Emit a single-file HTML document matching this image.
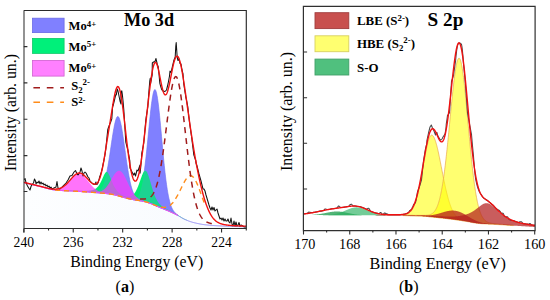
<!DOCTYPE html>
<html><head><meta charset="utf-8"><style>
html,body{margin:0;padding:0;background:#fff;}
body{width:550px;height:300px;overflow:hidden;font-family:"Liberation Serif",serif;}
svg{display:block;}
</style></head><body>
<svg width="550" height="300" viewBox="0 0 550 300">
<clipPath id="cl"><rect x="23.8" y="10.1" width="222.5" height="218.4"/></clipPath>
<g clip-path="url(#cl)">
<linearGradient id="pg" x1="0" x2="1" y1="0" y2="0"><stop offset="0" stop-color="#fdfeff"/><stop offset="1" stop-color="#f7fafe"/></linearGradient>
<path d="M23.8,182.5 L24.05,182.56 L24.3,182.63 L24.55,182.69 L24.8,182.75 L25.05,182.82 L25.3,182.88 L25.55,182.94 L25.8,183.01 L26.05,183.07 L26.3,183.13 L26.55,183.2 L26.8,183.26 L27.05,183.32 L27.3,183.38 L27.55,183.45 L27.8,183.51 L28.05,183.57 L28.3,183.63 L28.55,183.7 L28.8,183.76 L29.05,183.82 L29.3,183.88 L29.55,183.95 L29.8,184.01 L30.05,184.07 L30.3,184.13 L30.55,184.19 L30.8,184.26 L31.05,184.32 L31.3,184.38 L31.55,184.44 L31.8,184.5 L32.05,184.57 L32.3,184.63 L32.55,184.69 L32.8,184.75 L33.05,184.81 L33.3,184.87 L33.55,184.93 L33.8,185 L34.05,185.06 L34.3,185.12 L34.55,185.18 L34.8,185.24 L35.05,185.3 L35.3,185.36 L35.55,185.42 L35.8,185.48 L36.05,185.55 L36.3,185.61 L36.55,185.67 L36.8,185.73 L37.05,185.79 L37.3,185.85 L37.55,185.91 L37.8,185.97 L38.05,186.03 L38.3,186.09 L38.55,186.15 L38.8,186.21 L39.05,186.27 L39.3,186.33 L39.55,186.39 L39.8,186.45 L40.05,186.51 L40.3,186.57 L40.55,186.63 L40.8,186.7 L41.05,186.76 L41.3,186.82 L41.55,186.89 L41.8,186.95 L42.05,187.02 L42.3,187.09 L42.55,187.15 L42.8,187.22 L43.05,187.29 L43.3,187.36 L43.55,187.43 L43.8,187.5 L44.05,187.57 L44.3,187.63 L44.55,187.7 L44.8,187.77 L45.05,187.84 L45.3,187.91 L45.55,187.98 L45.8,188.05 L46.05,188.12 L46.3,188.19 L46.55,188.26 L46.8,188.32 L47.05,188.39 L47.3,188.46 L47.55,188.52 L47.8,188.59 L48.05,188.66 L48.3,188.72 L48.55,188.78 L48.8,188.85 L49.05,188.91 L49.3,188.97 L49.55,189.03 L49.8,189.09 L50.05,189.15 L50.3,189.2 L50.55,189.26 L50.8,189.31 L51.05,189.37 L51.3,189.42 L51.55,189.47 L51.8,189.52 L52.05,189.57 L52.3,189.61 L52.55,189.66 L52.8,189.7 L53.05,189.74 L53.3,189.78 L53.55,189.82 L53.8,189.86 L54.05,189.89 L54.3,189.92 L54.55,189.95 L54.8,189.98 L55.05,190.01 L55.3,190.03 L55.55,190.05 L55.8,190.08 L56.05,190.1 L56.3,190.12 L56.55,190.15 L56.8,190.17 L57.05,190.19 L57.3,190.21 L57.55,190.23 L57.8,190.25 L58.05,190.27 L58.3,190.29 L58.55,190.31 L58.8,190.33 L59.05,190.35 L59.3,190.37 L59.55,190.39 L59.8,190.41 L60.05,190.43 L60.3,190.44 L60.55,190.46 L60.8,190.48 L61.05,190.49 L61.3,190.51 L61.55,190.53 L61.8,190.54 L62.05,190.56 L62.3,190.57 L62.55,190.59 L62.8,190.6 L63.05,190.62 L63.3,190.63 L63.55,190.64 L63.8,190.66 L64.05,190.67 L64.3,190.69 L64.55,190.7 L64.8,190.71 L65.05,190.73 L65.3,190.74 L65.55,190.75 L65.8,190.76 L66.05,190.78 L66.3,190.79 L66.55,190.8 L66.8,190.81 L67.05,190.83 L67.3,190.84 L67.55,190.85 L67.8,190.86 L68.05,190.87 L68.3,190.88 L68.55,190.9 L68.8,190.91 L69.05,190.92 L69.3,190.93 L69.55,190.94 L69.8,190.95 L70.05,190.97 L70.3,190.98 L70.55,190.99 L70.8,191 L71.05,191.01 L71.3,191.02 L71.55,191.03 L71.8,191.05 L72.05,191.06 L72.3,191.07 L72.55,191.08 L72.8,191.09 L73.05,191.11 L73.3,191.12 L73.55,191.13 L73.8,191.14 L74.05,191.15 L74.3,191.17 L74.55,191.18 L74.8,191.19 L75.05,191.2 L75.3,191.22 L75.55,191.23 L75.8,191.24 L76.05,191.26 L76.3,191.27 L76.55,191.29 L76.8,191.3 L77.05,191.31 L77.3,191.33 L77.55,191.34 L77.8,191.36 L78.05,191.37 L78.3,191.39 L78.55,191.4 L78.8,191.42 L79.05,191.44 L79.3,191.45 L79.55,191.47 L79.8,191.49 L80.05,191.5 L80.3,191.52 L80.55,191.54 L80.8,191.56 L81.05,191.57 L81.3,191.59 L81.55,191.61 L81.8,191.62 L82.05,191.64 L82.3,191.66 L82.55,191.67 L82.8,191.69 L83.05,191.71 L83.3,191.72 L83.55,191.74 L83.8,191.76 L84.05,191.77 L84.3,191.79 L84.55,191.81 L84.8,191.82 L85.05,191.84 L85.3,191.86 L85.55,191.87 L85.8,191.89 L86.05,191.91 L86.3,191.92 L86.55,191.94 L86.8,191.96 L87.05,191.97 L87.3,191.99 L87.55,192 L87.8,192.02 L88.05,192.04 L88.3,192.05 L88.55,192.07 L88.8,192.09 L89.05,192.11 L89.3,192.12 L89.55,192.14 L89.8,192.16 L90.05,192.17 L90.3,192.19 L90.55,192.21 L90.8,192.22 L91.05,192.24 L91.3,192.26 L91.55,192.28 L91.8,192.29 L92.05,192.31 L92.3,192.33 L92.55,192.35 L92.8,192.36 L93.05,192.38 L93.3,192.4 L93.55,192.42 L93.8,192.44 L94.05,192.45 L94.3,192.47 L94.55,192.49 L94.8,192.51 L95.05,192.53 L95.3,192.55 L95.55,192.57 L95.8,192.59 L96.05,192.61 L96.3,192.63 L96.55,192.64 L96.8,192.66 L97.05,192.68 L97.3,192.7 L97.55,192.72 L97.8,192.74 L98.05,192.77 L98.3,192.79 L98.55,192.81 L98.8,192.83 L99.05,192.85 L99.3,192.87 L99.55,192.89 L99.8,192.91 L100.05,192.94 L100.3,192.96 L100.55,192.98 L100.8,193 L101.05,193.03 L101.3,193.05 L101.55,193.07 L101.8,193.09 L102.05,193.12 L102.3,193.14 L102.55,193.17 L102.8,193.19 L103.05,193.21 L103.3,193.24 L103.55,193.26 L103.8,193.29 L104.05,193.32 L104.3,193.34 L104.55,193.37 L104.8,193.39 L105.05,193.42 L105.3,193.45 L105.55,193.47 L105.8,193.5 L106.05,193.53 L106.3,193.56 L106.55,193.58 L106.8,193.61 L107.05,193.64 L107.3,193.67 L107.55,193.7 L107.8,193.73 L108.05,193.76 L108.3,193.79 L108.55,193.82 L108.8,193.85 L109.05,193.88 L109.3,193.91 L109.55,193.94 L109.8,193.97 L110.05,194.01 L110.3,194.04 L110.55,194.08 L110.8,194.11 L111.05,194.15 L111.3,194.19 L111.55,194.23 L111.8,194.28 L112.05,194.32 L112.3,194.37 L112.55,194.42 L112.8,194.46 L113.05,194.51 L113.3,194.57 L113.55,194.62 L113.8,194.67 L114.05,194.73 L114.3,194.79 L114.55,194.84 L114.8,194.9 L115.05,194.96 L115.3,195.02 L115.55,195.08 L115.8,195.15 L116.05,195.21 L116.3,195.28 L116.55,195.34 L116.8,195.41 L117.05,195.47 L117.3,195.54 L117.55,195.61 L117.8,195.68 L118.05,195.75 L118.3,195.82 L118.55,195.89 L118.8,195.96 L119.05,196.03 L119.3,196.1 L119.55,196.17 L119.8,196.25 L120.05,196.32 L120.3,196.39 L120.55,196.46 L120.8,196.54 L121.05,196.61 L121.3,196.68 L121.55,196.76 L121.8,196.83 L122.05,196.9 L122.3,196.98 L122.55,197.05 L122.8,197.12 L123.05,197.2 L123.3,197.27 L123.55,197.34 L123.8,197.41 L124.05,197.49 L124.3,197.56 L124.55,197.63 L124.8,197.7 L125.05,197.77 L125.3,197.84 L125.55,197.91 L125.8,197.98 L126.05,198.04 L126.3,198.11 L126.55,198.18 L126.8,198.24 L127.05,198.31 L127.3,198.37 L127.55,198.44 L127.8,198.5 L128.05,198.56 L128.3,198.62 L128.55,198.68 L128.8,198.74 L129.05,198.79 L129.3,198.85 L129.55,198.9 L129.8,198.96 L130.05,199.01 L130.3,199.06 L130.55,199.11 L130.8,199.16 L131.05,199.21 L131.3,199.26 L131.55,199.3 L131.8,199.35 L132.05,199.4 L132.3,199.44 L132.55,199.48 L132.8,199.53 L133.05,199.57 L133.3,199.61 L133.55,199.65 L133.8,199.7 L134.05,199.74 L134.3,199.78 L134.55,199.82 L134.8,199.86 L135.05,199.9 L135.3,199.94 L135.55,199.98 L135.8,200.01 L136.05,200.05 L136.3,200.09 L136.55,200.13 L136.8,200.17 L137.05,200.21 L137.3,200.25 L137.55,200.29 L137.8,200.33 L138.05,200.37 L138.3,200.41 L138.55,200.45 L138.8,200.49 L139.05,200.53 L139.3,200.57 L139.55,200.61 L139.8,200.65 L140.05,200.69 L140.3,200.74 L140.55,200.78 L140.8,200.82 L141.05,200.87 L141.3,200.92 L141.55,200.96 L141.8,201.01 L142.05,201.06 L142.3,201.11 L142.55,201.16 L142.8,201.21 L143.05,201.26 L143.3,201.31 L143.55,201.36 L143.8,201.42 L144.05,201.48 L144.3,201.53 L144.55,201.59 L144.8,201.65 L145.05,201.71 L145.3,201.78 L145.55,201.84 L145.8,201.91 L146.05,201.98 L146.3,202.05 L146.55,202.12 L146.8,202.2 L147.05,202.27 L147.3,202.35 L147.55,202.43 L147.8,202.51 L148.05,202.6 L148.3,202.68 L148.55,202.77 L148.8,202.86 L149.05,202.95 L149.3,203.04 L149.55,203.13 L149.8,203.22 L150.05,203.32 L150.3,203.41 L150.55,203.51 L150.8,203.61 L151.05,203.71 L151.3,203.81 L151.55,203.91 L151.8,204.01 L152.05,204.11 L152.3,204.22 L152.55,204.32 L152.8,204.43 L153.05,204.53 L153.3,204.64 L153.55,204.74 L153.8,204.85 L154.05,204.96 L154.3,205.06 L154.55,205.17 L154.8,205.28 L155.05,205.39 L155.3,205.5 L155.55,205.61 L155.8,205.72 L156.05,205.82 L156.3,205.93 L156.55,206.04 L156.8,206.15 L157.05,206.26 L157.3,206.37 L157.55,206.47 L157.8,206.58 L158.05,206.69 L158.3,206.79 L158.55,206.9 L158.8,207 L159.05,207.11 L159.3,207.21 L159.55,207.32 L159.8,207.42 L160.05,207.52 L160.3,207.62 L160.55,207.72 L160.8,207.82 L161.05,207.92 L161.3,208.03 L161.55,208.13 L161.8,208.23 L162.05,208.33 L162.3,208.43 L162.55,208.53 L162.8,208.63 L163.05,208.73 L163.3,208.83 L163.55,208.93 L163.8,209.03 L164.05,209.13 L164.3,209.23 L164.55,209.34 L164.8,209.44 L165.05,209.54 L165.3,209.64 L165.55,209.74 L165.8,209.84 L166.05,209.95 L166.3,210.05 L166.55,210.15 L166.8,210.25 L167.05,210.36 L167.3,210.46 L167.55,210.57 L167.8,210.67 L168.05,210.77 L168.3,210.88 L168.55,210.98 L168.8,211.09 L169.05,211.2 L169.3,211.3 L169.55,211.41 L169.8,211.52 L170.05,211.63 L170.3,211.74 L170.55,211.85 L170.8,211.96 L171.05,212.07 L171.3,212.18 L171.55,212.29 L171.8,212.4 L172.05,212.51 L172.3,212.63 L172.55,212.74 L172.8,212.86 L173.05,212.97 L173.3,213.09 L173.55,213.21 L173.8,213.32 L174.05,213.44 L174.3,213.56 L174.55,213.68 L174.8,213.8 L175.05,213.92 L175.3,214.05 L175.55,214.18 L175.8,214.31 L176.05,214.44 L176.3,214.58 L176.55,214.71 L176.8,214.85 L177.05,215 L177.3,215.14 L177.55,215.29 L177.8,215.43 L178.05,215.58 L178.3,215.73 L178.55,215.88 L178.8,216.03 L179.05,216.19 L179.3,216.34 L179.55,216.49 L179.8,216.64 L180.05,216.8 L180.3,216.95 L180.55,217.1 L180.8,217.25 L181.05,217.4 L181.3,217.55 L181.55,217.69 L181.8,217.84 L182.05,217.98 L182.3,218.13 L182.55,218.27 L182.8,218.41 L183.05,218.54 L183.3,218.68 L183.55,218.81 L183.8,218.93 L184.05,219.06 L184.3,219.18 L184.55,219.3 L184.8,219.41 L185.05,219.52 L185.3,219.63 L185.55,219.74 L185.8,219.85 L186.05,219.95 L186.3,220.06 L186.55,220.16 L186.8,220.27 L187.05,220.37 L187.3,220.47 L187.55,220.57 L187.8,220.67 L188.05,220.77 L188.3,220.86 L188.55,220.96 L188.8,221.05 L189.05,221.14 L189.3,221.23 L189.55,221.32 L189.8,221.41 L190.05,221.5 L190.3,221.58 L190.55,221.66 L190.8,221.75 L191.05,221.83 L191.3,221.9 L191.55,221.98 L191.8,222.05 L192.05,222.12 L192.3,222.19 L192.55,222.26 L192.8,222.33 L193.05,222.39 L193.3,222.45 L193.55,222.52 L193.8,222.58 L194.05,222.64 L194.3,222.71 L194.55,222.77 L194.8,222.83 L195.05,222.89 L195.3,222.95 L195.55,223.01 L195.8,223.07 L196.05,223.13 L196.3,223.18 L196.55,223.24 L196.8,223.3 L197.05,223.35 L197.3,223.41 L197.55,223.46 L197.8,223.52 L198.05,223.57 L198.3,223.62 L198.55,223.67 L198.8,223.73 L199.05,223.78 L199.3,223.83 L199.55,223.87 L199.8,223.92 L200.05,223.97 L200.3,224.02 L200.55,224.06 L200.8,224.11 L201.05,224.15 L201.3,224.2 L201.55,224.24 L201.8,224.28 L202.05,224.32 L202.3,224.36 L202.55,224.4 L202.8,224.44 L203.05,224.48 L203.3,224.51 L203.55,224.55 L203.8,224.59 L204.05,224.62 L204.3,224.65 L204.55,224.69 L204.8,224.72 L205.05,224.75 L205.3,224.78 L205.55,224.81 L205.8,224.83 L206.05,224.86 L206.3,224.89 L206.55,224.92 L206.8,224.94 L207.05,224.97 L207.3,225 L207.55,225.02 L207.8,225.05 L208.05,225.07 L208.3,225.1 L208.55,225.12 L208.8,225.14 L209.05,225.17 L209.3,225.19 L209.55,225.21 L209.8,225.24 L210.05,225.26 L210.3,225.28 L210.55,225.3 L210.8,225.32 L211.05,225.34 L211.3,225.37 L211.55,225.39 L211.8,225.41 L212.05,225.43 L212.3,225.44 L212.55,225.46 L212.8,225.48 L213.05,225.5 L213.3,225.52 L213.55,225.54 L213.8,225.55 L214.05,225.57 L214.3,225.59 L214.55,225.6 L214.8,225.62 L215.05,225.64 L215.3,225.65 L215.55,225.67 L215.8,225.68 L216.05,225.7 L216.3,225.71 L216.55,225.72 L216.8,225.74 L217.05,225.75 L217.3,225.77 L217.55,225.78 L217.8,225.79 L218.05,225.8 L218.3,225.81 L218.55,225.83 L218.8,225.84 L219.05,225.85 L219.3,225.86 L219.55,225.87 L219.8,225.89 L220.05,225.9 L220.3,225.91 L220.55,225.92 L220.8,225.93 L221.05,225.95 L221.3,225.96 L221.55,225.97 L221.8,225.98 L222.05,225.99 L222.3,226.01 L222.55,226.02 L222.8,226.03 L223.05,226.04 L223.3,226.05 L223.55,226.06 L223.8,226.07 L224.05,226.09 L224.3,226.1 L224.55,226.11 L224.8,226.12 L225.05,226.13 L225.3,226.14 L225.55,226.15 L225.8,226.16 L226.05,226.18 L226.3,226.19 L226.55,226.2 L226.8,226.21 L227.05,226.22 L227.3,226.23 L227.55,226.24 L227.8,226.25 L228.05,226.26 L228.3,226.27 L228.55,226.28 L228.8,226.29 L229.05,226.3 L229.3,226.31 L229.55,226.32 L229.8,226.33 L230.05,226.34 L230.3,226.35 L230.55,226.36 L230.8,226.37 L231.05,226.38 L231.3,226.39 L231.55,226.4 L231.8,226.41 L232.05,226.42 L232.3,226.43 L232.55,226.43 L232.8,226.44 L233.05,226.45 L233.3,226.46 L233.55,226.47 L233.8,226.48 L234.05,226.49 L234.3,226.49 L234.55,226.5 L234.8,226.51 L235.05,226.52 L235.3,226.52 L235.55,226.53 L235.8,226.54 L236.05,226.55 L236.3,226.55 L236.55,226.56 L236.8,226.57 L237.05,226.57 L237.3,226.58 L237.55,226.59 L237.8,226.59 L238.05,226.6 L238.3,226.6 L238.55,226.61 L238.8,226.61 L239.05,226.62 L239.3,226.62 L239.55,226.63 L239.8,226.63 L240.05,226.64 L240.3,226.64 L240.55,226.65 L240.8,226.65 L241.05,226.66 L241.3,226.66 L241.55,226.66 L241.8,226.67 L242.05,226.67 L242.3,226.67 L242.55,226.68 L242.8,226.68 L243.05,226.68 L243.3,226.69 L243.55,226.69 L243.8,226.69 L244.05,226.69 L244.3,226.69 L244.55,226.69 L244.8,226.7 L245.05,226.7 L245.3,226.7 L245.55,226.7 L245.8,226.7 L246.05,226.7 L246.3,226.7 L246.3,228.5 L246.05,228.5 L245.8,228.5 L245.55,228.5 L245.3,228.5 L245.05,228.5 L244.8,228.5 L244.55,228.5 L244.3,228.5 L244.05,228.5 L243.8,228.5 L243.55,228.5 L243.3,228.5 L243.05,228.5 L242.8,228.5 L242.55,228.5 L242.3,228.5 L242.05,228.5 L241.8,228.5 L241.55,228.5 L241.3,228.5 L241.05,228.5 L240.8,228.5 L240.55,228.5 L240.3,228.5 L240.05,228.5 L239.8,228.5 L239.55,228.5 L239.3,228.5 L239.05,228.5 L238.8,228.5 L238.55,228.5 L238.3,228.5 L238.05,228.5 L237.8,228.5 L237.55,228.5 L237.3,228.5 L237.05,228.5 L236.8,228.5 L236.55,228.5 L236.3,228.5 L236.05,228.5 L235.8,228.5 L235.55,228.5 L235.3,228.5 L235.05,228.5 L234.8,228.5 L234.55,228.5 L234.3,228.5 L234.05,228.5 L233.8,228.5 L233.55,228.5 L233.3,228.5 L233.05,228.5 L232.8,228.5 L232.55,228.5 L232.3,228.5 L232.05,228.5 L231.8,228.5 L231.55,228.5 L231.3,228.5 L231.05,228.5 L230.8,228.5 L230.55,228.5 L230.3,228.5 L230.05,228.5 L229.8,228.5 L229.55,228.5 L229.3,228.5 L229.05,228.5 L228.8,228.5 L228.55,228.5 L228.3,228.5 L228.05,228.5 L227.8,228.5 L227.55,228.5 L227.3,228.5 L227.05,228.5 L226.8,228.5 L226.55,228.5 L226.3,228.5 L226.05,228.5 L225.8,228.5 L225.55,228.5 L225.3,228.5 L225.05,228.5 L224.8,228.5 L224.55,228.5 L224.3,228.5 L224.05,228.5 L223.8,228.5 L223.55,228.5 L223.3,228.5 L223.05,228.5 L222.8,228.5 L222.55,228.5 L222.3,228.5 L222.05,228.5 L221.8,228.5 L221.55,228.5 L221.3,228.5 L221.05,228.5 L220.8,228.5 L220.55,228.5 L220.3,228.5 L220.05,228.5 L219.8,228.5 L219.55,228.5 L219.3,228.5 L219.05,228.5 L218.8,228.5 L218.55,228.5 L218.3,228.5 L218.05,228.5 L217.8,228.5 L217.55,228.5 L217.3,228.5 L217.05,228.5 L216.8,228.5 L216.55,228.5 L216.3,228.5 L216.05,228.5 L215.8,228.5 L215.55,228.5 L215.3,228.5 L215.05,228.5 L214.8,228.5 L214.55,228.5 L214.3,228.5 L214.05,228.5 L213.8,228.5 L213.55,228.5 L213.3,228.5 L213.05,228.5 L212.8,228.5 L212.55,228.5 L212.3,228.5 L212.05,228.5 L211.8,228.5 L211.55,228.5 L211.3,228.5 L211.05,228.5 L210.8,228.5 L210.55,228.5 L210.3,228.5 L210.05,228.5 L209.8,228.5 L209.55,228.5 L209.3,228.5 L209.05,228.5 L208.8,228.5 L208.55,228.5 L208.3,228.5 L208.05,228.5 L207.8,228.5 L207.55,228.5 L207.3,228.5 L207.05,228.5 L206.8,228.5 L206.55,228.5 L206.3,228.5 L206.05,228.5 L205.8,228.5 L205.55,228.5 L205.3,228.5 L205.05,228.5 L204.8,228.5 L204.55,228.5 L204.3,228.5 L204.05,228.5 L203.8,228.5 L203.55,228.5 L203.3,228.5 L203.05,228.5 L202.8,228.5 L202.55,228.5 L202.3,228.5 L202.05,228.5 L201.8,228.5 L201.55,228.5 L201.3,228.5 L201.05,228.5 L200.8,228.5 L200.55,228.5 L200.3,228.5 L200.05,228.5 L199.8,228.5 L199.55,228.5 L199.3,228.5 L199.05,228.5 L198.8,228.5 L198.55,228.5 L198.3,228.5 L198.05,228.5 L197.8,228.5 L197.55,228.5 L197.3,228.5 L197.05,228.5 L196.8,228.5 L196.55,228.5 L196.3,228.5 L196.05,228.5 L195.8,228.5 L195.55,228.5 L195.3,228.5 L195.05,228.5 L194.8,228.5 L194.55,228.5 L194.3,228.5 L194.05,228.5 L193.8,228.5 L193.55,228.5 L193.3,228.5 L193.05,228.5 L192.8,228.5 L192.55,228.5 L192.3,228.5 L192.05,228.5 L191.8,228.5 L191.55,228.5 L191.3,228.5 L191.05,228.5 L190.8,228.5 L190.55,228.5 L190.3,228.5 L190.05,228.5 L189.8,228.5 L189.55,228.5 L189.3,228.5 L189.05,228.5 L188.8,228.5 L188.55,228.5 L188.3,228.5 L188.05,228.5 L187.8,228.5 L187.55,228.5 L187.3,228.5 L187.05,228.5 L186.8,228.5 L186.55,228.5 L186.3,228.5 L186.05,228.5 L185.8,228.5 L185.55,228.5 L185.3,228.5 L185.05,228.5 L184.8,228.5 L184.55,228.5 L184.3,228.5 L184.05,228.5 L183.8,228.5 L183.55,228.5 L183.3,228.5 L183.05,228.5 L182.8,228.5 L182.55,228.5 L182.3,228.5 L182.05,228.5 L181.8,228.5 L181.55,228.5 L181.3,228.5 L181.05,228.5 L180.8,228.5 L180.55,228.5 L180.3,228.5 L180.05,228.5 L179.8,228.5 L179.55,228.5 L179.3,228.5 L179.05,228.5 L178.8,228.5 L178.55,228.5 L178.3,228.5 L178.05,228.5 L177.8,228.5 L177.55,228.5 L177.3,228.5 L177.05,228.5 L176.8,228.5 L176.55,228.5 L176.3,228.5 L176.05,228.5 L175.8,228.5 L175.55,228.5 L175.3,228.5 L175.05,228.5 L174.8,228.5 L174.55,228.5 L174.3,228.5 L174.05,228.5 L173.8,228.5 L173.55,228.5 L173.3,228.5 L173.05,228.5 L172.8,228.5 L172.55,228.5 L172.3,228.5 L172.05,228.5 L171.8,228.5 L171.55,228.5 L171.3,228.5 L171.05,228.5 L170.8,228.5 L170.55,228.5 L170.3,228.5 L170.05,228.5 L169.8,228.5 L169.55,228.5 L169.3,228.5 L169.05,228.5 L168.8,228.5 L168.55,228.5 L168.3,228.5 L168.05,228.5 L167.8,228.5 L167.55,228.5 L167.3,228.5 L167.05,228.5 L166.8,228.5 L166.55,228.5 L166.3,228.5 L166.05,228.5 L165.8,228.5 L165.55,228.5 L165.3,228.5 L165.05,228.5 L164.8,228.5 L164.55,228.5 L164.3,228.5 L164.05,228.5 L163.8,228.5 L163.55,228.5 L163.3,228.5 L163.05,228.5 L162.8,228.5 L162.55,228.5 L162.3,228.5 L162.05,228.5 L161.8,228.5 L161.55,228.5 L161.3,228.5 L161.05,228.5 L160.8,228.5 L160.55,228.5 L160.3,228.5 L160.05,228.5 L159.8,228.5 L159.55,228.5 L159.3,228.5 L159.05,228.5 L158.8,228.5 L158.55,228.5 L158.3,228.5 L158.05,228.5 L157.8,228.5 L157.55,228.5 L157.3,228.5 L157.05,228.5 L156.8,228.5 L156.55,228.5 L156.3,228.5 L156.05,228.5 L155.8,228.5 L155.55,228.5 L155.3,228.5 L155.05,228.5 L154.8,228.5 L154.55,228.5 L154.3,228.5 L154.05,228.5 L153.8,228.5 L153.55,228.5 L153.3,228.5 L153.05,228.5 L152.8,228.5 L152.55,228.5 L152.3,228.5 L152.05,228.5 L151.8,228.5 L151.55,228.5 L151.3,228.5 L151.05,228.5 L150.8,228.5 L150.55,228.5 L150.3,228.5 L150.05,228.5 L149.8,228.5 L149.55,228.5 L149.3,228.5 L149.05,228.5 L148.8,228.5 L148.55,228.5 L148.3,228.5 L148.05,228.5 L147.8,228.5 L147.55,228.5 L147.3,228.5 L147.05,228.5 L146.8,228.5 L146.55,228.5 L146.3,228.5 L146.05,228.5 L145.8,228.5 L145.55,228.5 L145.3,228.5 L145.05,228.5 L144.8,228.5 L144.55,228.5 L144.3,228.5 L144.05,228.5 L143.8,228.5 L143.55,228.5 L143.3,228.5 L143.05,228.5 L142.8,228.5 L142.55,228.5 L142.3,228.5 L142.05,228.5 L141.8,228.5 L141.55,228.5 L141.3,228.5 L141.05,228.5 L140.8,228.5 L140.55,228.5 L140.3,228.5 L140.05,228.5 L139.8,228.5 L139.55,228.5 L139.3,228.5 L139.05,228.5 L138.8,228.5 L138.55,228.5 L138.3,228.5 L138.05,228.5 L137.8,228.5 L137.55,228.5 L137.3,228.5 L137.05,228.5 L136.8,228.5 L136.55,228.5 L136.3,228.5 L136.05,228.5 L135.8,228.5 L135.55,228.5 L135.3,228.5 L135.05,228.5 L134.8,228.5 L134.55,228.5 L134.3,228.5 L134.05,228.5 L133.8,228.5 L133.55,228.5 L133.3,228.5 L133.05,228.5 L132.8,228.5 L132.55,228.5 L132.3,228.5 L132.05,228.5 L131.8,228.5 L131.55,228.5 L131.3,228.5 L131.05,228.5 L130.8,228.5 L130.55,228.5 L130.3,228.5 L130.05,228.5 L129.8,228.5 L129.55,228.5 L129.3,228.5 L129.05,228.5 L128.8,228.5 L128.55,228.5 L128.3,228.5 L128.05,228.5 L127.8,228.5 L127.55,228.5 L127.3,228.5 L127.05,228.5 L126.8,228.5 L126.55,228.5 L126.3,228.5 L126.05,228.5 L125.8,228.5 L125.55,228.5 L125.3,228.5 L125.05,228.5 L124.8,228.5 L124.55,228.5 L124.3,228.5 L124.05,228.5 L123.8,228.5 L123.55,228.5 L123.3,228.5 L123.05,228.5 L122.8,228.5 L122.55,228.5 L122.3,228.5 L122.05,228.5 L121.8,228.5 L121.55,228.5 L121.3,228.5 L121.05,228.5 L120.8,228.5 L120.55,228.5 L120.3,228.5 L120.05,228.5 L119.8,228.5 L119.55,228.5 L119.3,228.5 L119.05,228.5 L118.8,228.5 L118.55,228.5 L118.3,228.5 L118.05,228.5 L117.8,228.5 L117.55,228.5 L117.3,228.5 L117.05,228.5 L116.8,228.5 L116.55,228.5 L116.3,228.5 L116.05,228.5 L115.8,228.5 L115.55,228.5 L115.3,228.5 L115.05,228.5 L114.8,228.5 L114.55,228.5 L114.3,228.5 L114.05,228.5 L113.8,228.5 L113.55,228.5 L113.3,228.5 L113.05,228.5 L112.8,228.5 L112.55,228.5 L112.3,228.5 L112.05,228.5 L111.8,228.5 L111.55,228.5 L111.3,228.5 L111.05,228.5 L110.8,228.5 L110.55,228.5 L110.3,228.5 L110.05,228.5 L109.8,228.5 L109.55,228.5 L109.3,228.5 L109.05,228.5 L108.8,228.5 L108.55,228.5 L108.3,228.5 L108.05,228.5 L107.8,228.5 L107.55,228.5 L107.3,228.5 L107.05,228.5 L106.8,228.5 L106.55,228.5 L106.3,228.5 L106.05,228.5 L105.8,228.5 L105.55,228.5 L105.3,228.5 L105.05,228.5 L104.8,228.5 L104.55,228.5 L104.3,228.5 L104.05,228.5 L103.8,228.5 L103.55,228.5 L103.3,228.5 L103.05,228.5 L102.8,228.5 L102.55,228.5 L102.3,228.5 L102.05,228.5 L101.8,228.5 L101.55,228.5 L101.3,228.5 L101.05,228.5 L100.8,228.5 L100.55,228.5 L100.3,228.5 L100.05,228.5 L99.8,228.5 L99.55,228.5 L99.3,228.5 L99.05,228.5 L98.8,228.5 L98.55,228.5 L98.3,228.5 L98.05,228.5 L97.8,228.5 L97.55,228.5 L97.3,228.5 L97.05,228.5 L96.8,228.5 L96.55,228.5 L96.3,228.5 L96.05,228.5 L95.8,228.5 L95.55,228.5 L95.3,228.5 L95.05,228.5 L94.8,228.5 L94.55,228.5 L94.3,228.5 L94.05,228.5 L93.8,228.5 L93.55,228.5 L93.3,228.5 L93.05,228.5 L92.8,228.5 L92.55,228.5 L92.3,228.5 L92.05,228.5 L91.8,228.5 L91.55,228.5 L91.3,228.5 L91.05,228.5 L90.8,228.5 L90.55,228.5 L90.3,228.5 L90.05,228.5 L89.8,228.5 L89.55,228.5 L89.3,228.5 L89.05,228.5 L88.8,228.5 L88.55,228.5 L88.3,228.5 L88.05,228.5 L87.8,228.5 L87.55,228.5 L87.3,228.5 L87.05,228.5 L86.8,228.5 L86.55,228.5 L86.3,228.5 L86.05,228.5 L85.8,228.5 L85.55,228.5 L85.3,228.5 L85.05,228.5 L84.8,228.5 L84.55,228.5 L84.3,228.5 L84.05,228.5 L83.8,228.5 L83.55,228.5 L83.3,228.5 L83.05,228.5 L82.8,228.5 L82.55,228.5 L82.3,228.5 L82.05,228.5 L81.8,228.5 L81.55,228.5 L81.3,228.5 L81.05,228.5 L80.8,228.5 L80.55,228.5 L80.3,228.5 L80.05,228.5 L79.8,228.5 L79.55,228.5 L79.3,228.5 L79.05,228.5 L78.8,228.5 L78.55,228.5 L78.3,228.5 L78.05,228.5 L77.8,228.5 L77.55,228.5 L77.3,228.5 L77.05,228.5 L76.8,228.5 L76.55,228.5 L76.3,228.5 L76.05,228.5 L75.8,228.5 L75.55,228.5 L75.3,228.5 L75.05,228.5 L74.8,228.5 L74.55,228.5 L74.3,228.5 L74.05,228.5 L73.8,228.5 L73.55,228.5 L73.3,228.5 L73.05,228.5 L72.8,228.5 L72.55,228.5 L72.3,228.5 L72.05,228.5 L71.8,228.5 L71.55,228.5 L71.3,228.5 L71.05,228.5 L70.8,228.5 L70.55,228.5 L70.3,228.5 L70.05,228.5 L69.8,228.5 L69.55,228.5 L69.3,228.5 L69.05,228.5 L68.8,228.5 L68.55,228.5 L68.3,228.5 L68.05,228.5 L67.8,228.5 L67.55,228.5 L67.3,228.5 L67.05,228.5 L66.8,228.5 L66.55,228.5 L66.3,228.5 L66.05,228.5 L65.8,228.5 L65.55,228.5 L65.3,228.5 L65.05,228.5 L64.8,228.5 L64.55,228.5 L64.3,228.5 L64.05,228.5 L63.8,228.5 L63.55,228.5 L63.3,228.5 L63.05,228.5 L62.8,228.5 L62.55,228.5 L62.3,228.5 L62.05,228.5 L61.8,228.5 L61.55,228.5 L61.3,228.5 L61.05,228.5 L60.8,228.5 L60.55,228.5 L60.3,228.5 L60.05,228.5 L59.8,228.5 L59.55,228.5 L59.3,228.5 L59.05,228.5 L58.8,228.5 L58.55,228.5 L58.3,228.5 L58.05,228.5 L57.8,228.5 L57.55,228.5 L57.3,228.5 L57.05,228.5 L56.8,228.5 L56.55,228.5 L56.3,228.5 L56.05,228.5 L55.8,228.5 L55.55,228.5 L55.3,228.5 L55.05,228.5 L54.8,228.5 L54.55,228.5 L54.3,228.5 L54.05,228.5 L53.8,228.5 L53.55,228.5 L53.3,228.5 L53.05,228.5 L52.8,228.5 L52.55,228.5 L52.3,228.5 L52.05,228.5 L51.8,228.5 L51.55,228.5 L51.3,228.5 L51.05,228.5 L50.8,228.5 L50.55,228.5 L50.3,228.5 L50.05,228.5 L49.8,228.5 L49.55,228.5 L49.3,228.5 L49.05,228.5 L48.8,228.5 L48.55,228.5 L48.3,228.5 L48.05,228.5 L47.8,228.5 L47.55,228.5 L47.3,228.5 L47.05,228.5 L46.8,228.5 L46.55,228.5 L46.3,228.5 L46.05,228.5 L45.8,228.5 L45.55,228.5 L45.3,228.5 L45.05,228.5 L44.8,228.5 L44.55,228.5 L44.3,228.5 L44.05,228.5 L43.8,228.5 L43.55,228.5 L43.3,228.5 L43.05,228.5 L42.8,228.5 L42.55,228.5 L42.3,228.5 L42.05,228.5 L41.8,228.5 L41.55,228.5 L41.3,228.5 L41.05,228.5 L40.8,228.5 L40.55,228.5 L40.3,228.5 L40.05,228.5 L39.8,228.5 L39.55,228.5 L39.3,228.5 L39.05,228.5 L38.8,228.5 L38.55,228.5 L38.3,228.5 L38.05,228.5 L37.8,228.5 L37.55,228.5 L37.3,228.5 L37.05,228.5 L36.8,228.5 L36.55,228.5 L36.3,228.5 L36.05,228.5 L35.8,228.5 L35.55,228.5 L35.3,228.5 L35.05,228.5 L34.8,228.5 L34.55,228.5 L34.3,228.5 L34.05,228.5 L33.8,228.5 L33.55,228.5 L33.3,228.5 L33.05,228.5 L32.8,228.5 L32.55,228.5 L32.3,228.5 L32.05,228.5 L31.8,228.5 L31.55,228.5 L31.3,228.5 L31.05,228.5 L30.8,228.5 L30.55,228.5 L30.3,228.5 L30.05,228.5 L29.8,228.5 L29.55,228.5 L29.3,228.5 L29.05,228.5 L28.8,228.5 L28.55,228.5 L28.3,228.5 L28.05,228.5 L27.8,228.5 L27.55,228.5 L27.3,228.5 L27.05,228.5 L26.8,228.5 L26.55,228.5 L26.3,228.5 L26.05,228.5 L25.8,228.5 L25.55,228.5 L25.3,228.5 L25.05,228.5 L24.8,228.5 L24.55,228.5 L24.3,228.5 L24.05,228.5 L23.8,228.5Z" fill="url(#pg)"/>
<path d="M94.8,192.21 L95.05,192.19 L95.3,192.17 L95.55,192.14 L95.8,192.1 L96.05,192.06 L96.3,192.02 L96.55,191.97 L96.8,191.91 L97.05,191.84 L97.3,191.76 L97.55,191.68 L97.8,191.58 L98.05,191.48 L98.3,191.36 L98.55,191.23 L98.8,191.08 L99.05,190.92 L99.3,190.74 L99.55,190.55 L99.8,190.34 L100.05,190.11 L100.3,189.86 L100.55,189.59 L100.8,189.29 L101.05,188.97 L101.3,188.62 L101.55,188.25 L101.8,187.85 L102.05,187.42 L102.3,186.95 L102.55,186.46 L102.8,185.93 L103.05,185.37 L103.3,184.76 L103.55,184.12 L103.8,183.45 L104.05,182.73 L104.3,181.97 L104.55,181.17 L104.8,180.32 L105.05,179.43 L105.3,178.5 L105.55,177.52 L105.8,176.5 L106.05,175.43 L106.3,174.32 L106.55,173.16 L106.8,171.95 L107.05,170.71 L107.3,169.41 L107.55,168.08 L107.8,166.7 L108.05,165.29 L108.3,163.83 L108.55,162.34 L108.8,160.82 L109.05,159.26 L109.3,157.67 L109.55,156.06 L109.8,154.43 L110.05,152.77 L110.3,151.1 L110.55,149.42 L110.8,147.74 L111.05,146.05 L111.3,144.36 L111.55,142.68 L111.8,141.01 L112.05,139.36 L112.3,137.72 L112.55,136.11 L112.8,134.54 L113.05,132.99 L113.3,131.49 L113.55,130.04 L113.8,128.63 L114.05,127.28 L114.3,125.99 L114.55,124.77 L114.8,123.62 L115.05,122.54 L115.3,121.53 L115.55,120.61 L115.8,119.78 L116.05,119.03 L116.3,118.38 L116.55,117.82 L116.8,117.36 L117.05,116.99 L117.3,116.73 L117.55,116.57 L117.8,116.51 L118.05,116.55 L118.3,116.7 L118.55,116.94 L118.8,117.3 L119.05,117.75 L119.3,118.3 L119.55,118.95 L119.8,119.69 L120.05,120.53 L120.3,121.45 L120.55,122.47 L120.8,123.56 L121.05,124.74 L121.3,125.99 L121.55,127.31 L121.8,128.7 L122.05,130.14 L122.3,131.65 L122.55,133.21 L122.8,134.81 L123.05,136.46 L123.3,138.14 L123.55,139.85 L123.8,141.59 L124.05,143.36 L124.3,145.13 L124.55,146.92 L124.8,148.72 L125.05,150.52 L125.3,152.32 L125.55,154.1 L125.8,155.88 L126.05,157.65 L126.3,159.39 L126.55,161.11 L126.8,162.81 L127.05,164.48 L127.3,166.11 L127.55,167.71 L127.8,169.28 L128.05,170.81 L128.3,172.29 L128.55,173.74 L128.8,175.14 L129.05,176.49 L129.3,177.81 L129.55,179.07 L129.8,180.29 L130.05,181.46 L130.3,182.59 L130.55,183.66 L130.8,184.7 L131.05,185.68 L131.3,186.62 L131.55,187.52 L131.8,188.37 L132.05,189.18 L132.3,189.95 L132.55,190.68 L132.8,191.36 L133.05,192.02 L133.3,192.63 L133.55,193.21 L133.8,193.75 L134.05,194.26 L134.3,194.74 L134.55,195.19 L134.8,195.62 L135.05,196.01 L135.3,196.38 L135.55,196.73 L135.8,197.05 L136.05,197.35 L136.3,197.64 L136.55,197.9 L136.8,198.14 L137.05,198.37 L137.3,198.58 L137.55,198.78 L137.8,198.97 L138.05,199.14 L138.3,199.3 L138.55,199.45 L138.8,199.59 L139.05,199.73 L139.3,199.85 L139.55,199.97 L139.8,200.08 L140.05,200.18 L140.3,200.28 L140.55,200.37 L140.8,200.46 L141.05,200.55 L141.05,200.87 L140.8,200.82 L140.55,200.78 L140.3,200.74 L140.05,200.69 L139.8,200.65 L139.55,200.61 L139.3,200.57 L139.05,200.53 L138.8,200.49 L138.55,200.45 L138.3,200.41 L138.05,200.37 L137.8,200.33 L137.55,200.29 L137.3,200.25 L137.05,200.21 L136.8,200.17 L136.55,200.13 L136.3,200.09 L136.05,200.05 L135.8,200.01 L135.55,199.98 L135.3,199.94 L135.05,199.9 L134.8,199.86 L134.55,199.82 L134.3,199.78 L134.05,199.74 L133.8,199.7 L133.55,199.65 L133.3,199.61 L133.05,199.57 L132.8,199.53 L132.55,199.48 L132.3,199.44 L132.05,199.4 L131.8,199.35 L131.55,199.3 L131.3,199.26 L131.05,199.21 L130.8,199.16 L130.55,199.11 L130.3,199.06 L130.05,199.01 L129.8,198.96 L129.55,198.9 L129.3,198.85 L129.05,198.79 L128.8,198.74 L128.55,198.68 L128.3,198.62 L128.05,198.56 L127.8,198.5 L127.55,198.44 L127.3,198.37 L127.05,198.31 L126.8,198.24 L126.55,198.18 L126.3,198.11 L126.05,198.04 L125.8,197.98 L125.55,197.91 L125.3,197.84 L125.05,197.77 L124.8,197.7 L124.55,197.63 L124.3,197.56 L124.05,197.49 L123.8,197.41 L123.55,197.34 L123.3,197.27 L123.05,197.2 L122.8,197.12 L122.55,197.05 L122.3,196.98 L122.05,196.9 L121.8,196.83 L121.55,196.76 L121.3,196.68 L121.05,196.61 L120.8,196.54 L120.55,196.46 L120.3,196.39 L120.05,196.32 L119.8,196.25 L119.55,196.17 L119.3,196.1 L119.05,196.03 L118.8,195.96 L118.55,195.89 L118.3,195.82 L118.05,195.75 L117.8,195.68 L117.55,195.61 L117.3,195.54 L117.05,195.47 L116.8,195.41 L116.55,195.34 L116.3,195.28 L116.05,195.21 L115.8,195.15 L115.55,195.08 L115.3,195.02 L115.05,194.96 L114.8,194.9 L114.55,194.84 L114.3,194.79 L114.05,194.73 L113.8,194.67 L113.55,194.62 L113.3,194.57 L113.05,194.51 L112.8,194.46 L112.55,194.42 L112.3,194.37 L112.05,194.32 L111.8,194.28 L111.55,194.23 L111.3,194.19 L111.05,194.15 L110.8,194.11 L110.55,194.08 L110.3,194.04 L110.05,194.01 L109.8,193.97 L109.55,193.94 L109.3,193.91 L109.05,193.88 L108.8,193.85 L108.55,193.82 L108.3,193.79 L108.05,193.76 L107.8,193.73 L107.55,193.7 L107.3,193.67 L107.05,193.64 L106.8,193.61 L106.55,193.58 L106.3,193.56 L106.05,193.53 L105.8,193.5 L105.55,193.47 L105.3,193.45 L105.05,193.42 L104.8,193.39 L104.55,193.37 L104.3,193.34 L104.05,193.32 L103.8,193.29 L103.55,193.26 L103.3,193.24 L103.05,193.21 L102.8,193.19 L102.55,193.17 L102.3,193.14 L102.05,193.12 L101.8,193.09 L101.55,193.07 L101.3,193.05 L101.05,193.03 L100.8,193 L100.55,192.98 L100.3,192.96 L100.05,192.94 L99.8,192.91 L99.55,192.89 L99.3,192.87 L99.05,192.85 L98.8,192.83 L98.55,192.81 L98.3,192.79 L98.05,192.77 L97.8,192.74 L97.55,192.72 L97.3,192.7 L97.05,192.68 L96.8,192.66 L96.55,192.64 L96.3,192.63 L96.05,192.61 L95.8,192.59 L95.55,192.57 L95.3,192.55 L95.05,192.53 L94.8,192.51Z" fill="#8080ff" fill-opacity="1" stroke="#7070f0" stroke-width="0.6"/>
<path d="M132.55,199.14 L132.8,199.14 L133.05,199.13 L133.3,199.11 L133.55,199.09 L133.8,199.05 L134.05,199.01 L134.3,198.96 L134.55,198.9 L134.8,198.82 L135.05,198.74 L135.3,198.64 L135.55,198.52 L135.8,198.39 L136.05,198.24 L136.3,198.07 L136.55,197.88 L136.8,197.67 L137.05,197.43 L137.3,197.17 L137.55,196.88 L137.8,196.56 L138.05,196.21 L138.3,195.83 L138.55,195.41 L138.8,194.96 L139.05,194.46 L139.3,193.92 L139.55,193.34 L139.8,192.71 L140.05,192.03 L140.3,191.3 L140.55,190.51 L140.8,189.67 L141.05,188.77 L141.3,187.81 L141.55,186.79 L141.8,185.71 L142.05,184.55 L142.3,183.33 L142.55,182.04 L142.8,180.69 L143.05,179.25 L143.3,177.75 L143.55,176.18 L143.8,174.53 L144.05,172.81 L144.3,171.01 L144.55,169.15 L144.8,167.21 L145.05,165.2 L145.3,163.13 L145.55,160.99 L145.8,158.8 L146.05,156.54 L146.3,154.23 L146.55,151.87 L146.8,149.46 L147.05,147.01 L147.3,144.53 L147.55,142.01 L147.8,139.47 L148.05,136.91 L148.3,134.34 L148.55,131.77 L148.8,129.2 L149.05,126.64 L149.3,124.1 L149.55,121.59 L149.8,119.12 L150.05,116.69 L150.3,114.32 L150.55,112 L150.8,109.76 L151.05,107.59 L151.3,105.52 L151.55,103.54 L151.8,101.66 L152.05,99.89 L152.3,98.25 L152.55,96.73 L152.8,95.34 L153.05,94.09 L153.3,92.98 L153.55,92.03 L153.8,91.22 L154.05,90.58 L154.3,90.09 L154.55,89.77 L154.8,89.61 L155.05,89.62 L155.3,89.8 L155.55,90.14 L155.8,90.64 L156.05,91.31 L156.3,92.14 L156.55,93.12 L156.8,94.26 L157.05,95.55 L157.3,96.99 L157.55,98.56 L157.8,100.27 L158.05,102.1 L158.3,104.05 L158.55,106.11 L158.8,108.28 L159.05,110.54 L159.3,112.89 L159.55,115.32 L159.8,117.82 L160.05,120.38 L160.3,123 L160.55,125.66 L160.8,128.35 L161.05,131.08 L161.3,133.82 L161.55,136.58 L161.8,139.34 L162.05,142.1 L162.3,144.84 L162.55,147.57 L162.8,150.27 L163.05,152.94 L163.3,155.58 L163.55,158.17 L163.8,160.72 L164.05,163.21 L164.3,165.65 L164.55,168.03 L164.8,170.35 L165.05,172.6 L165.3,174.78 L165.55,176.89 L165.8,178.93 L166.05,180.9 L166.3,182.8 L166.55,184.62 L166.8,186.37 L167.05,188.04 L167.3,189.64 L167.55,191.17 L167.8,192.63 L168.05,194.02 L168.3,195.33 L168.55,196.59 L168.8,197.77 L169.05,198.9 L169.3,199.96 L169.55,200.97 L169.8,201.91 L170.05,202.81 L170.3,203.65 L170.55,204.44 L170.8,205.18 L171.05,205.88 L171.3,206.54 L171.55,207.16 L171.8,207.73 L172.05,208.28 L172.3,208.79 L172.55,209.27 L172.8,209.71 L173.05,210.14 L173.3,210.53 L173.55,210.9 L173.8,211.26 L174.05,211.59 L174.3,211.9 L174.55,212.19 L174.8,212.47 L175.05,212.74 L175.3,212.99 L175.55,213.24 L175.8,213.47 L176.05,213.7 L176.3,213.92 L176.55,214.13 L176.8,214.34 L177.05,214.54 L177.3,214.74 L177.55,214.94 L177.8,215.13 L177.8,215.43 L177.55,215.29 L177.3,215.14 L177.05,215 L176.8,214.85 L176.55,214.71 L176.3,214.58 L176.05,214.44 L175.8,214.31 L175.55,214.18 L175.3,214.05 L175.05,213.92 L174.8,213.8 L174.55,213.68 L174.3,213.56 L174.05,213.44 L173.8,213.32 L173.55,213.21 L173.3,213.09 L173.05,212.97 L172.8,212.86 L172.55,212.74 L172.3,212.63 L172.05,212.51 L171.8,212.4 L171.55,212.29 L171.3,212.18 L171.05,212.07 L170.8,211.96 L170.55,211.85 L170.3,211.74 L170.05,211.63 L169.8,211.52 L169.55,211.41 L169.3,211.3 L169.05,211.2 L168.8,211.09 L168.55,210.98 L168.3,210.88 L168.05,210.77 L167.8,210.67 L167.55,210.57 L167.3,210.46 L167.05,210.36 L166.8,210.25 L166.55,210.15 L166.3,210.05 L166.05,209.95 L165.8,209.84 L165.55,209.74 L165.3,209.64 L165.05,209.54 L164.8,209.44 L164.55,209.34 L164.3,209.23 L164.05,209.13 L163.8,209.03 L163.55,208.93 L163.3,208.83 L163.05,208.73 L162.8,208.63 L162.55,208.53 L162.3,208.43 L162.05,208.33 L161.8,208.23 L161.55,208.13 L161.3,208.03 L161.05,207.92 L160.8,207.82 L160.55,207.72 L160.3,207.62 L160.05,207.52 L159.8,207.42 L159.55,207.32 L159.3,207.21 L159.05,207.11 L158.8,207 L158.55,206.9 L158.3,206.79 L158.05,206.69 L157.8,206.58 L157.55,206.47 L157.3,206.37 L157.05,206.26 L156.8,206.15 L156.55,206.04 L156.3,205.93 L156.05,205.82 L155.8,205.72 L155.55,205.61 L155.3,205.5 L155.05,205.39 L154.8,205.28 L154.55,205.17 L154.3,205.06 L154.05,204.96 L153.8,204.85 L153.55,204.74 L153.3,204.64 L153.05,204.53 L152.8,204.43 L152.55,204.32 L152.3,204.22 L152.05,204.11 L151.8,204.01 L151.55,203.91 L151.3,203.81 L151.05,203.71 L150.8,203.61 L150.55,203.51 L150.3,203.41 L150.05,203.32 L149.8,203.22 L149.55,203.13 L149.3,203.04 L149.05,202.95 L148.8,202.86 L148.55,202.77 L148.3,202.68 L148.05,202.6 L147.8,202.51 L147.55,202.43 L147.3,202.35 L147.05,202.27 L146.8,202.2 L146.55,202.12 L146.3,202.05 L146.05,201.98 L145.8,201.91 L145.55,201.84 L145.3,201.78 L145.05,201.71 L144.8,201.65 L144.55,201.59 L144.3,201.53 L144.05,201.48 L143.8,201.42 L143.55,201.36 L143.3,201.31 L143.05,201.26 L142.8,201.21 L142.55,201.16 L142.3,201.11 L142.05,201.06 L141.8,201.01 L141.55,200.96 L141.3,200.92 L141.05,200.87 L140.8,200.82 L140.55,200.78 L140.3,200.74 L140.05,200.69 L139.8,200.65 L139.55,200.61 L139.3,200.57 L139.05,200.53 L138.8,200.49 L138.55,200.45 L138.3,200.41 L138.05,200.37 L137.8,200.33 L137.55,200.29 L137.3,200.25 L137.05,200.21 L136.8,200.17 L136.55,200.13 L136.3,200.09 L136.05,200.05 L135.8,200.01 L135.55,199.98 L135.3,199.94 L135.05,199.9 L134.8,199.86 L134.55,199.82 L134.3,199.78 L134.05,199.74 L133.8,199.7 L133.55,199.65 L133.3,199.61 L133.05,199.57 L132.8,199.53 L132.55,199.48Z" fill="#8080ff" fill-opacity="1" stroke="#7070f0" stroke-width="0.6"/>
<path d="M66.55,190.5 L66.8,190.51 L67.05,190.52 L67.3,190.52 L67.55,190.53 L67.8,190.54 L68.05,190.55 L68.3,190.56 L68.55,190.56 L68.8,190.57 L69.05,190.58 L69.3,190.58 L69.55,190.59 L69.8,190.6 L70.05,190.61 L70.3,190.61 L70.55,190.62 L70.8,190.63 L71.05,190.63 L71.3,190.64 L71.55,190.64 L71.8,190.65 L72.05,190.66 L72.3,190.66 L72.55,190.67 L72.8,190.67 L73.05,190.68 L73.3,190.69 L73.55,190.69 L73.8,190.7 L74.05,190.7 L74.3,190.71 L74.55,190.72 L74.8,190.72 L75.05,190.73 L75.3,190.73 L75.55,190.74 L75.8,190.74 L76.05,190.75 L76.3,190.76 L76.55,190.76 L76.8,190.77 L77.05,190.77 L77.3,190.78 L77.55,190.78 L77.8,190.79 L78.05,190.79 L78.3,190.8 L78.55,190.81 L78.8,190.81 L79.05,190.82 L79.3,190.82 L79.55,190.83 L79.8,190.83 L80.05,190.84 L80.3,190.84 L80.55,190.85 L80.8,190.85 L81.05,190.86 L81.3,190.86 L81.55,190.87 L81.8,190.87 L82.05,190.87 L82.3,190.87 L82.55,190.87 L82.8,190.87 L83.05,190.88 L83.3,190.88 L83.55,190.87 L83.8,190.87 L84.05,190.87 L84.3,190.87 L84.55,190.87 L84.8,190.86 L85.05,190.86 L85.3,190.85 L85.55,190.85 L85.8,190.84 L86.05,190.83 L86.3,190.83 L86.55,190.82 L86.8,190.81 L87.05,190.8 L87.3,190.78 L87.55,190.77 L87.8,190.76 L88.05,190.74 L88.3,190.72 L88.55,190.7 L88.8,190.68 L89.05,190.66 L89.3,190.64 L89.55,190.61 L89.8,190.59 L90.05,190.56 L90.3,190.53 L90.55,190.49 L90.8,190.45 L91.05,190.41 L91.3,190.37 L91.55,190.32 L91.8,190.27 L92.05,190.21 L92.3,190.15 L92.55,190.09 L92.8,190.02 L93.05,189.94 L93.3,189.86 L93.55,189.77 L93.8,189.68 L94.05,189.58 L94.3,189.47 L94.55,189.35 L94.8,189.22 L95.05,189.08 L95.3,188.93 L95.55,188.77 L95.8,188.6 L96.05,188.42 L96.3,188.23 L96.55,188.02 L96.8,187.8 L97.05,187.56 L97.3,187.31 L97.55,187.05 L97.8,186.76 L98.05,186.47 L98.3,186.15 L98.55,185.82 L98.8,185.47 L99.05,185.1 L99.3,184.72 L99.55,184.32 L99.8,183.9 L100.05,183.46 L100.3,183.01 L100.55,182.54 L100.8,182.06 L101.05,181.56 L101.3,181.04 L101.55,180.52 L101.8,179.98 L102.05,179.43 L102.3,178.88 L102.55,178.32 L102.8,177.76 L103.05,177.19 L103.3,176.64 L103.55,176.09 L103.8,175.56 L104.05,175.04 L104.3,174.55 L104.55,174.08 L104.8,173.64 L105.05,173.25 L105.3,172.9 L105.55,172.6 L105.8,172.35 L106.05,172.16 L106.3,172.03 L106.55,171.96 L106.8,171.96 L107.05,172.03 L107.3,172.16 L107.55,172.36 L107.8,172.62 L108.05,172.93 L108.3,173.3 L108.55,173.71 L108.8,174.17 L109.05,174.67 L109.3,175.2 L109.55,175.75 L109.8,176.33 L110.05,176.93 L110.3,177.53 L110.55,178.15 L110.8,178.77 L111.05,179.4 L111.3,180.02 L111.55,180.64 L111.8,181.25 L112.05,181.86 L112.3,182.45 L112.55,183.03 L112.8,183.6 L113.05,184.16 L113.3,184.7 L113.55,185.22 L113.8,185.73 L114.05,186.23 L114.3,186.7 L114.55,187.16 L114.8,187.61 L115.05,188.03 L115.3,188.44 L115.55,188.84 L115.8,189.22 L116.05,189.58 L116.3,189.93 L116.55,190.26 L116.8,190.58 L117.05,190.89 L117.3,191.18 L117.55,191.46 L117.8,191.73 L118.05,191.98 L118.3,192.23 L118.55,192.47 L118.8,192.69 L119.05,192.91 L119.3,193.12 L119.55,193.32 L119.8,193.51 L120.05,193.69 L120.3,193.87 L120.55,194.04 L120.8,194.21 L121.05,194.37 L121.3,194.52 L121.55,194.67 L121.8,194.82 L122.05,194.96 L122.3,195.1 L122.55,195.23 L122.8,195.36 L123.05,195.49 L123.3,195.61 L123.55,195.73 L123.8,195.85 L124.05,195.97 L124.3,196.08 L124.55,196.19 L124.8,196.3 L125.05,196.41 L125.3,196.51 L125.55,196.62 L125.8,196.72 L126.05,196.81 L126.3,196.91 L126.55,197.01 L126.8,197.1 L127.05,197.19 L127.3,197.28 L127.55,197.37 L127.8,197.45 L128.05,197.54 L128.3,197.62 L128.55,197.7 L128.8,197.78 L129.05,197.86 L129.3,197.93 L129.55,198.01 L129.8,198.08 L130.05,198.15 L130.3,198.22 L130.55,198.28 L130.8,198.35 L131.05,198.41 L131.3,198.48 L131.55,198.54 L131.8,198.6 L132.05,198.66 L132.3,198.71 L132.55,198.77 L132.8,198.83 L133.05,198.88 L133.3,198.94 L133.55,198.99 L133.8,199.04 L134.05,199.1 L134.3,199.15 L134.55,199.2 L134.8,199.25 L135.05,199.3 L135.3,199.35 L135.55,199.4 L135.8,199.45 L136.05,199.49 L136.3,199.54 L136.55,199.59 L136.8,199.64 L137.05,199.69 L137.3,199.73 L137.55,199.78 L137.8,199.83 L138.05,199.87 L138.3,199.92 L138.55,199.97 L138.8,200.02 L139.05,200.06 L139.3,200.11 L139.55,200.16 L139.8,200.21 L140.05,200.26 L140.3,200.31 L140.55,200.36 L140.8,200.41 L141.05,200.46 L141.3,200.51 L141.55,200.56 L141.8,200.61 L142.05,200.67 L142.3,200.72 L142.55,200.78 L142.8,200.83 L143.05,200.89 L143.3,200.95 L143.55,201.01 L143.8,201.07 L144.05,201.13 L144.3,201.19 L144.55,201.25 L144.8,201.31 L145.05,201.38 L145.3,201.45 L145.55,201.52 L145.8,201.59 L146.05,201.66 L146.3,201.74 L146.55,201.81 L146.8,201.89 L147.05,201.97 L147.05,202.27 L146.8,202.2 L146.55,202.12 L146.3,202.05 L146.05,201.98 L145.8,201.91 L145.55,201.84 L145.3,201.78 L145.05,201.71 L144.8,201.65 L144.55,201.59 L144.3,201.53 L144.05,201.48 L143.8,201.42 L143.55,201.36 L143.3,201.31 L143.05,201.26 L142.8,201.21 L142.55,201.16 L142.3,201.11 L142.05,201.06 L141.8,201.01 L141.55,200.96 L141.3,200.92 L141.05,200.87 L140.8,200.82 L140.55,200.78 L140.3,200.74 L140.05,200.69 L139.8,200.65 L139.55,200.61 L139.3,200.57 L139.05,200.53 L138.8,200.49 L138.55,200.45 L138.3,200.41 L138.05,200.37 L137.8,200.33 L137.55,200.29 L137.3,200.25 L137.05,200.21 L136.8,200.17 L136.55,200.13 L136.3,200.09 L136.05,200.05 L135.8,200.01 L135.55,199.98 L135.3,199.94 L135.05,199.9 L134.8,199.86 L134.55,199.82 L134.3,199.78 L134.05,199.74 L133.8,199.7 L133.55,199.65 L133.3,199.61 L133.05,199.57 L132.8,199.53 L132.55,199.48 L132.3,199.44 L132.05,199.4 L131.8,199.35 L131.55,199.3 L131.3,199.26 L131.05,199.21 L130.8,199.16 L130.55,199.11 L130.3,199.06 L130.05,199.01 L129.8,198.96 L129.55,198.9 L129.3,198.85 L129.05,198.79 L128.8,198.74 L128.55,198.68 L128.3,198.62 L128.05,198.56 L127.8,198.5 L127.55,198.44 L127.3,198.37 L127.05,198.31 L126.8,198.24 L126.55,198.18 L126.3,198.11 L126.05,198.04 L125.8,197.98 L125.55,197.91 L125.3,197.84 L125.05,197.77 L124.8,197.7 L124.55,197.63 L124.3,197.56 L124.05,197.49 L123.8,197.41 L123.55,197.34 L123.3,197.27 L123.05,197.2 L122.8,197.12 L122.55,197.05 L122.3,196.98 L122.05,196.9 L121.8,196.83 L121.55,196.76 L121.3,196.68 L121.05,196.61 L120.8,196.54 L120.55,196.46 L120.3,196.39 L120.05,196.32 L119.8,196.25 L119.55,196.17 L119.3,196.1 L119.05,196.03 L118.8,195.96 L118.55,195.89 L118.3,195.82 L118.05,195.75 L117.8,195.68 L117.55,195.61 L117.3,195.54 L117.05,195.47 L116.8,195.41 L116.55,195.34 L116.3,195.28 L116.05,195.21 L115.8,195.15 L115.55,195.08 L115.3,195.02 L115.05,194.96 L114.8,194.9 L114.55,194.84 L114.3,194.79 L114.05,194.73 L113.8,194.67 L113.55,194.62 L113.3,194.57 L113.05,194.51 L112.8,194.46 L112.55,194.42 L112.3,194.37 L112.05,194.32 L111.8,194.28 L111.55,194.23 L111.3,194.19 L111.05,194.15 L110.8,194.11 L110.55,194.08 L110.3,194.04 L110.05,194.01 L109.8,193.97 L109.55,193.94 L109.3,193.91 L109.05,193.88 L108.8,193.85 L108.55,193.82 L108.3,193.79 L108.05,193.76 L107.8,193.73 L107.55,193.7 L107.3,193.67 L107.05,193.64 L106.8,193.61 L106.55,193.58 L106.3,193.56 L106.05,193.53 L105.8,193.5 L105.55,193.47 L105.3,193.45 L105.05,193.42 L104.8,193.39 L104.55,193.37 L104.3,193.34 L104.05,193.32 L103.8,193.29 L103.55,193.26 L103.3,193.24 L103.05,193.21 L102.8,193.19 L102.55,193.17 L102.3,193.14 L102.05,193.12 L101.8,193.09 L101.55,193.07 L101.3,193.05 L101.05,193.03 L100.8,193 L100.55,192.98 L100.3,192.96 L100.05,192.94 L99.8,192.91 L99.55,192.89 L99.3,192.87 L99.05,192.85 L98.8,192.83 L98.55,192.81 L98.3,192.79 L98.05,192.77 L97.8,192.74 L97.55,192.72 L97.3,192.7 L97.05,192.68 L96.8,192.66 L96.55,192.64 L96.3,192.63 L96.05,192.61 L95.8,192.59 L95.55,192.57 L95.3,192.55 L95.05,192.53 L94.8,192.51 L94.55,192.49 L94.3,192.47 L94.05,192.45 L93.8,192.44 L93.55,192.42 L93.3,192.4 L93.05,192.38 L92.8,192.36 L92.55,192.35 L92.3,192.33 L92.05,192.31 L91.8,192.29 L91.55,192.28 L91.3,192.26 L91.05,192.24 L90.8,192.22 L90.55,192.21 L90.3,192.19 L90.05,192.17 L89.8,192.16 L89.55,192.14 L89.3,192.12 L89.05,192.11 L88.8,192.09 L88.55,192.07 L88.3,192.05 L88.05,192.04 L87.8,192.02 L87.55,192 L87.3,191.99 L87.05,191.97 L86.8,191.96 L86.55,191.94 L86.3,191.92 L86.05,191.91 L85.8,191.89 L85.55,191.87 L85.3,191.86 L85.05,191.84 L84.8,191.82 L84.55,191.81 L84.3,191.79 L84.05,191.77 L83.8,191.76 L83.55,191.74 L83.3,191.72 L83.05,191.71 L82.8,191.69 L82.55,191.67 L82.3,191.66 L82.05,191.64 L81.8,191.62 L81.55,191.61 L81.3,191.59 L81.05,191.57 L80.8,191.56 L80.55,191.54 L80.3,191.52 L80.05,191.5 L79.8,191.49 L79.55,191.47 L79.3,191.45 L79.05,191.44 L78.8,191.42 L78.55,191.4 L78.3,191.39 L78.05,191.37 L77.8,191.36 L77.55,191.34 L77.3,191.33 L77.05,191.31 L76.8,191.3 L76.55,191.29 L76.3,191.27 L76.05,191.26 L75.8,191.24 L75.55,191.23 L75.3,191.22 L75.05,191.2 L74.8,191.19 L74.55,191.18 L74.3,191.17 L74.05,191.15 L73.8,191.14 L73.55,191.13 L73.3,191.12 L73.05,191.11 L72.8,191.09 L72.55,191.08 L72.3,191.07 L72.05,191.06 L71.8,191.05 L71.55,191.03 L71.3,191.02 L71.05,191.01 L70.8,191 L70.55,190.99 L70.3,190.98 L70.05,190.97 L69.8,190.95 L69.55,190.94 L69.3,190.93 L69.05,190.92 L68.8,190.91 L68.55,190.9 L68.3,190.88 L68.05,190.87 L67.8,190.86 L67.55,190.85 L67.3,190.84 L67.05,190.83 L66.8,190.81 L66.55,190.8Z" fill="#00eb73" fill-opacity="1"/>
<path d="M103.55,192.96 L103.8,192.99 L104.05,193.01 L104.3,193.03 L104.55,193.05 L104.8,193.07 L105.05,193.1 L105.3,193.12 L105.55,193.14 L105.8,193.17 L106.05,193.19 L106.3,193.21 L106.55,193.24 L106.8,193.26 L107.05,193.28 L107.3,193.31 L107.55,193.33 L107.8,193.36 L108.05,193.38 L108.3,193.41 L108.55,193.43 L108.8,193.46 L109.05,193.49 L109.3,193.51 L109.55,193.54 L109.8,193.56 L110.05,193.59 L110.3,193.62 L110.55,193.65 L110.8,193.68 L111.05,193.71 L111.3,193.75 L111.55,193.78 L111.8,193.82 L112.05,193.86 L112.3,193.9 L112.55,193.94 L112.8,193.98 L113.05,194.02 L113.3,194.07 L113.55,194.11 L113.8,194.16 L114.05,194.21 L114.3,194.25 L114.55,194.3 L114.8,194.35 L115.05,194.41 L115.3,194.46 L115.55,194.51 L115.8,194.56 L116.05,194.62 L116.3,194.67 L116.55,194.73 L116.8,194.78 L117.05,194.84 L117.3,194.9 L117.55,194.95 L117.8,195.01 L118.05,195.07 L118.3,195.13 L118.55,195.19 L118.8,195.24 L119.05,195.3 L119.3,195.36 L119.55,195.42 L119.8,195.48 L120.05,195.54 L120.3,195.59 L120.55,195.65 L120.8,195.71 L121.05,195.77 L121.3,195.82 L121.55,195.88 L121.8,195.94 L122.05,195.99 L122.3,196.04 L122.55,196.1 L122.8,196.15 L123.05,196.2 L123.3,196.25 L123.55,196.3 L123.8,196.35 L124.05,196.39 L124.3,196.44 L124.55,196.48 L124.8,196.52 L125.05,196.56 L125.3,196.6 L125.55,196.63 L125.8,196.67 L126.05,196.69 L126.3,196.72 L126.55,196.74 L126.8,196.76 L127.05,196.78 L127.3,196.79 L127.55,196.8 L127.8,196.8 L128.05,196.79 L128.3,196.78 L128.55,196.77 L128.8,196.75 L129.05,196.72 L129.3,196.68 L129.55,196.64 L129.8,196.59 L130.05,196.53 L130.3,196.46 L130.55,196.37 L130.8,196.28 L131.05,196.18 L131.3,196.07 L131.55,195.94 L131.8,195.8 L132.05,195.64 L132.3,195.48 L132.55,195.29 L132.8,195.09 L133.05,194.88 L133.3,194.64 L133.55,194.39 L133.8,194.13 L134.05,193.84 L134.3,193.53 L134.55,193.2 L134.8,192.85 L135.05,192.49 L135.3,192.1 L135.55,191.68 L135.8,191.25 L136.05,190.8 L136.3,190.32 L136.55,189.82 L136.8,189.3 L137.05,188.76 L137.3,188.2 L137.55,187.62 L137.8,187.02 L138.05,186.4 L138.3,185.76 L138.55,185.11 L138.8,184.44 L139.05,183.76 L139.3,183.07 L139.55,182.36 L139.8,181.65 L140.05,180.94 L140.3,180.22 L140.55,179.51 L140.8,178.79 L141.05,178.08 L141.3,177.38 L141.55,176.7 L141.8,176.02 L142.05,175.37 L142.3,174.75 L142.55,174.15 L142.8,173.59 L143.05,173.06 L143.3,172.57 L143.55,172.13 L143.8,171.74 L144.05,171.41 L144.3,171.13 L144.55,170.91 L144.8,170.75 L145.05,170.66 L145.3,170.64 L145.55,170.68 L145.8,170.8 L146.05,170.98 L146.3,171.23 L146.55,171.54 L146.8,171.92 L147.05,172.35 L147.3,172.85 L147.55,173.39 L147.8,173.99 L148.05,174.63 L148.3,175.3 L148.55,176.02 L148.8,176.77 L149.05,177.54 L149.3,178.34 L149.55,179.15 L149.8,179.99 L150.05,180.83 L150.3,181.68 L150.55,182.54 L150.8,183.4 L151.05,184.26 L151.3,185.11 L151.55,185.96 L151.8,186.8 L152.05,187.64 L152.3,188.46 L152.55,189.26 L152.8,190.05 L153.05,190.83 L153.3,191.58 L153.55,192.32 L153.8,193.04 L154.05,193.74 L154.3,194.42 L154.55,195.08 L154.8,195.72 L155.05,196.33 L155.3,196.93 L155.55,197.5 L155.8,198.05 L156.05,198.58 L156.3,199.09 L156.55,199.58 L156.8,200.04 L157.05,200.49 L157.3,200.92 L157.55,201.33 L157.8,201.72 L158.05,202.1 L158.3,202.46 L158.55,202.8 L158.8,203.13 L159.05,203.44 L159.3,203.74 L159.55,204.02 L159.8,204.29 L160.05,204.55 L160.3,204.8 L160.55,205.04 L160.8,205.27 L161.05,205.49 L161.3,205.7 L161.55,205.9 L161.8,206.1 L162.05,206.29 L162.3,206.47 L162.55,206.65 L162.8,206.82 L163.05,206.99 L163.3,207.15 L163.55,207.31 L163.8,207.47 L164.05,207.62 L164.3,207.77 L164.55,207.92 L164.8,208.06 L165.05,208.2 L165.3,208.34 L165.55,208.48 L165.8,208.62 L166.05,208.75 L166.3,208.88 L166.55,209.02 L166.8,209.15 L167.05,209.28 L167.3,209.4 L167.55,209.53 L167.8,209.66 L168.05,209.79 L168.3,209.91 L168.55,210.04 L168.8,210.16 L169.05,210.29 L169.3,210.41 L169.55,210.54 L169.8,210.66 L170.05,210.79 L170.3,210.91 L170.55,211.04 L170.8,211.16 L171.05,211.29 L171.3,211.41 L171.55,211.54 L171.8,211.67 L172.05,211.79 L172.3,211.92 L172.55,212.04 L172.8,212.17 L173.05,212.3 L173.3,212.43 L173.55,212.55 L173.8,212.68 L174.05,212.81 L174.3,212.94 L174.55,213.07 L174.8,213.2 L175.05,213.34 L175.3,213.47 L175.55,213.61 L175.8,213.74 L176.05,213.89 L176.3,214.03 L176.55,214.18 L176.8,214.33 L177.05,214.48 L177.3,214.63 L177.55,214.78 L177.8,214.94 L178.05,215.09 L178.3,215.25 L178.55,215.41 L178.8,215.56 L179.05,215.72 L179.3,215.88 L179.55,216.04 L179.8,216.2 L180.05,216.36 L180.3,216.52 L180.55,216.67 L180.8,216.83 L181.05,216.98 L181.3,217.14 L181.55,217.29 L181.8,217.44 L182.05,217.59 L182.3,217.74 L182.55,217.89 L182.8,218.03 L183.05,218.17 L183.3,218.31 L183.55,218.44 L183.8,218.58 L184.05,218.7 L184.3,218.83 L184.55,218.95 L184.8,219.07 L185.05,219.19 L185.3,219.3 L185.55,219.41 L185.8,219.52 L186.05,219.63 L186.3,219.74 L186.55,219.85 L186.8,219.96 L187.05,220.06 L187.3,220.17 L187.3,220.47 L187.05,220.37 L186.8,220.27 L186.55,220.16 L186.3,220.06 L186.05,219.95 L185.8,219.85 L185.55,219.74 L185.3,219.63 L185.05,219.52 L184.8,219.41 L184.55,219.3 L184.3,219.18 L184.05,219.06 L183.8,218.93 L183.55,218.81 L183.3,218.68 L183.05,218.54 L182.8,218.41 L182.55,218.27 L182.3,218.13 L182.05,217.98 L181.8,217.84 L181.55,217.69 L181.3,217.55 L181.05,217.4 L180.8,217.25 L180.55,217.1 L180.3,216.95 L180.05,216.8 L179.8,216.64 L179.55,216.49 L179.3,216.34 L179.05,216.19 L178.8,216.03 L178.55,215.88 L178.3,215.73 L178.05,215.58 L177.8,215.43 L177.55,215.29 L177.3,215.14 L177.05,215 L176.8,214.85 L176.55,214.71 L176.3,214.58 L176.05,214.44 L175.8,214.31 L175.55,214.18 L175.3,214.05 L175.05,213.92 L174.8,213.8 L174.55,213.68 L174.3,213.56 L174.05,213.44 L173.8,213.32 L173.55,213.21 L173.3,213.09 L173.05,212.97 L172.8,212.86 L172.55,212.74 L172.3,212.63 L172.05,212.51 L171.8,212.4 L171.55,212.29 L171.3,212.18 L171.05,212.07 L170.8,211.96 L170.55,211.85 L170.3,211.74 L170.05,211.63 L169.8,211.52 L169.55,211.41 L169.3,211.3 L169.05,211.2 L168.8,211.09 L168.55,210.98 L168.3,210.88 L168.05,210.77 L167.8,210.67 L167.55,210.57 L167.3,210.46 L167.05,210.36 L166.8,210.25 L166.55,210.15 L166.3,210.05 L166.05,209.95 L165.8,209.84 L165.55,209.74 L165.3,209.64 L165.05,209.54 L164.8,209.44 L164.55,209.34 L164.3,209.23 L164.05,209.13 L163.8,209.03 L163.55,208.93 L163.3,208.83 L163.05,208.73 L162.8,208.63 L162.55,208.53 L162.3,208.43 L162.05,208.33 L161.8,208.23 L161.55,208.13 L161.3,208.03 L161.05,207.92 L160.8,207.82 L160.55,207.72 L160.3,207.62 L160.05,207.52 L159.8,207.42 L159.55,207.32 L159.3,207.21 L159.05,207.11 L158.8,207 L158.55,206.9 L158.3,206.79 L158.05,206.69 L157.8,206.58 L157.55,206.47 L157.3,206.37 L157.05,206.26 L156.8,206.15 L156.55,206.04 L156.3,205.93 L156.05,205.82 L155.8,205.72 L155.55,205.61 L155.3,205.5 L155.05,205.39 L154.8,205.28 L154.55,205.17 L154.3,205.06 L154.05,204.96 L153.8,204.85 L153.55,204.74 L153.3,204.64 L153.05,204.53 L152.8,204.43 L152.55,204.32 L152.3,204.22 L152.05,204.11 L151.8,204.01 L151.55,203.91 L151.3,203.81 L151.05,203.71 L150.8,203.61 L150.55,203.51 L150.3,203.41 L150.05,203.32 L149.8,203.22 L149.55,203.13 L149.3,203.04 L149.05,202.95 L148.8,202.86 L148.55,202.77 L148.3,202.68 L148.05,202.6 L147.8,202.51 L147.55,202.43 L147.3,202.35 L147.05,202.27 L146.8,202.2 L146.55,202.12 L146.3,202.05 L146.05,201.98 L145.8,201.91 L145.55,201.84 L145.3,201.78 L145.05,201.71 L144.8,201.65 L144.55,201.59 L144.3,201.53 L144.05,201.48 L143.8,201.42 L143.55,201.36 L143.3,201.31 L143.05,201.26 L142.8,201.21 L142.55,201.16 L142.3,201.11 L142.05,201.06 L141.8,201.01 L141.55,200.96 L141.3,200.92 L141.05,200.87 L140.8,200.82 L140.55,200.78 L140.3,200.74 L140.05,200.69 L139.8,200.65 L139.55,200.61 L139.3,200.57 L139.05,200.53 L138.8,200.49 L138.55,200.45 L138.3,200.41 L138.05,200.37 L137.8,200.33 L137.55,200.29 L137.3,200.25 L137.05,200.21 L136.8,200.17 L136.55,200.13 L136.3,200.09 L136.05,200.05 L135.8,200.01 L135.55,199.98 L135.3,199.94 L135.05,199.9 L134.8,199.86 L134.55,199.82 L134.3,199.78 L134.05,199.74 L133.8,199.7 L133.55,199.65 L133.3,199.61 L133.05,199.57 L132.8,199.53 L132.55,199.48 L132.3,199.44 L132.05,199.4 L131.8,199.35 L131.55,199.3 L131.3,199.26 L131.05,199.21 L130.8,199.16 L130.55,199.11 L130.3,199.06 L130.05,199.01 L129.8,198.96 L129.55,198.9 L129.3,198.85 L129.05,198.79 L128.8,198.74 L128.55,198.68 L128.3,198.62 L128.05,198.56 L127.8,198.5 L127.55,198.44 L127.3,198.37 L127.05,198.31 L126.8,198.24 L126.55,198.18 L126.3,198.11 L126.05,198.04 L125.8,197.98 L125.55,197.91 L125.3,197.84 L125.05,197.77 L124.8,197.7 L124.55,197.63 L124.3,197.56 L124.05,197.49 L123.8,197.41 L123.55,197.34 L123.3,197.27 L123.05,197.2 L122.8,197.12 L122.55,197.05 L122.3,196.98 L122.05,196.9 L121.8,196.83 L121.55,196.76 L121.3,196.68 L121.05,196.61 L120.8,196.54 L120.55,196.46 L120.3,196.39 L120.05,196.32 L119.8,196.25 L119.55,196.17 L119.3,196.1 L119.05,196.03 L118.8,195.96 L118.55,195.89 L118.3,195.82 L118.05,195.75 L117.8,195.68 L117.55,195.61 L117.3,195.54 L117.05,195.47 L116.8,195.41 L116.55,195.34 L116.3,195.28 L116.05,195.21 L115.8,195.15 L115.55,195.08 L115.3,195.02 L115.05,194.96 L114.8,194.9 L114.55,194.84 L114.3,194.79 L114.05,194.73 L113.8,194.67 L113.55,194.62 L113.3,194.57 L113.05,194.51 L112.8,194.46 L112.55,194.42 L112.3,194.37 L112.05,194.32 L111.8,194.28 L111.55,194.23 L111.3,194.19 L111.05,194.15 L110.8,194.11 L110.55,194.08 L110.3,194.04 L110.05,194.01 L109.8,193.97 L109.55,193.94 L109.3,193.91 L109.05,193.88 L108.8,193.85 L108.55,193.82 L108.3,193.79 L108.05,193.76 L107.8,193.73 L107.55,193.7 L107.3,193.67 L107.05,193.64 L106.8,193.61 L106.55,193.58 L106.3,193.56 L106.05,193.53 L105.8,193.5 L105.55,193.47 L105.3,193.45 L105.05,193.42 L104.8,193.39 L104.55,193.37 L104.3,193.34 L104.05,193.32 L103.8,193.29 L103.55,193.26Z" fill="#00eb73" fill-opacity="1"/>
<path d="M94.8,192.21 L95.05,192.19 L95.3,192.17 L95.55,192.14 L95.8,192.1 L96.05,192.06 L96.3,192.02 L96.55,191.97 L96.8,191.91 L97.05,191.84 L97.3,191.76 L97.55,191.68 L97.8,191.58 L98.05,191.48 L98.3,191.36 L98.55,191.23 L98.8,191.08 L99.05,190.92 L99.3,190.74 L99.55,190.55 L99.8,190.34 L100.05,190.11 L100.3,189.86 L100.55,189.59 L100.8,189.29 L101.05,188.97 L101.3,188.62 L101.55,188.25 L101.8,187.85 L102.05,187.42 L102.3,186.95 L102.55,186.46 L102.8,185.93 L103.05,185.37 L103.3,184.76 L103.55,184.12 L103.8,183.45 L104.05,182.73 L104.3,181.97 L104.55,181.17 L104.8,180.32 L105.05,179.43 L105.3,178.5 L105.55,177.52 L105.8,176.5 L106.05,175.43 L106.3,174.32 L106.55,173.16 L106.8,171.95 L107.05,170.71 L107.3,169.41 L107.55,168.08 L107.8,166.7 L108.05,165.29 L108.3,163.83 L108.55,162.34 L108.8,160.82 L109.05,159.26 L109.3,157.67 L109.55,156.06 L109.8,154.43 L110.05,152.77 L110.3,151.1 L110.55,149.42 L110.8,147.74 L111.05,146.05 L111.3,144.36 L111.55,142.68 L111.8,141.01 L112.05,139.36 L112.3,137.72 L112.55,136.11 L112.8,134.54 L113.05,132.99 L113.3,131.49 L113.55,130.04 L113.8,128.63 L114.05,127.28 L114.3,125.99 L114.55,124.77 L114.8,123.62 L115.05,122.54 L115.3,121.53 L115.55,120.61 L115.8,119.78 L116.05,119.03 L116.3,118.38 L116.55,117.82 L116.8,117.36 L117.05,116.99 L117.3,116.73 L117.55,116.57 L117.8,116.51 L118.05,116.55 L118.3,116.7 L118.55,116.94 L118.8,117.3 L119.05,117.75 L119.3,118.3 L119.55,118.95 L119.8,119.69 L120.05,120.53 L120.3,121.45 L120.55,122.47 L120.8,123.56 L121.05,124.74 L121.3,125.99 L121.55,127.31 L121.8,128.7 L122.05,130.14 L122.3,131.65 L122.55,133.21 L122.8,134.81 L123.05,136.46 L123.3,138.14 L123.55,139.85 L123.8,141.59 L124.05,143.36 L124.3,145.13 L124.55,146.92 L124.8,148.72 L125.05,150.52 L125.3,152.32 L125.55,154.1 L125.8,155.88 L126.05,157.65 L126.3,159.39 L126.55,161.11 L126.8,162.81 L127.05,164.48 L127.3,166.11 L127.55,167.71 L127.8,169.28 L128.05,170.81 L128.3,172.29 L128.55,173.74 L128.8,175.14 L129.05,176.49 L129.3,177.81 L129.55,179.07 L129.8,180.29 L130.05,181.46 L130.3,182.59 L130.55,183.66 L130.8,184.7 L131.05,185.68 L131.3,186.62 L131.55,187.52 L131.8,188.37 L132.05,189.18 L132.3,189.95 L132.55,190.68 L132.8,191.36 L133.05,192.02 L133.3,192.63 L133.55,193.21 L133.8,193.75 L134.05,194.26 L134.3,194.74 L134.55,195.19 L134.8,195.62 L135.05,196.01 L135.3,196.38 L135.55,196.73 L135.8,197.05 L136.05,197.35 L136.3,197.64 L136.55,197.9 L136.8,198.14 L137.05,198.37 L137.3,198.58 L137.55,198.78 L137.8,198.97 L138.05,199.14 L138.3,199.3 L138.55,199.45 L138.8,199.59 L139.05,199.73 L139.3,199.85 L139.55,199.97 L139.8,200.08 L140.05,200.18 L140.3,200.28 L140.55,200.37 L140.8,200.46 L141.05,200.55 L141.05,200.87 L140.8,200.82 L140.55,200.78 L140.3,200.74 L140.05,200.69 L139.8,200.65 L139.55,200.61 L139.3,200.57 L139.05,200.53 L138.8,200.49 L138.55,200.45 L138.3,200.41 L138.05,200.37 L137.8,200.33 L137.55,200.29 L137.3,200.25 L137.05,200.21 L136.8,200.17 L136.55,200.13 L136.3,200.09 L136.05,200.05 L135.8,200.01 L135.55,199.98 L135.3,199.94 L135.05,199.9 L134.8,199.86 L134.55,199.82 L134.3,199.78 L134.05,199.74 L133.8,199.7 L133.55,199.65 L133.3,199.61 L133.05,199.57 L132.8,199.53 L132.55,199.48 L132.3,199.44 L132.05,199.4 L131.8,199.35 L131.55,199.3 L131.3,199.26 L131.05,199.21 L130.8,199.16 L130.55,199.11 L130.3,199.06 L130.05,199.01 L129.8,198.96 L129.55,198.9 L129.3,198.85 L129.05,198.79 L128.8,198.74 L128.55,198.68 L128.3,198.62 L128.05,198.56 L127.8,198.5 L127.55,198.44 L127.3,198.37 L127.05,198.31 L126.8,198.24 L126.55,198.18 L126.3,198.11 L126.05,198.04 L125.8,197.98 L125.55,197.91 L125.3,197.84 L125.05,197.77 L124.8,197.7 L124.55,197.63 L124.3,197.56 L124.05,197.49 L123.8,197.41 L123.55,197.34 L123.3,197.27 L123.05,197.2 L122.8,197.12 L122.55,197.05 L122.3,196.98 L122.05,196.9 L121.8,196.83 L121.55,196.76 L121.3,196.68 L121.05,196.61 L120.8,196.54 L120.55,196.46 L120.3,196.39 L120.05,196.32 L119.8,196.25 L119.55,196.17 L119.3,196.1 L119.05,196.03 L118.8,195.96 L118.55,195.89 L118.3,195.82 L118.05,195.75 L117.8,195.68 L117.55,195.61 L117.3,195.54 L117.05,195.47 L116.8,195.41 L116.55,195.34 L116.3,195.28 L116.05,195.21 L115.8,195.15 L115.55,195.08 L115.3,195.02 L115.05,194.96 L114.8,194.9 L114.55,194.84 L114.3,194.79 L114.05,194.73 L113.8,194.67 L113.55,194.62 L113.3,194.57 L113.05,194.51 L112.8,194.46 L112.55,194.42 L112.3,194.37 L112.05,194.32 L111.8,194.28 L111.55,194.23 L111.3,194.19 L111.05,194.15 L110.8,194.11 L110.55,194.08 L110.3,194.04 L110.05,194.01 L109.8,193.97 L109.55,193.94 L109.3,193.91 L109.05,193.88 L108.8,193.85 L108.55,193.82 L108.3,193.79 L108.05,193.76 L107.8,193.73 L107.55,193.7 L107.3,193.67 L107.05,193.64 L106.8,193.61 L106.55,193.58 L106.3,193.56 L106.05,193.53 L105.8,193.5 L105.55,193.47 L105.3,193.45 L105.05,193.42 L104.8,193.39 L104.55,193.37 L104.3,193.34 L104.05,193.32 L103.8,193.29 L103.55,193.26 L103.3,193.24 L103.05,193.21 L102.8,193.19 L102.55,193.17 L102.3,193.14 L102.05,193.12 L101.8,193.09 L101.55,193.07 L101.3,193.05 L101.05,193.03 L100.8,193 L100.55,192.98 L100.3,192.96 L100.05,192.94 L99.8,192.91 L99.55,192.89 L99.3,192.87 L99.05,192.85 L98.8,192.83 L98.55,192.81 L98.3,192.79 L98.05,192.77 L97.8,192.74 L97.55,192.72 L97.3,192.7 L97.05,192.68 L96.8,192.66 L96.55,192.64 L96.3,192.63 L96.05,192.61 L95.8,192.59 L95.55,192.57 L95.3,192.55 L95.05,192.53 L94.8,192.51Z" fill="#8080ff" fill-opacity="0.22"/>
<path d="M132.55,199.14 L132.8,199.14 L133.05,199.13 L133.3,199.11 L133.55,199.09 L133.8,199.05 L134.05,199.01 L134.3,198.96 L134.55,198.9 L134.8,198.82 L135.05,198.74 L135.3,198.64 L135.55,198.52 L135.8,198.39 L136.05,198.24 L136.3,198.07 L136.55,197.88 L136.8,197.67 L137.05,197.43 L137.3,197.17 L137.55,196.88 L137.8,196.56 L138.05,196.21 L138.3,195.83 L138.55,195.41 L138.8,194.96 L139.05,194.46 L139.3,193.92 L139.55,193.34 L139.8,192.71 L140.05,192.03 L140.3,191.3 L140.55,190.51 L140.8,189.67 L141.05,188.77 L141.3,187.81 L141.55,186.79 L141.8,185.71 L142.05,184.55 L142.3,183.33 L142.55,182.04 L142.8,180.69 L143.05,179.25 L143.3,177.75 L143.55,176.18 L143.8,174.53 L144.05,172.81 L144.3,171.01 L144.55,169.15 L144.8,167.21 L145.05,165.2 L145.3,163.13 L145.55,160.99 L145.8,158.8 L146.05,156.54 L146.3,154.23 L146.55,151.87 L146.8,149.46 L147.05,147.01 L147.3,144.53 L147.55,142.01 L147.8,139.47 L148.05,136.91 L148.3,134.34 L148.55,131.77 L148.8,129.2 L149.05,126.64 L149.3,124.1 L149.55,121.59 L149.8,119.12 L150.05,116.69 L150.3,114.32 L150.55,112 L150.8,109.76 L151.05,107.59 L151.3,105.52 L151.55,103.54 L151.8,101.66 L152.05,99.89 L152.3,98.25 L152.55,96.73 L152.8,95.34 L153.05,94.09 L153.3,92.98 L153.55,92.03 L153.8,91.22 L154.05,90.58 L154.3,90.09 L154.55,89.77 L154.8,89.61 L155.05,89.62 L155.3,89.8 L155.55,90.14 L155.8,90.64 L156.05,91.31 L156.3,92.14 L156.55,93.12 L156.8,94.26 L157.05,95.55 L157.3,96.99 L157.55,98.56 L157.8,100.27 L158.05,102.1 L158.3,104.05 L158.55,106.11 L158.8,108.28 L159.05,110.54 L159.3,112.89 L159.55,115.32 L159.8,117.82 L160.05,120.38 L160.3,123 L160.55,125.66 L160.8,128.35 L161.05,131.08 L161.3,133.82 L161.55,136.58 L161.8,139.34 L162.05,142.1 L162.3,144.84 L162.55,147.57 L162.8,150.27 L163.05,152.94 L163.3,155.58 L163.55,158.17 L163.8,160.72 L164.05,163.21 L164.3,165.65 L164.55,168.03 L164.8,170.35 L165.05,172.6 L165.3,174.78 L165.55,176.89 L165.8,178.93 L166.05,180.9 L166.3,182.8 L166.55,184.62 L166.8,186.37 L167.05,188.04 L167.3,189.64 L167.55,191.17 L167.8,192.63 L168.05,194.02 L168.3,195.33 L168.55,196.59 L168.8,197.77 L169.05,198.9 L169.3,199.96 L169.55,200.97 L169.8,201.91 L170.05,202.81 L170.3,203.65 L170.55,204.44 L170.8,205.18 L171.05,205.88 L171.3,206.54 L171.55,207.16 L171.8,207.73 L172.05,208.28 L172.3,208.79 L172.55,209.27 L172.8,209.71 L173.05,210.14 L173.3,210.53 L173.55,210.9 L173.8,211.26 L174.05,211.59 L174.3,211.9 L174.55,212.19 L174.8,212.47 L175.05,212.74 L175.3,212.99 L175.55,213.24 L175.8,213.47 L176.05,213.7 L176.3,213.92 L176.55,214.13 L176.8,214.34 L177.05,214.54 L177.3,214.74 L177.55,214.94 L177.8,215.13 L177.8,215.43 L177.55,215.29 L177.3,215.14 L177.05,215 L176.8,214.85 L176.55,214.71 L176.3,214.58 L176.05,214.44 L175.8,214.31 L175.55,214.18 L175.3,214.05 L175.05,213.92 L174.8,213.8 L174.55,213.68 L174.3,213.56 L174.05,213.44 L173.8,213.32 L173.55,213.21 L173.3,213.09 L173.05,212.97 L172.8,212.86 L172.55,212.74 L172.3,212.63 L172.05,212.51 L171.8,212.4 L171.55,212.29 L171.3,212.18 L171.05,212.07 L170.8,211.96 L170.55,211.85 L170.3,211.74 L170.05,211.63 L169.8,211.52 L169.55,211.41 L169.3,211.3 L169.05,211.2 L168.8,211.09 L168.55,210.98 L168.3,210.88 L168.05,210.77 L167.8,210.67 L167.55,210.57 L167.3,210.46 L167.05,210.36 L166.8,210.25 L166.55,210.15 L166.3,210.05 L166.05,209.95 L165.8,209.84 L165.55,209.74 L165.3,209.64 L165.05,209.54 L164.8,209.44 L164.55,209.34 L164.3,209.23 L164.05,209.13 L163.8,209.03 L163.55,208.93 L163.3,208.83 L163.05,208.73 L162.8,208.63 L162.55,208.53 L162.3,208.43 L162.05,208.33 L161.8,208.23 L161.55,208.13 L161.3,208.03 L161.05,207.92 L160.8,207.82 L160.55,207.72 L160.3,207.62 L160.05,207.52 L159.8,207.42 L159.55,207.32 L159.3,207.21 L159.05,207.11 L158.8,207 L158.55,206.9 L158.3,206.79 L158.05,206.69 L157.8,206.58 L157.55,206.47 L157.3,206.37 L157.05,206.26 L156.8,206.15 L156.55,206.04 L156.3,205.93 L156.05,205.82 L155.8,205.72 L155.55,205.61 L155.3,205.5 L155.05,205.39 L154.8,205.28 L154.55,205.17 L154.3,205.06 L154.05,204.96 L153.8,204.85 L153.55,204.74 L153.3,204.64 L153.05,204.53 L152.8,204.43 L152.55,204.32 L152.3,204.22 L152.05,204.11 L151.8,204.01 L151.55,203.91 L151.3,203.81 L151.05,203.71 L150.8,203.61 L150.55,203.51 L150.3,203.41 L150.05,203.32 L149.8,203.22 L149.55,203.13 L149.3,203.04 L149.05,202.95 L148.8,202.86 L148.55,202.77 L148.3,202.68 L148.05,202.6 L147.8,202.51 L147.55,202.43 L147.3,202.35 L147.05,202.27 L146.8,202.2 L146.55,202.12 L146.3,202.05 L146.05,201.98 L145.8,201.91 L145.55,201.84 L145.3,201.78 L145.05,201.71 L144.8,201.65 L144.55,201.59 L144.3,201.53 L144.05,201.48 L143.8,201.42 L143.55,201.36 L143.3,201.31 L143.05,201.26 L142.8,201.21 L142.55,201.16 L142.3,201.11 L142.05,201.06 L141.8,201.01 L141.55,200.96 L141.3,200.92 L141.05,200.87 L140.8,200.82 L140.55,200.78 L140.3,200.74 L140.05,200.69 L139.8,200.65 L139.55,200.61 L139.3,200.57 L139.05,200.53 L138.8,200.49 L138.55,200.45 L138.3,200.41 L138.05,200.37 L137.8,200.33 L137.55,200.29 L137.3,200.25 L137.05,200.21 L136.8,200.17 L136.55,200.13 L136.3,200.09 L136.05,200.05 L135.8,200.01 L135.55,199.98 L135.3,199.94 L135.05,199.9 L134.8,199.86 L134.55,199.82 L134.3,199.78 L134.05,199.74 L133.8,199.7 L133.55,199.65 L133.3,199.61 L133.05,199.57 L132.8,199.53 L132.55,199.48Z" fill="#8080ff" fill-opacity="0.22"/>
<path d="M54.05,189.57 L54.3,189.58 L54.55,189.58 L54.8,189.58 L55.05,189.57 L55.3,189.56 L55.55,189.55 L55.8,189.53 L56.05,189.52 L56.3,189.5 L56.55,189.47 L56.8,189.44 L57.05,189.41 L57.3,189.38 L57.55,189.34 L57.8,189.3 L58.05,189.25 L58.3,189.2 L58.55,189.15 L58.8,189.09 L59.05,189.03 L59.3,188.96 L59.55,188.89 L59.8,188.81 L60.05,188.73 L60.3,188.64 L60.55,188.55 L60.8,188.45 L61.05,188.35 L61.3,188.24 L61.55,188.12 L61.8,188 L62.05,187.88 L62.3,187.74 L62.55,187.61 L62.8,187.46 L63.05,187.31 L63.3,187.15 L63.55,186.99 L63.8,186.82 L64.05,186.64 L64.3,186.46 L64.55,186.27 L64.8,186.08 L65.05,185.88 L65.3,185.67 L65.55,185.46 L65.8,185.24 L66.05,185.02 L66.3,184.79 L66.55,184.55 L66.8,184.31 L67.05,184.07 L67.3,183.82 L67.55,183.56 L67.8,183.3 L68.05,183.04 L68.3,182.77 L68.55,182.5 L68.8,182.23 L69.05,181.95 L69.3,181.68 L69.55,181.4 L69.8,181.11 L70.05,180.83 L70.3,180.55 L70.55,180.26 L70.8,179.98 L71.05,179.7 L71.3,179.42 L71.55,179.14 L71.8,178.86 L72.05,178.58 L72.3,178.31 L72.55,178.04 L72.8,177.78 L73.05,177.52 L73.3,177.27 L73.55,177.02 L73.8,176.78 L74.05,176.55 L74.3,176.32 L74.55,176.1 L74.8,175.89 L75.05,175.69 L75.3,175.5 L75.55,175.32 L75.8,175.15 L76.05,174.99 L76.3,174.84 L76.55,174.7 L76.8,174.57 L77.05,174.46 L77.3,174.36 L77.55,174.27 L77.8,174.19 L78.05,174.13 L78.3,174.08 L78.55,174.05 L78.8,174.02 L79.05,174.02 L79.3,174.02 L79.55,174.04 L79.8,174.08 L80.05,174.12 L80.3,174.18 L80.55,174.26 L80.8,174.35 L81.05,174.45 L81.3,174.56 L81.55,174.68 L81.8,174.82 L82.05,174.97 L82.3,175.13 L82.55,175.31 L82.8,175.49 L83.05,175.69 L83.3,175.89 L83.55,176.11 L83.8,176.33 L84.05,176.57 L84.3,176.81 L84.55,177.06 L84.8,177.32 L85.05,177.59 L85.3,177.86 L85.55,178.14 L85.8,178.42 L86.05,178.71 L86.3,179 L86.55,179.3 L86.8,179.6 L87.05,179.91 L87.3,180.21 L87.55,180.52 L87.8,180.83 L88.05,181.14 L88.3,181.46 L88.55,181.77 L88.8,182.08 L89.05,182.39 L89.3,182.7 L89.55,183.01 L89.8,183.31 L90.05,183.62 L90.3,183.92 L90.55,184.22 L90.8,184.51 L91.05,184.8 L91.3,185.09 L91.55,185.37 L91.8,185.65 L92.05,185.92 L92.3,186.19 L92.55,186.45 L92.8,186.71 L93.05,186.96 L93.3,187.21 L93.55,187.45 L93.8,187.68 L94.05,187.91 L94.3,188.14 L94.55,188.35 L94.8,188.56 L95.05,188.77 L95.3,188.97 L95.55,189.16 L95.8,189.35 L96.05,189.53 L96.3,189.71 L96.55,189.88 L96.8,190.05 L97.05,190.21 L97.3,190.36 L97.55,190.51 L97.8,190.65 L98.05,190.79 L98.3,190.92 L98.55,191.05 L98.8,191.18 L99.05,191.29 L99.3,191.41 L99.55,191.52 L99.8,191.63 L100.05,191.73 L100.3,191.83 L100.55,191.92 L100.8,192.01 L101.05,192.1 L101.3,192.18 L101.55,192.26 L101.8,192.34 L102.05,192.41 L102.3,192.49 L102.55,192.56 L102.8,192.62 L103.05,192.69 L103.3,192.75 L103.55,192.81 L103.8,192.87 L104.05,192.93 L104.3,192.98 L104.55,193.03 L104.8,193.08 L104.8,193.39 L104.55,193.37 L104.3,193.34 L104.05,193.32 L103.8,193.29 L103.55,193.26 L103.3,193.24 L103.05,193.21 L102.8,193.19 L102.55,193.17 L102.3,193.14 L102.05,193.12 L101.8,193.09 L101.55,193.07 L101.3,193.05 L101.05,193.03 L100.8,193 L100.55,192.98 L100.3,192.96 L100.05,192.94 L99.8,192.91 L99.55,192.89 L99.3,192.87 L99.05,192.85 L98.8,192.83 L98.55,192.81 L98.3,192.79 L98.05,192.77 L97.8,192.74 L97.55,192.72 L97.3,192.7 L97.05,192.68 L96.8,192.66 L96.55,192.64 L96.3,192.63 L96.05,192.61 L95.8,192.59 L95.55,192.57 L95.3,192.55 L95.05,192.53 L94.8,192.51 L94.55,192.49 L94.3,192.47 L94.05,192.45 L93.8,192.44 L93.55,192.42 L93.3,192.4 L93.05,192.38 L92.8,192.36 L92.55,192.35 L92.3,192.33 L92.05,192.31 L91.8,192.29 L91.55,192.28 L91.3,192.26 L91.05,192.24 L90.8,192.22 L90.55,192.21 L90.3,192.19 L90.05,192.17 L89.8,192.16 L89.55,192.14 L89.3,192.12 L89.05,192.11 L88.8,192.09 L88.55,192.07 L88.3,192.05 L88.05,192.04 L87.8,192.02 L87.55,192 L87.3,191.99 L87.05,191.97 L86.8,191.96 L86.55,191.94 L86.3,191.92 L86.05,191.91 L85.8,191.89 L85.55,191.87 L85.3,191.86 L85.05,191.84 L84.8,191.82 L84.55,191.81 L84.3,191.79 L84.05,191.77 L83.8,191.76 L83.55,191.74 L83.3,191.72 L83.05,191.71 L82.8,191.69 L82.55,191.67 L82.3,191.66 L82.05,191.64 L81.8,191.62 L81.55,191.61 L81.3,191.59 L81.05,191.57 L80.8,191.56 L80.55,191.54 L80.3,191.52 L80.05,191.5 L79.8,191.49 L79.55,191.47 L79.3,191.45 L79.05,191.44 L78.8,191.42 L78.55,191.4 L78.3,191.39 L78.05,191.37 L77.8,191.36 L77.55,191.34 L77.3,191.33 L77.05,191.31 L76.8,191.3 L76.55,191.29 L76.3,191.27 L76.05,191.26 L75.8,191.24 L75.55,191.23 L75.3,191.22 L75.05,191.2 L74.8,191.19 L74.55,191.18 L74.3,191.17 L74.05,191.15 L73.8,191.14 L73.55,191.13 L73.3,191.12 L73.05,191.11 L72.8,191.09 L72.55,191.08 L72.3,191.07 L72.05,191.06 L71.8,191.05 L71.55,191.03 L71.3,191.02 L71.05,191.01 L70.8,191 L70.55,190.99 L70.3,190.98 L70.05,190.97 L69.8,190.95 L69.55,190.94 L69.3,190.93 L69.05,190.92 L68.8,190.91 L68.55,190.9 L68.3,190.88 L68.05,190.87 L67.8,190.86 L67.55,190.85 L67.3,190.84 L67.05,190.83 L66.8,190.81 L66.55,190.8 L66.3,190.79 L66.05,190.78 L65.8,190.76 L65.55,190.75 L65.3,190.74 L65.05,190.73 L64.8,190.71 L64.55,190.7 L64.3,190.69 L64.05,190.67 L63.8,190.66 L63.55,190.64 L63.3,190.63 L63.05,190.62 L62.8,190.6 L62.55,190.59 L62.3,190.57 L62.05,190.56 L61.8,190.54 L61.55,190.53 L61.3,190.51 L61.05,190.49 L60.8,190.48 L60.55,190.46 L60.3,190.44 L60.05,190.43 L59.8,190.41 L59.55,190.39 L59.3,190.37 L59.05,190.35 L58.8,190.33 L58.55,190.31 L58.3,190.29 L58.05,190.27 L57.8,190.25 L57.55,190.23 L57.3,190.21 L57.05,190.19 L56.8,190.17 L56.55,190.15 L56.3,190.12 L56.05,190.1 L55.8,190.08 L55.55,190.05 L55.3,190.03 L55.05,190.01 L54.8,189.98 L54.55,189.95 L54.3,189.92 L54.05,189.89Z" fill="#ff37fa" fill-opacity="0.7"/>
<path d="M95.55,192.27 L95.8,192.26 L96.05,192.25 L96.3,192.23 L96.55,192.21 L96.8,192.19 L97.05,192.17 L97.3,192.15 L97.55,192.12 L97.8,192.09 L98.05,192.05 L98.3,192.01 L98.55,191.96 L98.8,191.92 L99.05,191.86 L99.3,191.8 L99.55,191.74 L99.8,191.67 L100.05,191.6 L100.3,191.52 L100.55,191.43 L100.8,191.34 L101.05,191.23 L101.3,191.13 L101.55,191.01 L101.8,190.89 L102.05,190.76 L102.3,190.62 L102.55,190.48 L102.8,190.32 L103.05,190.16 L103.3,189.98 L103.55,189.8 L103.8,189.61 L104.05,189.41 L104.3,189.19 L104.55,188.97 L104.8,188.74 L105.05,188.5 L105.3,188.25 L105.55,187.98 L105.8,187.71 L106.05,187.43 L106.3,187.13 L106.55,186.83 L106.8,186.51 L107.05,186.19 L107.3,185.85 L107.55,185.51 L107.8,185.16 L108.05,184.79 L108.3,184.42 L108.55,184.04 L108.8,183.65 L109.05,183.26 L109.3,182.85 L109.55,182.44 L109.8,182.03 L110.05,181.61 L110.3,181.18 L110.55,180.76 L110.8,180.33 L111.05,179.9 L111.3,179.46 L111.55,179.03 L111.8,178.6 L112.05,178.18 L112.3,177.75 L112.55,177.33 L112.8,176.91 L113.05,176.5 L113.3,176.1 L113.55,175.7 L113.8,175.32 L114.05,174.94 L114.3,174.57 L114.55,174.21 L114.8,173.87 L115.05,173.54 L115.3,173.22 L115.55,172.92 L115.8,172.64 L116.05,172.37 L116.3,172.12 L116.55,171.89 L116.8,171.68 L117.05,171.48 L117.3,171.31 L117.55,171.16 L117.8,171.03 L118.05,170.93 L118.3,170.85 L118.55,170.79 L118.8,170.75 L119.05,170.74 L119.3,170.75 L119.55,170.79 L119.8,170.85 L120.05,170.93 L120.3,171.04 L120.55,171.17 L120.8,171.33 L121.05,171.51 L121.3,171.71 L121.55,171.94 L121.8,172.19 L122.05,172.46 L122.3,172.75 L122.55,173.06 L122.8,173.39 L123.05,173.74 L123.3,174.11 L123.55,174.5 L123.8,174.9 L124.05,175.32 L124.3,175.76 L124.55,176.21 L124.8,176.67 L125.05,177.14 L125.3,177.62 L125.55,178.12 L125.8,178.62 L126.05,179.13 L126.3,179.65 L126.55,180.17 L126.8,180.69 L127.05,181.22 L127.3,181.76 L127.55,182.29 L127.8,182.83 L128.05,183.36 L128.3,183.89 L128.55,184.42 L128.8,184.95 L129.05,185.47 L129.3,185.99 L129.55,186.51 L129.8,187.01 L130.05,187.51 L130.3,188.01 L130.55,188.49 L130.8,188.97 L131.05,189.43 L131.3,189.89 L131.55,190.34 L131.8,190.78 L132.05,191.21 L132.3,191.63 L132.55,192.03 L132.8,192.43 L133.05,192.82 L133.3,193.19 L133.55,193.55 L133.8,193.91 L134.05,194.25 L134.3,194.58 L134.55,194.9 L134.8,195.2 L135.05,195.5 L135.3,195.79 L135.55,196.07 L135.8,196.33 L136.05,196.59 L136.3,196.83 L136.55,197.07 L136.8,197.3 L137.05,197.52 L137.3,197.73 L137.55,197.93 L137.8,198.12 L138.05,198.31 L138.3,198.48 L138.55,198.65 L138.8,198.82 L139.05,198.97 L139.3,199.13 L139.55,199.27 L139.8,199.41 L140.05,199.54 L140.3,199.67 L140.55,199.79 L140.8,199.91 L141.05,200.03 L141.3,200.14 L141.55,200.25 L141.8,200.35 L142.05,200.45 L142.3,200.55 L142.55,200.64 L142.8,200.74 L143.05,200.83 L143.3,200.92 L143.55,201 L143.8,201.09 L144.05,201.18 L144.05,201.48 L143.8,201.42 L143.55,201.36 L143.3,201.31 L143.05,201.26 L142.8,201.21 L142.55,201.16 L142.3,201.11 L142.05,201.06 L141.8,201.01 L141.55,200.96 L141.3,200.92 L141.05,200.87 L140.8,200.82 L140.55,200.78 L140.3,200.74 L140.05,200.69 L139.8,200.65 L139.55,200.61 L139.3,200.57 L139.05,200.53 L138.8,200.49 L138.55,200.45 L138.3,200.41 L138.05,200.37 L137.8,200.33 L137.55,200.29 L137.3,200.25 L137.05,200.21 L136.8,200.17 L136.55,200.13 L136.3,200.09 L136.05,200.05 L135.8,200.01 L135.55,199.98 L135.3,199.94 L135.05,199.9 L134.8,199.86 L134.55,199.82 L134.3,199.78 L134.05,199.74 L133.8,199.7 L133.55,199.65 L133.3,199.61 L133.05,199.57 L132.8,199.53 L132.55,199.48 L132.3,199.44 L132.05,199.4 L131.8,199.35 L131.55,199.3 L131.3,199.26 L131.05,199.21 L130.8,199.16 L130.55,199.11 L130.3,199.06 L130.05,199.01 L129.8,198.96 L129.55,198.9 L129.3,198.85 L129.05,198.79 L128.8,198.74 L128.55,198.68 L128.3,198.62 L128.05,198.56 L127.8,198.5 L127.55,198.44 L127.3,198.37 L127.05,198.31 L126.8,198.24 L126.55,198.18 L126.3,198.11 L126.05,198.04 L125.8,197.98 L125.55,197.91 L125.3,197.84 L125.05,197.77 L124.8,197.7 L124.55,197.63 L124.3,197.56 L124.05,197.49 L123.8,197.41 L123.55,197.34 L123.3,197.27 L123.05,197.2 L122.8,197.12 L122.55,197.05 L122.3,196.98 L122.05,196.9 L121.8,196.83 L121.55,196.76 L121.3,196.68 L121.05,196.61 L120.8,196.54 L120.55,196.46 L120.3,196.39 L120.05,196.32 L119.8,196.25 L119.55,196.17 L119.3,196.1 L119.05,196.03 L118.8,195.96 L118.55,195.89 L118.3,195.82 L118.05,195.75 L117.8,195.68 L117.55,195.61 L117.3,195.54 L117.05,195.47 L116.8,195.41 L116.55,195.34 L116.3,195.28 L116.05,195.21 L115.8,195.15 L115.55,195.08 L115.3,195.02 L115.05,194.96 L114.8,194.9 L114.55,194.84 L114.3,194.79 L114.05,194.73 L113.8,194.67 L113.55,194.62 L113.3,194.57 L113.05,194.51 L112.8,194.46 L112.55,194.42 L112.3,194.37 L112.05,194.32 L111.8,194.28 L111.55,194.23 L111.3,194.19 L111.05,194.15 L110.8,194.11 L110.55,194.08 L110.3,194.04 L110.05,194.01 L109.8,193.97 L109.55,193.94 L109.3,193.91 L109.05,193.88 L108.8,193.85 L108.55,193.82 L108.3,193.79 L108.05,193.76 L107.8,193.73 L107.55,193.7 L107.3,193.67 L107.05,193.64 L106.8,193.61 L106.55,193.58 L106.3,193.56 L106.05,193.53 L105.8,193.5 L105.55,193.47 L105.3,193.45 L105.05,193.42 L104.8,193.39 L104.55,193.37 L104.3,193.34 L104.05,193.32 L103.8,193.29 L103.55,193.26 L103.3,193.24 L103.05,193.21 L102.8,193.19 L102.55,193.17 L102.3,193.14 L102.05,193.12 L101.8,193.09 L101.55,193.07 L101.3,193.05 L101.05,193.03 L100.8,193 L100.55,192.98 L100.3,192.96 L100.05,192.94 L99.8,192.91 L99.55,192.89 L99.3,192.87 L99.05,192.85 L98.8,192.83 L98.55,192.81 L98.3,192.79 L98.05,192.77 L97.8,192.74 L97.55,192.72 L97.3,192.7 L97.05,192.68 L96.8,192.66 L96.55,192.64 L96.3,192.63 L96.05,192.61 L95.8,192.59 L95.55,192.57Z" fill="#ff37fa" fill-opacity="0.7"/>
<path d="M23.8,182.5 L24.05,182.56 L24.3,182.63 L24.55,182.69 L24.8,182.75 L25.05,182.82 L25.3,182.88 L25.55,182.94 L25.8,183.01 L26.05,183.07 L26.3,183.13 L26.55,183.2 L26.8,183.26 L27.05,183.32 L27.3,183.38 L27.55,183.45 L27.8,183.51 L28.05,183.57 L28.3,183.63 L28.55,183.7 L28.8,183.76 L29.05,183.82 L29.3,183.88 L29.55,183.95 L29.8,184.01 L30.05,184.07 L30.3,184.13 L30.55,184.19 L30.8,184.26 L31.05,184.32 L31.3,184.38 L31.55,184.44 L31.8,184.5 L32.05,184.57 L32.3,184.63 L32.55,184.69 L32.8,184.75 L33.05,184.81 L33.3,184.87 L33.55,184.93 L33.8,185 L34.05,185.06 L34.3,185.12 L34.55,185.18 L34.8,185.24 L35.05,185.3 L35.3,185.36 L35.55,185.42 L35.8,185.48 L36.05,185.55 L36.3,185.61 L36.55,185.67 L36.8,185.73 L37.05,185.79 L37.3,185.85 L37.55,185.91 L37.8,185.97 L38.05,186.03 L38.3,186.09 L38.55,186.15 L38.8,186.21 L39.05,186.27 L39.3,186.33 L39.55,186.39 L39.8,186.45 L40.05,186.51 L40.3,186.57 L40.55,186.63 L40.8,186.7 L41.05,186.76 L41.3,186.82 L41.55,186.89 L41.8,186.95 L42.05,187.02 L42.3,187.09 L42.55,187.15 L42.8,187.22 L43.05,187.29 L43.3,187.36 L43.55,187.43 L43.8,187.5 L44.05,187.57 L44.3,187.63 L44.55,187.7 L44.8,187.77 L45.05,187.84 L45.3,187.91 L45.55,187.98 L45.8,188.05 L46.05,188.12 L46.3,188.19 L46.55,188.26 L46.8,188.32 L47.05,188.39 L47.3,188.46 L47.55,188.52 L47.8,188.59 L48.05,188.66 L48.3,188.72 L48.55,188.78 L48.8,188.85 L49.05,188.91 L49.3,188.97 L49.55,189.03 L49.8,189.09 L50.05,189.15 L50.3,189.2 L50.55,189.26 L50.8,189.31 L51.05,189.37 L51.3,189.42 L51.55,189.47 L51.8,189.52 L52.05,189.57 L52.3,189.61 L52.55,189.66 L52.8,189.7 L53.05,189.74 L53.3,189.78 L53.55,189.82 L53.8,189.86 L54.05,189.89 L54.3,189.92 L54.55,189.95 L54.8,189.98 L55.05,190.01 L55.3,190.03 L55.55,190.05 L55.8,190.08 L56.05,190.1 L56.3,190.12 L56.55,190.15 L56.8,190.17 L57.05,190.19 L57.3,190.21 L57.55,190.23 L57.8,190.25 L58.05,190.27 L58.3,190.29 L58.55,190.31 L58.8,190.33 L59.05,190.35 L59.3,190.37 L59.55,190.39 L59.8,190.41 L60.05,190.43 L60.3,190.44 L60.55,190.46 L60.8,190.48 L61.05,190.49 L61.3,190.51 L61.55,190.53 L61.8,190.54 L62.05,190.56 L62.3,190.57 L62.55,190.59 L62.8,190.6 L63.05,190.62 L63.3,190.63 L63.55,190.64 L63.8,190.66 L64.05,190.67 L64.3,190.69 L64.55,190.7 L64.8,190.71 L65.05,190.73 L65.3,190.74 L65.55,190.75 L65.8,190.76 L66.05,190.78 L66.3,190.79 L66.55,190.8 L66.8,190.81 L67.05,190.83 L67.3,190.84 L67.55,190.85 L67.8,190.86 L68.05,190.87 L68.3,190.88 L68.55,190.9 L68.8,190.91 L69.05,190.92 L69.3,190.93 L69.55,190.94 L69.8,190.95 L70.05,190.97 L70.3,190.98 L70.55,190.99 L70.8,191 L71.05,191.01 L71.3,191.02 L71.55,191.03 L71.8,191.05 L72.05,191.06 L72.3,191.07 L72.55,191.08 L72.8,191.09 L73.05,191.11 L73.3,191.12 L73.55,191.13 L73.8,191.14 L74.05,191.15 L74.3,191.17 L74.55,191.18 L74.8,191.19 L75.05,191.2 L75.3,191.22 L75.55,191.23 L75.8,191.24 L76.05,191.26 L76.3,191.27 L76.55,191.29 L76.8,191.3 L77.05,191.31 L77.3,191.33 L77.55,191.34 L77.8,191.36 L78.05,191.37 L78.3,191.39 L78.55,191.4 L78.8,191.42 L79.05,191.44 L79.3,191.45 L79.55,191.47 L79.8,191.49 L80.05,191.5 L80.3,191.52 L80.55,191.54 L80.8,191.56 L81.05,191.57 L81.3,191.59 L81.55,191.61 L81.8,191.62 L82.05,191.64 L82.3,191.66 L82.55,191.67 L82.8,191.69 L83.05,191.71 L83.3,191.72 L83.55,191.74 L83.8,191.76 L84.05,191.77 L84.3,191.79 L84.55,191.81 L84.8,191.82 L85.05,191.84 L85.3,191.86 L85.55,191.87 L85.8,191.89 L86.05,191.91 L86.3,191.92 L86.55,191.94 L86.8,191.96 L87.05,191.97 L87.3,191.99 L87.55,192 L87.8,192.02 L88.05,192.04 L88.3,192.05 L88.55,192.07 L88.8,192.09 L89.05,192.11 L89.3,192.12 L89.55,192.14 L89.8,192.16 L90.05,192.17 L90.3,192.19 L90.55,192.21 L90.8,192.22 L91.05,192.24 L91.3,192.26 L91.55,192.28 L91.8,192.29 L92.05,192.31 L92.3,192.33 L92.55,192.35 L92.8,192.36 L93.05,192.38 L93.3,192.4 L93.55,192.42 L93.8,192.44 L94.05,192.45 L94.3,192.47 L94.55,192.49 L94.8,192.51 L95.05,192.53 L95.3,192.55 L95.55,192.57 L95.8,192.59 L96.05,192.61 L96.3,192.63 L96.55,192.64 L96.8,192.66 L97.05,192.68 L97.3,192.7 L97.55,192.72 L97.8,192.74 L98.05,192.77 L98.3,192.79 L98.55,192.81 L98.8,192.83 L99.05,192.85 L99.3,192.87 L99.55,192.89 L99.8,192.91 L100.05,192.94 L100.3,192.96 L100.55,192.98 L100.8,193 L101.05,193.03 L101.3,193.05 L101.55,193.07 L101.8,193.09 L102.05,193.12 L102.3,193.14 L102.55,193.17 L102.8,193.19 L103.05,193.21 L103.3,193.24 L103.55,193.26 L103.8,193.29 L104.05,193.32 L104.3,193.34 L104.55,193.37 L104.8,193.39 L105.05,193.42 L105.3,193.45 L105.55,193.47 L105.8,193.5 L106.05,193.53 L106.3,193.56 L106.55,193.58 L106.8,193.61 L107.05,193.64 L107.3,193.67 L107.55,193.7 L107.8,193.73 L108.05,193.76 L108.3,193.79 L108.55,193.82 L108.8,193.85 L109.05,193.88 L109.3,193.91 L109.55,193.94 L109.8,193.97 L110.05,194.01 L110.3,194.04 L110.55,194.08 L110.8,194.11 L111.05,194.15 L111.3,194.19 L111.55,194.23 L111.8,194.28 L112.05,194.32 L112.3,194.37 L112.55,194.42 L112.8,194.46 L113.05,194.51 L113.3,194.57 L113.55,194.62 L113.8,194.67 L114.05,194.73 L114.3,194.79 L114.55,194.84 L114.8,194.9 L115.05,194.96 L115.3,195.02 L115.55,195.08 L115.8,195.15 L116.05,195.21 L116.3,195.28 L116.55,195.34 L116.8,195.41 L117.05,195.47 L117.3,195.54 L117.55,195.61 L117.8,195.68 L118.05,195.75 L118.3,195.82 L118.55,195.89 L118.8,195.96 L119.05,196.03 L119.3,196.1 L119.55,196.17 L119.8,196.25 L120.05,196.32 L120.3,196.39 L120.55,196.46 L120.8,196.54 L121.05,196.61 L121.3,196.68 L121.55,196.76 L121.8,196.83 L122.05,196.9 L122.3,196.98 L122.55,197.05 L122.8,197.12 L123.05,197.2 L123.3,197.27 L123.55,197.34 L123.8,197.41 L124.05,197.49 L124.3,197.56 L124.55,197.63 L124.8,197.7 L125.05,197.77 L125.3,197.84 L125.55,197.91 L125.8,197.98 L126.05,198.04 L126.3,198.11 L126.55,198.18 L126.8,198.24 L127.05,198.31 L127.3,198.37 L127.55,198.44 L127.8,198.5 L128.05,198.56 L128.3,198.62 L128.55,198.68 L128.8,198.74 L129.05,198.79 L129.3,198.85 L129.55,198.9 L129.8,198.96 L130.05,199.01 L130.3,199.06 L130.55,199.11 L130.8,199.16 L131.05,199.21 L131.3,199.26 L131.55,199.3 L131.8,199.35 L132.05,199.4 L132.3,199.44 L132.55,199.48 L132.8,199.53 L133.05,199.57 L133.3,199.61 L133.55,199.65 L133.8,199.7 L134.05,199.74 L134.3,199.78 L134.55,199.82 L134.8,199.86 L135.05,199.9 L135.3,199.94 L135.55,199.98 L135.8,200.01 L136.05,200.05 L136.3,200.09 L136.55,200.13 L136.8,200.17 L137.05,200.21 L137.3,200.25 L137.55,200.29 L137.8,200.33 L138.05,200.37 L138.3,200.41 L138.55,200.45 L138.8,200.49 L139.05,200.53 L139.3,200.57 L139.55,200.61 L139.8,200.65 L140.05,200.69 L140.3,200.74 L140.55,200.78 L140.8,200.82 L141.05,200.87 L141.3,200.92 L141.55,200.96 L141.8,201.01 L142.05,201.06 L142.3,201.11 L142.55,201.16 L142.8,201.21 L143.05,201.26 L143.3,201.31 L143.55,201.36 L143.8,201.42 L144.05,201.48 L144.3,201.53 L144.55,201.59 L144.8,201.65 L145.05,201.71 L145.3,201.78 L145.55,201.84 L145.8,201.91 L146.05,201.98 L146.3,202.05 L146.55,202.12 L146.8,202.2 L147.05,202.27 L147.3,202.35 L147.55,202.43 L147.8,202.51 L148.05,202.6 L148.3,202.68 L148.55,202.77 L148.8,202.86 L149.05,202.95 L149.3,203.04 L149.55,203.13 L149.8,203.22 L150.05,203.32 L150.3,203.41 L150.55,203.51 L150.8,203.61 L151.05,203.71 L151.3,203.81 L151.55,203.91 L151.8,204.01 L152.05,204.11 L152.3,204.22 L152.55,204.32 L152.8,204.43 L153.05,204.53 L153.3,204.64 L153.55,204.74 L153.8,204.85 L154.05,204.96 L154.3,205.06 L154.55,205.17 L154.8,205.28 L155.05,205.39 L155.3,205.5 L155.55,205.61 L155.8,205.72 L156.05,205.82 L156.3,205.93 L156.55,206.04 L156.8,206.15 L157.05,206.26 L157.3,206.37 L157.55,206.47 L157.8,206.58 L158.05,206.69 L158.3,206.79 L158.55,206.9 L158.8,207 L159.05,207.11 L159.3,207.21 L159.55,207.32 L159.8,207.42 L160.05,207.52 L160.3,207.62 L160.55,207.72 L160.8,207.82 L161.05,207.92 L161.3,208.03 L161.55,208.13 L161.8,208.23 L162.05,208.33 L162.3,208.43 L162.55,208.53 L162.8,208.63 L163.05,208.73 L163.3,208.83 L163.55,208.93 L163.8,209.03 L164.05,209.13 L164.3,209.23 L164.55,209.34 L164.8,209.44 L165.05,209.54 L165.3,209.64 L165.55,209.74 L165.8,209.84 L166.05,209.95 L166.3,210.05 L166.55,210.15 L166.8,210.25 L167.05,210.36 L167.3,210.46 L167.55,210.57 L167.8,210.67 L168.05,210.77 L168.3,210.88 L168.55,210.98 L168.8,211.09 L169.05,211.2 L169.3,211.3 L169.55,211.41 L169.8,211.52 L170.05,211.63 L170.3,211.74 L170.55,211.85 L170.8,211.96 L171.05,212.07 L171.3,212.18 L171.55,212.29 L171.8,212.4 L172.05,212.51 L172.3,212.63 L172.55,212.74 L172.8,212.86 L173.05,212.97 L173.3,213.09 L173.55,213.21 L173.8,213.32 L174.05,213.44 L174.3,213.56 L174.55,213.68 L174.8,213.8 L175.05,213.92 L175.3,214.05 L175.55,214.18 L175.8,214.31 L176.05,214.44 L176.3,214.58 L176.55,214.71 L176.8,214.85 L177.05,215 L177.3,215.14 L177.55,215.29 L177.8,215.43 L178.05,215.58 L178.3,215.73 L178.55,215.88 L178.8,216.03 L179.05,216.19 L179.3,216.34 L179.55,216.49 L179.8,216.64 L180.05,216.8 L180.3,216.95 L180.55,217.1 L180.8,217.25 L181.05,217.4 L181.3,217.55 L181.55,217.69 L181.8,217.84 L182.05,217.98 L182.3,218.13 L182.55,218.27 L182.8,218.41 L183.05,218.54 L183.3,218.68 L183.55,218.81 L183.8,218.93 L184.05,219.06 L184.3,219.18 L184.55,219.3 L184.8,219.41 L185.05,219.52 L185.3,219.63 L185.55,219.74 L185.8,219.85 L186.05,219.95 L186.3,220.06 L186.55,220.16 L186.8,220.27 L187.05,220.37 L187.3,220.47 L187.55,220.57 L187.8,220.67 L188.05,220.77 L188.3,220.86 L188.55,220.96 L188.8,221.05 L189.05,221.14 L189.3,221.23 L189.55,221.32 L189.8,221.41 L190.05,221.5 L190.3,221.58 L190.55,221.66 L190.8,221.75 L191.05,221.83 L191.3,221.9 L191.55,221.98 L191.8,222.05 L192.05,222.12 L192.3,222.19 L192.55,222.26 L192.8,222.33 L193.05,222.39 L193.3,222.45 L193.55,222.52 L193.8,222.58 L194.05,222.64 L194.3,222.71 L194.55,222.77 L194.8,222.83 L195.05,222.89 L195.3,222.95 L195.55,223.01 L195.8,223.07 L196.05,223.13 L196.3,223.18 L196.55,223.24 L196.8,223.3 L197.05,223.35 L197.3,223.41 L197.55,223.46 L197.8,223.52 L198.05,223.57 L198.3,223.62 L198.55,223.67 L198.8,223.73 L199.05,223.78 L199.3,223.83 L199.55,223.87 L199.8,223.92 L200.05,223.97 L200.3,224.02 L200.55,224.06 L200.8,224.11 L201.05,224.15 L201.3,224.2 L201.55,224.24 L201.8,224.28 L202.05,224.32 L202.3,224.36 L202.55,224.4 L202.8,224.44 L203.05,224.48 L203.3,224.51 L203.55,224.55 L203.8,224.59 L204.05,224.62 L204.3,224.65 L204.55,224.69 L204.8,224.72 L205.05,224.75 L205.3,224.78 L205.55,224.81 L205.8,224.83 L206.05,224.86 L206.3,224.89 L206.55,224.92 L206.8,224.94 L207.05,224.97 L207.3,225 L207.55,225.02 L207.8,225.05 L208.05,225.07 L208.3,225.1 L208.55,225.12 L208.8,225.14 L209.05,225.17 L209.3,225.19 L209.55,225.21 L209.8,225.24 L210.05,225.26 L210.3,225.28 L210.55,225.3 L210.8,225.32 L211.05,225.34 L211.3,225.37 L211.55,225.39 L211.8,225.41 L212.05,225.43 L212.3,225.44 L212.55,225.46 L212.8,225.48 L213.05,225.5 L213.3,225.52 L213.55,225.54 L213.8,225.55 L214.05,225.57 L214.3,225.59 L214.55,225.6 L214.8,225.62 L215.05,225.64 L215.3,225.65 L215.55,225.67 L215.8,225.68 L216.05,225.7 L216.3,225.71 L216.55,225.72 L216.8,225.74 L217.05,225.75 L217.3,225.77 L217.55,225.78 L217.8,225.79 L218.05,225.8 L218.3,225.81 L218.55,225.83 L218.8,225.84 L219.05,225.85 L219.3,225.86 L219.55,225.87 L219.8,225.89 L220.05,225.9 L220.3,225.91 L220.55,225.92 L220.8,225.93 L221.05,225.95 L221.3,225.96 L221.55,225.97 L221.8,225.98 L222.05,225.99 L222.3,226.01 L222.55,226.02 L222.8,226.03 L223.05,226.04 L223.3,226.05 L223.55,226.06 L223.8,226.07 L224.05,226.09 L224.3,226.1 L224.55,226.11 L224.8,226.12 L225.05,226.13 L225.3,226.14 L225.55,226.15 L225.8,226.16 L226.05,226.18 L226.3,226.19 L226.55,226.2 L226.8,226.21 L227.05,226.22 L227.3,226.23 L227.55,226.24 L227.8,226.25 L228.05,226.26 L228.3,226.27 L228.55,226.28 L228.8,226.29 L229.05,226.3 L229.3,226.31 L229.55,226.32 L229.8,226.33 L230.05,226.34 L230.3,226.35 L230.55,226.36 L230.8,226.37 L231.05,226.38 L231.3,226.39 L231.55,226.4 L231.8,226.41 L232.05,226.42 L232.3,226.43 L232.55,226.43 L232.8,226.44 L233.05,226.45 L233.3,226.46 L233.55,226.47 L233.8,226.48 L234.05,226.49 L234.3,226.49 L234.55,226.5 L234.8,226.51 L235.05,226.52 L235.3,226.52 L235.55,226.53 L235.8,226.54 L236.05,226.55 L236.3,226.55 L236.55,226.56 L236.8,226.57 L237.05,226.57 L237.3,226.58 L237.55,226.59 L237.8,226.59 L238.05,226.6 L238.3,226.6 L238.55,226.61 L238.8,226.61 L239.05,226.62 L239.3,226.62 L239.55,226.63 L239.8,226.63 L240.05,226.64 L240.3,226.64 L240.55,226.65 L240.8,226.65 L241.05,226.66 L241.3,226.66 L241.55,226.66 L241.8,226.67 L242.05,226.67 L242.3,226.67 L242.55,226.68 L242.8,226.68 L243.05,226.68 L243.3,226.69 L243.55,226.69 L243.8,226.69 L244.05,226.69 L244.3,226.69 L244.55,226.69 L244.8,226.7 L245.05,226.7 L245.3,226.7 L245.55,226.7 L245.8,226.7 L246.05,226.7 L246.3,226.7" fill="none" stroke="#8a80f0" stroke-width="1"/>
<path d="M23.8,182.5 L24.05,182.56 L24.3,182.63 L24.55,182.69 L24.8,182.75 L25.05,182.82 L25.3,182.88 L25.55,182.94 L25.8,183.01 L26.05,183.07 L26.3,183.13 L26.55,183.2 L26.8,183.26 L27.05,183.32 L27.3,183.38 L27.55,183.45 L27.8,183.51 L28.05,183.57 L28.3,183.63 L28.55,183.7 L28.8,183.76 L29.05,183.82 L29.3,183.88 L29.55,183.95 L29.8,184.01 L30.05,184.07 L30.3,184.13 L30.55,184.19 L30.8,184.26 L31.05,184.32 L31.3,184.38 L31.55,184.44 L31.8,184.5 L32.05,184.57 L32.3,184.63 L32.55,184.69 L32.8,184.75 L33.05,184.81 L33.3,184.87 L33.55,184.93 L33.8,185 L34.05,185.06 L34.3,185.12 L34.55,185.18 L34.8,185.24 L35.05,185.3 L35.3,185.36 L35.55,185.42 L35.8,185.48 L36.05,185.55 L36.3,185.61 L36.55,185.67 L36.8,185.73 L37.05,185.79 L37.3,185.85 L37.55,185.91 L37.8,185.97 L38.05,186.03 L38.3,186.09 L38.55,186.15 L38.8,186.21 L39.05,186.27 L39.3,186.33 L39.55,186.39 L39.8,186.45 L40.05,186.51 L40.3,186.57 L40.55,186.63 L40.8,186.7 L41.05,186.76 L41.3,186.82 L41.55,186.89 L41.8,186.95 L42.05,187.02 L42.3,187.09 L42.55,187.15 L42.8,187.22 L43.05,187.29 L43.3,187.36 L43.55,187.43 L43.8,187.5 L44.05,187.57 L44.3,187.63 L44.55,187.7 L44.8,187.77 L45.05,187.84 L45.3,187.91 L45.55,187.98 L45.8,188.05 L46.05,188.12 L46.3,188.19 L46.55,188.26 L46.8,188.32 L47.05,188.39 L47.3,188.46 L47.55,188.52 L47.8,188.59 L48.05,188.66 L48.3,188.72 L48.55,188.78 L48.8,188.85 L49.05,188.91 L49.3,188.97 L49.55,189.03 L49.8,189.09 L50.05,189.15 L50.3,189.2 L50.55,189.26 L50.8,189.31 L51.05,189.37 L51.3,189.42 L51.55,189.47 L51.8,189.52 L52.05,189.57 L52.3,189.61 L52.55,189.66 L52.8,189.7 L53.05,189.74 L53.3,189.78 L53.55,189.82 L53.8,189.86 L54.05,189.89 L54.3,189.92 L54.55,189.95 L54.8,189.98 L55.05,190.01 L55.3,190.03 L55.55,190.05 L55.8,190.08 L56.05,190.1 L56.3,190.12 L56.55,190.15 L56.8,190.17 L57.05,190.19 L57.3,190.21 L57.55,190.23 L57.8,190.25 L58.05,190.27 L58.3,190.29 L58.55,190.31 L58.8,190.33 L59.05,190.35 L59.3,190.37 L59.55,190.39 L59.8,190.41 L60.05,190.43 L60.3,190.44 L60.55,190.46 L60.8,190.48 L61.05,190.49 L61.3,190.51 L61.55,190.53 L61.8,190.54 L62.05,190.56 L62.3,190.57 L62.55,190.59 L62.8,190.6 L63.05,190.62 L63.3,190.63 L63.55,190.64 L63.8,190.66 L64.05,190.67 L64.3,190.69 L64.55,190.7 L64.8,190.71 L65.05,190.73 L65.3,190.74 L65.55,190.75 L65.8,190.76 L66.05,190.78 L66.3,190.79 L66.55,190.8 L66.8,190.81 L67.05,190.83 L67.3,190.84 L67.55,190.85 L67.8,190.86 L68.05,190.87 L68.3,190.88 L68.55,190.9 L68.8,190.91 L69.05,190.92 L69.3,190.93 L69.55,190.94 L69.8,190.95 L70.05,190.97 L70.3,190.98 L70.55,190.99 L70.8,191 L71.05,191.01 L71.3,191.02 L71.55,191.03 L71.8,191.05 L72.05,191.06 L72.3,191.07 L72.55,191.08 L72.8,191.09 L73.05,191.11 L73.3,191.12 L73.55,191.13 L73.8,191.14 L74.05,191.15 L74.3,191.17 L74.55,191.18 L74.8,191.19 L75.05,191.2 L75.3,191.22 L75.55,191.23 L75.8,191.24 L76.05,191.26 L76.3,191.27 L76.55,191.29 L76.8,191.3 L77.05,191.31 L77.3,191.33 L77.55,191.34 L77.8,191.36 L78.05,191.37 L78.3,191.39 L78.55,191.4 L78.8,191.42 L79.05,191.44 L79.3,191.45 L79.55,191.47 L79.8,191.49 L80.05,191.5 L80.3,191.52 L80.55,191.54 L80.8,191.56 L81.05,191.57 L81.3,191.59 L81.55,191.61 L81.8,191.62 L82.05,191.64 L82.3,191.66 L82.55,191.67 L82.8,191.69 L83.05,191.71 L83.3,191.72 L83.55,191.74 L83.8,191.76 L84.05,191.77 L84.3,191.79 L84.55,191.81 L84.8,191.82 L85.05,191.84 L85.3,191.86 L85.55,191.87 L85.8,191.89 L86.05,191.91 L86.3,191.92 L86.55,191.94 L86.8,191.96 L87.05,191.97 L87.3,191.99 L87.55,192 L87.8,192.02 L88.05,192.04 L88.3,192.05 L88.55,192.07 L88.8,192.09 L89.05,192.11 L89.3,192.12 L89.55,192.14 L89.8,192.16 L90.05,192.17 L90.3,192.19 L90.55,192.21 L90.8,192.22 L91.05,192.24 L91.3,192.26 L91.55,192.28 L91.8,192.29 L92.05,192.31 L92.3,192.33 L92.55,192.35 L92.8,192.36 L93.05,192.38 L93.3,192.4 L93.55,192.42 L93.8,192.44 L94.05,192.45 L94.3,192.47 L94.55,192.49 L94.8,192.51 L95.05,192.53 L95.3,192.55 L95.55,192.57 L95.8,192.59 L96.05,192.61 L96.3,192.63 L96.55,192.64 L96.8,192.66 L97.05,192.68 L97.3,192.7 L97.55,192.72 L97.8,192.74 L98.05,192.77 L98.3,192.79 L98.55,192.81 L98.8,192.83 L99.05,192.85 L99.3,192.87 L99.55,192.89 L99.8,192.91 L100.05,192.94 L100.3,192.96 L100.55,192.98 L100.8,193 L101.05,193.03 L101.3,193.05 L101.55,193.07 L101.8,193.09 L102.05,193.12 L102.3,193.14 L102.55,193.17 L102.8,193.19 L103.05,193.21 L103.3,193.24 L103.55,193.26 L103.8,193.29 L104.05,193.32 L104.3,193.34 L104.55,193.37 L104.8,193.39 L105.05,193.42 L105.3,193.45 L105.55,193.47 L105.8,193.5 L106.05,193.53 L106.3,193.56 L106.55,193.58 L106.8,193.61 L107.05,193.64 L107.3,193.67 L107.55,193.7 L107.8,193.73 L108.05,193.76 L108.3,193.79 L108.55,193.82 L108.8,193.85 L109.05,193.88 L109.3,193.91 L109.55,193.94 L109.8,193.97 L110.05,194.01 L110.3,194.04 L110.55,194.08 L110.8,194.11 L111.05,194.15 L111.3,194.19 L111.55,194.23 L111.8,194.28 L112.05,194.32 L112.3,194.37 L112.55,194.42 L112.8,194.46 L113.05,194.51 L113.3,194.57 L113.55,194.62 L113.8,194.67 L114.05,194.73 L114.3,194.79 L114.55,194.84 L114.8,194.9 L115.05,194.96 L115.3,195.02 L115.55,195.08 L115.8,195.15 L116.05,195.21 L116.3,195.28 L116.55,195.34 L116.8,195.41 L117.05,195.47 L117.3,195.54 L117.55,195.61 L117.8,195.68 L118.05,195.75 L118.3,195.82 L118.55,195.89 L118.8,195.96 L119.05,196.03 L119.3,196.1 L119.55,196.17 L119.8,196.25 L120.05,196.32 L120.3,196.39 L120.55,196.46 L120.8,196.54 L121.05,196.61 L121.3,196.68 L121.55,196.76 L121.8,196.83 L122.05,196.9 L122.3,196.98 L122.55,197.05 L122.8,197.12 L123.05,197.2 L123.3,197.27 L123.55,197.34 L123.8,197.41 L124.05,197.49 L124.3,197.56 L124.55,197.63 L124.8,197.7 L125.05,197.77 L125.3,197.84 L125.55,197.91 L125.8,197.98 L126.05,198.04 L126.3,198.11 L126.55,198.18 L126.8,198.24 L127.05,198.31 L127.3,198.37 L127.55,198.44 L127.8,198.5 L128.05,198.56 L128.3,198.62 L128.55,198.68 L128.8,198.74 L129.05,198.79 L129.3,198.85 L129.55,198.9 L129.8,198.96 L130.05,199.01 L130.3,199.06 L130.55,199.11 L130.8,199.16 L131.05,199.21 L131.3,199.26 L131.55,199.3 L131.8,199.35 L132.05,199.4 L132.3,199.44 L132.55,199.48 L132.8,199.53 L133.05,199.57 L133.3,199.61 L133.55,199.65 L133.8,199.7 L134.05,199.74 L134.3,199.78 L134.55,199.82 L134.8,199.86 L135.05,199.9 L135.3,199.94 L135.55,199.98 L135.8,200.01 L136.05,200.05 L136.3,200.09 L136.55,200.13 L136.8,200.17 L137.05,200.21 L137.3,200.25 L137.55,200.29 L137.8,200.33 L138.05,200.37 L138.3,200.41 L138.55,200.45 L138.8,200.49 L139.05,200.53 L139.3,200.57 L139.55,200.61 L139.8,200.65 L140.05,200.69 L140.3,200.74 L140.55,200.78 L140.8,200.82 L141.05,200.87 L141.3,200.92 L141.55,200.96 L141.8,201.01 L142.05,201.06 L142.3,201.11 L142.55,201.16 L142.8,201.21 L143.05,201.26 L143.3,201.31 L143.55,201.36 L143.8,201.42 L144.05,201.48 L144.3,201.53 L144.55,201.59 L144.8,201.65 L145.05,201.71 L145.3,201.78 L145.55,201.84 L145.8,201.91 L146.05,201.98 L146.3,202.05 L146.55,202.12 L146.8,202.2 L147.05,202.27 L147.3,202.35 L147.55,202.43 L147.8,202.51 L148.05,202.6 L148.3,202.68 L148.55,202.77 L148.8,202.86 L149.05,202.95 L149.3,203.04 L149.55,203.13 L149.8,203.22 L150.05,203.32 L150.3,203.41 L150.55,203.51 L150.8,203.61 L151.05,203.71 L151.3,203.81 L151.55,203.91 L151.8,204.01 L152.05,204.11 L152.3,204.22 L152.55,204.32 L152.8,204.43 L153.05,204.53 L153.3,204.64 L153.55,204.74 L153.8,204.85 L154.05,204.96 L154.3,205.06 L154.55,205.17 L154.8,205.28 L155.05,205.39 L155.3,205.5 L155.55,205.61 L155.8,205.72 L156.05,205.82 L156.3,205.93 L156.55,206.04 L156.8,206.15 L157.05,206.26 L157.3,206.37 L157.55,206.47 L157.8,206.58 L158.05,206.69 L158.3,206.79 L158.55,206.9 L158.8,207 L159.05,207.11 L159.3,207.21 L159.55,207.32 L159.8,207.42 L160.05,207.52 L160.3,207.62 L160.55,207.72 L160.8,207.82 L161.05,207.92 L161.3,208.03 L161.55,208.13 L161.8,208.23 L162.05,208.33 L162.3,208.43 L162.55,208.53 L162.8,208.63 L163.05,208.73 L163.3,208.83 L163.55,208.93 L163.8,209.03 L164.05,209.13 L164.3,209.23 L164.55,209.34 L164.8,209.44 L165.05,209.54 L165.3,209.64 L165.55,209.74 L165.8,209.84 L166.05,209.95 L166.3,210.05 L166.55,210.15 L166.8,210.25 L167.05,210.36 L167.3,210.46 L167.55,210.57 L167.8,210.67 L168.05,210.77 L168.3,210.88 L168.55,210.98 L168.8,211.09 L169.05,211.2 L169.3,211.3 L169.55,211.41 L169.8,211.52 L170.05,211.63 L170.3,211.74 L170.55,211.85 L170.8,211.96 L171.05,212.07 L171.3,212.18 L171.55,212.29 L171.8,212.4 L172.05,212.51 L172.3,212.63 L172.55,212.74 L172.8,212.86 L173.05,212.97 L173.3,213.09 L173.55,213.21 L173.8,213.32 L174.05,213.44 L174.3,213.56 L174.55,213.68 L174.8,213.8 L175.05,213.92 L175.3,214.05 L175.55,214.18 L175.8,214.31 L176.05,214.44 L176.3,214.58 L176.55,214.71 L176.8,214.85 L177.05,215 L177.3,215.14 L177.55,215.29 L177.8,215.43" fill="none" stroke="#f050f0" stroke-width="1.1"/>
<path d="M55.05,190 L55.3,190.02 L55.55,190.05 L55.8,190.07 L56.05,190.1 L56.3,190.12 L56.55,190.14 L56.8,190.16 L57.05,190.19 L57.3,190.21 L57.55,190.23 L57.8,190.25 L58.05,190.27 L58.3,190.29 L58.55,190.31 L58.8,190.33 L59.05,190.35 L59.3,190.37 L59.55,190.38 L59.8,190.4 L60.05,190.42 L60.3,190.44 L60.55,190.45 L60.8,190.47 L61.05,190.49 L61.3,190.5 L61.55,190.52 L61.8,190.54 L62.05,190.55 L62.3,190.57 L62.55,190.58 L62.8,190.6 L63.05,190.61 L63.3,190.62 L63.55,190.64 L63.8,190.65 L64.05,190.67 L64.3,190.68 L64.55,190.69 L64.8,190.71 L65.05,190.72 L65.3,190.73 L65.55,190.74 L65.8,190.76 L66.05,190.77 L66.3,190.78 L66.55,190.79 L66.8,190.81 L67.05,190.82 L67.3,190.83 L67.55,190.84 L67.8,190.85 L68.05,190.87 L68.3,190.88 L68.55,190.89 L68.8,190.9 L69.05,190.91 L69.3,190.92 L69.55,190.94 L69.8,190.95 L70.05,190.96 L70.3,190.97 L70.55,190.98 L70.8,190.99 L71.05,191 L71.3,191.02 L71.55,191.03 L71.8,191.04 L72.05,191.05 L72.3,191.06 L72.55,191.07 L72.8,191.09 L73.05,191.1 L73.3,191.11 L73.55,191.12 L73.8,191.13 L74.05,191.15 L74.3,191.16 L74.55,191.17 L74.8,191.18 L75.05,191.2 L75.3,191.21 L75.55,191.22 L75.8,191.24 L76.05,191.25 L76.3,191.26 L76.55,191.28 L76.8,191.29 L77.05,191.31 L77.3,191.32 L77.55,191.34 L77.8,191.35 L78.05,191.37 L78.3,191.38 L78.55,191.4 L78.8,191.41 L79.05,191.43 L79.3,191.44 L79.55,191.46 L79.8,191.48 L80.05,191.5 L80.3,191.51 L80.55,191.53 L80.8,191.55 L81.05,191.56 L81.3,191.58 L81.55,191.6 L81.8,191.62 L82.05,191.63 L82.3,191.65 L82.55,191.67 L82.8,191.68 L83.05,191.7 L83.3,191.72 L83.55,191.73 L83.8,191.75 L84.05,191.77 L84.3,191.78 L84.55,191.8 L84.8,191.81 L85.05,191.83 L85.3,191.85 L85.55,191.86 L85.8,191.88 L86.05,191.9 L86.3,191.91 L86.55,191.93 L86.8,191.95 L87.05,191.96 L87.3,191.98 L87.55,192 L87.8,192.01 L88.05,192.03 L88.3,192.05 L88.55,192.06 L88.8,192.08 L89.05,192.1 L89.3,192.11 L89.55,192.13 L89.8,192.15 L90.05,192.16 L90.3,192.18 L90.55,192.2 L90.8,192.21 L91.05,192.23 L91.3,192.25 L91.55,192.27 L91.8,192.28 L92.05,192.3 L92.3,192.32 L92.55,192.34 L92.8,192.35 L93.05,192.37 L93.3,192.39 L93.55,192.41 L93.8,192.43 L94.05,192.44 L94.3,192.46 L94.55,192.48 L94.8,192.5 L95.05,192.52 L95.3,192.54 L95.55,192.56 L95.8,192.58 L96.05,192.59 L96.3,192.61 L96.55,192.63 L96.8,192.65 L97.05,192.67 L97.3,192.69 L97.55,192.71 L97.8,192.73 L98.05,192.75 L98.3,192.77 L98.55,192.8 L98.8,192.82 L99.05,192.84 L99.3,192.86 L99.55,192.88 L99.8,192.9 L100.05,192.92 L100.3,192.95 L100.55,192.97 L100.8,192.99 L101.05,193.01 L101.3,193.04 L101.55,193.06 L101.8,193.08 L102.05,193.11 L102.3,193.13 L102.55,193.15 L102.8,193.18 L103.05,193.2 L103.3,193.23 L103.55,193.25 L103.8,193.28 L104.05,193.3 L104.3,193.33 L104.55,193.35 L104.8,193.38 L105.05,193.41 L105.3,193.43 L105.55,193.46 L105.8,193.49 L106.05,193.51 L106.3,193.54 L106.55,193.57 L106.8,193.6 L107.05,193.63 L107.3,193.66 L107.55,193.68 L107.8,193.71 L108.05,193.74 L108.3,193.77 L108.55,193.8 L108.8,193.83 L109.05,193.87 L109.3,193.9 L109.55,193.93 L109.8,193.96 L110.05,193.99 L110.3,194.03 L110.55,194.06 L110.8,194.1 L111.05,194.14 L111.3,194.18 L111.55,194.22 L111.8,194.26 L112.05,194.31 L112.3,194.35 L112.55,194.4 L112.8,194.45 L113.05,194.5 L113.3,194.55 L113.55,194.6 L113.8,194.66 L114.05,194.71 L114.3,194.77 L114.55,194.83 L114.8,194.89 L115.05,194.95 L115.3,195.01 L115.55,195.07 L115.8,195.13 L116.05,195.19 L116.3,195.26 L116.55,195.32 L116.8,195.39 L117.05,195.46 L117.3,195.52 L117.55,195.59 L117.8,195.66 L118.05,195.73 L118.3,195.8 L118.55,195.87 L118.8,195.94 L119.05,196.01 L119.3,196.08 L119.55,196.16 L119.8,196.23 L120.05,196.3 L120.3,196.37 L120.55,196.45 L120.8,196.52 L121.05,196.59 L121.3,196.66 L121.55,196.74 L121.8,196.81 L122.05,196.88 L122.3,196.96 L122.55,197.03 L122.8,197.1 L123.05,197.18 L123.3,197.25 L123.55,197.32 L123.8,197.39 L124.05,197.47 L124.3,197.54 L124.55,197.61 L124.8,197.68 L125.05,197.75 L125.3,197.82 L125.55,197.89 L125.8,197.95 L126.05,198.02 L126.3,198.09 L126.55,198.16 L126.8,198.22 L127.05,198.29 L127.3,198.35 L127.55,198.41 L127.8,198.47 L128.05,198.54 L128.3,198.6 L128.55,198.65 L128.8,198.71 L129.05,198.77 L129.3,198.83 L129.55,198.88 L129.8,198.93 L130.05,198.99 L130.3,199.04 L130.55,199.09 L130.8,199.14 L131.05,199.18 L131.3,199.23 L131.55,199.28 L131.8,199.32 L132.05,199.37 L132.3,199.41 L132.55,199.46 L132.8,199.5 L133.05,199.54 L133.3,199.58 L133.55,199.63 L133.8,199.67 L134.05,199.71 L134.3,199.75 L134.55,199.79 L134.8,199.83 L135.05,199.87 L135.3,199.91 L135.55,199.94 L135.8,199.98 L136.05,200.02 L136.3,200.06 L136.55,200.1 L136.8,200.14 L137.05,200.18 L137.3,200.22 L137.55,200.25 L137.8,200.29 L138.05,200.33 L138.3,200.37 L138.55,200.41 L138.8,200.45 L139.05,200.49 L139.3,200.53 L139.55,200.57 L139.8,200.62 L140.05,200.66 L140.3,200.7 L140.55,200.74 L140.8,200.79 L141.05,200.83 L141.3,200.88 L141.55,200.92 L141.8,200.97 L142.05,201.02 L142.3,201.07 L142.55,201.12 L142.8,201.17 L143.05,201.22 L143.3,201.27 L143.55,201.32 L143.8,201.38 L144.05,201.43 L144.3,201.49 L144.55,201.55 L144.8,201.61 L145.05,201.67 L145.3,201.73 L145.55,201.79 L145.8,201.86 L146.05,201.93 L146.3,202 L146.55,202.07 L146.8,202.14 L147.05,202.22 L147.3,202.3 L147.55,202.37 L147.8,202.46 L148.05,202.54 L148.3,202.62 L148.55,202.71 L148.8,202.79 L149.05,202.88 L149.3,202.97 L149.55,203.06 L149.8,203.15 L150.05,203.24 L150.3,203.33 L150.55,203.43 L150.8,203.52 L151.05,203.62 L151.3,203.71 L151.55,203.81 L151.8,203.91 L152.05,204.01 L152.3,204.11 L152.55,204.2 L152.8,204.3 L153.05,204.4 L153.3,204.5 L153.55,204.6 L153.8,204.7 L154.05,204.8 L154.3,204.9 L154.55,205 L154.8,205.09 L155.05,205.19 L155.3,205.29 L155.55,205.38 L155.8,205.48 L156.05,205.57 L156.3,205.67 L156.55,205.76 L156.8,205.85 L157.05,205.94 L157.3,206.02 L157.55,206.11 L157.8,206.19 L158.05,206.28 L158.3,206.35 L158.55,206.43 L158.8,206.51 L159.05,206.58 L159.3,206.65 L159.55,206.72 L159.8,206.78 L160.05,206.84 L160.3,206.9 L160.55,206.95 L160.8,207.01 L161.05,207.05 L161.3,207.1 L161.55,207.14 L161.8,207.18 L162.05,207.22 L162.3,207.25 L162.55,207.27 L162.8,207.3 L163.05,207.32 L163.3,207.33 L163.55,207.34 L163.8,207.35 L164.05,207.35 L164.3,207.34 L164.55,207.33 L164.8,207.31 L165.05,207.29 L165.3,207.27 L165.55,207.23 L165.8,207.19 L166.05,207.15 L166.3,207.09 L166.55,207.03 L166.8,206.96 L167.05,206.89 L167.3,206.81 L167.55,206.72 L167.8,206.62 L168.05,206.51 L168.3,206.4 L168.55,206.27 L168.8,206.14 L169.05,206 L169.3,205.85 L169.55,205.69 L169.8,205.52 L170.05,205.34 L170.3,205.16 L170.55,204.96 L170.8,204.75 L171.05,204.53 L171.3,204.3 L171.55,204.06 L171.8,203.81 L172.05,203.55 L172.3,203.28 L172.55,203 L172.8,202.71 L173.05,202.4 L173.3,202.09 L173.55,201.77 L173.8,201.43 L174.05,201.09 L174.3,200.73 L174.55,200.36 L174.8,199.99 L175.05,199.6 L175.3,199.21 L175.55,198.81 L175.8,198.4 L176.05,197.98 L176.3,197.56 L176.55,197.13 L176.8,196.69 L177.05,196.25 L177.3,195.8 L177.55,195.34 L177.8,194.88 L178.05,194.41 L178.3,193.93 L178.55,193.45 L178.8,192.97 L179.05,192.48 L179.3,191.99 L179.55,191.49 L179.8,190.99 L180.05,190.49 L180.3,189.99 L180.55,189.48 L180.8,188.97 L181.05,188.47 L181.3,187.96 L181.55,187.45 L181.8,186.94 L182.05,186.44 L182.3,185.94 L182.55,185.44 L182.8,184.94 L183.05,184.45 L183.3,183.96 L183.55,183.48 L183.8,183.01 L184.05,182.54 L184.3,182.08 L184.55,181.62 L184.8,181.18 L185.05,180.75 L185.3,180.32 L185.55,179.92 L185.8,179.52 L186.05,179.15 L186.3,178.78 L186.55,178.44 L186.8,178.11 L187.05,177.8 L187.3,177.51 L187.55,177.24 L187.8,176.99 L188.05,176.76 L188.3,176.55 L188.55,176.36 L188.8,176.2 L189.05,176.05 L189.3,175.93 L189.55,175.84 L189.8,175.76 L190.05,175.71 L190.3,175.68 L190.55,175.68 L190.8,175.7 L191.05,175.74 L191.3,175.81 L191.55,175.9 L191.8,176.02 L192.05,176.15 L192.3,176.32 L192.55,176.5 L192.8,176.71 L193.05,176.95 L193.3,177.2 L193.55,177.49 L193.8,177.79 L194.05,178.12 L194.3,178.47 L194.55,178.84 L194.8,179.24 L195.05,179.65 L195.3,180.09 L195.55,180.55 L195.8,181.02 L196.05,181.51 L196.3,182.02 L196.55,182.55 L196.8,183.1 L197.05,183.66 L197.3,184.23 L197.55,184.82 L197.8,185.42 L198.05,186.04 L198.3,186.66 L198.55,187.3 L198.8,187.95 L199.05,188.6 L199.3,189.27 L199.55,189.94 L199.8,190.62 L200.05,191.3 L200.3,191.99 L200.55,192.68 L200.8,193.37 L201.05,194.07 L201.3,194.77 L201.55,195.47 L201.8,196.17 L202.05,196.87 L202.3,197.57 L202.55,198.26 L202.8,198.95 L203.05,199.64 L203.3,200.33 L203.55,201.01 L203.8,201.68 L204.05,202.35 L204.3,203.01" fill="none" stroke="#ff8c1a" stroke-width="1.4" stroke-dasharray="5,4"/>
<path d="M140.05,198.99 L140.3,199 L140.55,199.01 L140.8,199.02 L141.05,199.03 L141.3,199.04 L141.55,199.04 L141.8,199.05 L142.05,199.05 L142.3,199.05 L142.55,199.05 L142.8,199.05 L143.05,199.04 L143.3,199.04 L143.55,199.03 L143.8,199.02 L144.05,199.01 L144.3,198.99 L144.55,198.97 L144.8,198.95 L145.05,198.93 L145.3,198.9 L145.55,198.87 L145.8,198.83 L146.05,198.8 L146.3,198.75 L146.55,198.7 L146.8,198.65 L147.05,198.59 L147.3,198.53 L147.55,198.46 L147.8,198.38 L148.05,198.29 L148.3,198.2 L148.55,198.09 L148.8,197.98 L149.05,197.86 L149.3,197.73 L149.55,197.58 L149.8,197.42 L150.05,197.26 L150.3,197.07 L150.55,196.88 L150.8,196.67 L151.05,196.44 L151.3,196.2 L151.55,195.94 L151.8,195.66 L152.05,195.36 L152.3,195.04 L152.55,194.71 L152.8,194.35 L153.05,193.97 L153.3,193.57 L153.55,193.14 L153.8,192.69 L154.05,192.21 L154.3,191.71 L154.55,191.18 L154.8,190.62 L155.05,190.03 L155.3,189.41 L155.55,188.77 L155.8,188.09 L156.05,187.38 L156.3,186.63 L156.55,185.85 L156.8,185.04 L157.05,184.19 L157.3,183.31 L157.55,182.39 L157.8,181.44 L158.05,180.44 L158.3,179.41 L158.55,178.34 L158.8,177.23 L159.05,176.09 L159.3,174.9 L159.55,173.67 L159.8,172.41 L160.05,171.11 L160.3,169.76 L160.55,168.38 L160.8,166.96 L161.05,165.5 L161.3,164.01 L161.55,162.48 L161.8,160.91 L162.05,159.31 L162.3,157.67 L162.55,156 L162.8,154.3 L163.05,152.56 L163.3,150.8 L163.55,149.01 L163.8,147.18 L164.05,145.34 L164.3,143.47 L164.55,141.57 L164.8,139.66 L165.05,137.73 L165.3,135.78 L165.55,133.81 L165.8,131.84 L166.05,129.85 L166.3,127.86 L166.55,125.87 L166.8,123.87 L167.05,121.87 L167.3,119.87 L167.55,117.89 L167.8,115.91 L168.05,113.94 L168.3,111.99 L168.55,110.06 L168.8,108.14 L169.05,106.26 L169.3,104.4 L169.55,102.57 L169.8,100.78 L170.05,99.03 L170.3,97.32 L170.55,95.65 L170.8,94.04 L171.05,92.47 L171.3,90.96 L171.55,89.51 L171.8,88.12 L172.05,86.8 L172.3,85.54 L172.55,84.36 L172.8,83.25 L173.05,82.21 L173.3,81.26 L173.55,80.39 L173.8,79.6 L174.05,78.9 L174.3,78.29 L174.55,77.77 L174.8,77.34 L175.05,77.01 L175.3,76.77 L175.55,76.63 L175.8,76.59 L176.05,76.65 L176.3,76.81 L176.55,77.07 L176.8,77.42 L177.05,77.88 L177.3,78.43 L177.55,79.07 L177.8,79.81 L178.05,80.64 L178.3,81.56 L178.55,82.57 L178.8,83.67 L179.05,84.85 L179.3,86.11 L179.55,87.44 L179.8,88.86 L180.05,90.34 L180.3,91.89 L180.55,93.51 L180.8,95.19 L181.05,96.93 L181.3,98.73 L181.55,100.58 L181.8,102.47 L182.05,104.41 L182.3,106.39 L182.55,108.41 L182.8,110.47 L183.05,112.55 L183.3,114.66 L183.55,116.8 L183.8,118.95 L184.05,121.12 L184.3,123.31 L184.55,125.5 L184.8,127.71 L185.05,129.91 L185.3,132.12 L185.55,134.33 L185.8,136.54 L186.05,138.74 L186.3,140.94 L186.55,143.13 L186.8,145.3 L187.05,147.46 L187.3,149.61 L187.55,151.73 L187.8,153.84 L188.05,155.92 L188.3,157.98 L188.55,160.01 L188.8,162.01 L189.05,163.98 L189.3,165.93 L189.55,167.84 L189.8,169.71 L190.05,171.56 L190.3,173.36 L190.55,175.13 L190.8,176.86 L191.05,178.56 L191.3,180.21 L191.55,181.83 L191.8,183.41 L192.05,184.94 L192.3,186.44 L192.55,187.89 L192.8,189.31 L193.05,190.68 L193.3,192.02 L193.55,193.32 L193.8,194.58 L194.05,195.8 L194.3,196.98 L194.55,198.12 L194.8,199.23 L195.05,200.3 L195.3,201.34 L195.55,202.34 L195.8,203.3 L196.05,204.23 L196.3,205.12 L196.55,205.99 L196.8,206.81 L197.05,207.61 L197.3,208.38 L197.55,209.12 L197.8,209.82 L198.05,210.5 L198.3,211.15 L198.55,211.78 L198.8,212.37 L199.05,212.95 L199.3,213.49 L199.55,214.02 L199.8,214.52 L200.05,215 L200.3,215.45 L200.55,215.89 L200.8,216.3 L201.05,216.7 L201.3,217.08 L201.55,217.44 L201.8,217.78 L202.05,218.11 L202.3,218.42 L202.55,218.72 L202.8,219 L203.05,219.27 L203.3,219.53 L203.55,219.77 L203.8,220 L204.05,220.22 L204.3,220.43 L204.55,220.63 L204.8,220.81 L205.05,220.99 L205.3,221.16 L205.55,221.32 L205.8,221.47 L206.05,221.62 L206.3,221.76 L206.55,221.89 L206.8,222.02 L207.05,222.14 L207.3,222.25 L207.55,222.36 L207.8,222.47 L208.05,222.57 L208.3,222.66 L208.55,222.75 L208.8,222.84 L209.05,222.92 L209.3,223 L209.55,223.08 L209.8,223.15 L210.05,223.23 L210.3,223.29 L210.55,223.36 L210.8,223.42 L211.05,223.48 L211.3,223.54 L211.55,223.6 L211.8,223.65" fill="none" stroke="#a01c1c" stroke-width="1.5" stroke-dasharray="6,5"/>
<path d="M23.8,180 L25,178.5 L26,182.5 L27.5,186 L29,188.5 L30,190 L31,186.5 L32,184.5 L33.5,183 L34.5,179 L35.5,181 L36,184 L37,182 L38,183 L39,181 L40,184 L41,182 L42,184 L43,183 L44,185 L45,184 L46,186 L47,185 L48,187 L49,186 L50,188 L51,187 L52,189 L54,188 L56,187 L57,181.5 L58,188 L60,189 L62,187 L64,185 L64,185 L66,183 L68,180 L70,176 L72,175.5 L74,172 L75.5,170.5 L77,174 L78,175 L80,172 L81,168 L82,171 L83,176 L84,173 L85,172 L86,173 L87,175 L88,177 L89,178 L90,181 L93,184 L95,184.5 L96,182 L96.05,184.16 L96.3,184.18 L96.55,184.19 L96.8,184.18 L97.05,184.17 L97.3,184.14 L97.55,183.78 L97.8,183.4 L98.05,182.72 L98.3,181.94 L98.55,181.06 L98.8,180.07 L99.05,179.31 L99.3,178.43 L99.55,177.42 L99.8,176.29 L100.05,175.75 L100.3,175.19 L100.55,174.46 L100.8,173.69 L101.05,172.9 L101.3,172.07 L101.55,171.21 L101.8,170.32 L102.05,169.21 L102.3,168.06 L102.55,166.87 L102.8,165.65 L103.05,164.38 L103.3,163.08 L103.55,162.04 L103.8,160.98 L104.05,159.7 L104.3,158.4 L104.55,157.06 L104.8,155.7 L105.05,154.05 L105.3,152.38 L105.55,150.7 L105.8,149.02 L106.05,146.45 L106.3,143.89 L106.55,141.43 L106.8,138.99 L107.05,136.57 L107.3,134.17 L107.55,131.78 L107.8,129.39 L108.05,128.69 L108.3,127.99 L108.55,127.29 L108.8,126.59 L109.05,125.89 L109.3,125.18 L109.55,124.65 L109.8,124.11 L110.05,123.56 L110.3,123 L110.55,122.45 L110.8,121.89 L111.05,121.15 L111.3,120.4 L111.55,119.66 L111.8,118.91 L112.05,115.19 L112.3,111.45 L112.55,107.86 L112.8,104.34 L113,106 L114.5,100 L115.8,94.5 L116.3,95 L117.2,89 L118,91 L119.3,97.5 L120,101 L121,104 L121.05,91.48 L121.3,91.35 L121.55,91.13 L121.8,90.92 L122.05,92.54 L122.3,94.4 L122.55,96.5 L122.8,98.81 L123.05,101.32 L123.3,104.01 L123.55,106.87 L123.8,109.87 L124.05,113.66 L124.3,117.59 L124.55,121.65 L124.8,125.77 L125.05,129.91 L125.3,134.04 L125.55,138.12 L125.8,142.12 L126.05,143.11 L126.3,144.1 L126.55,145.08 L126.8,146.05 L127.05,147.01 L127.3,147.97 L127.55,148.75 L127.8,149.52 L128.05,150.96 L128.3,152.37 L128.55,153.76 L128.8,155.12 L129.05,156.53 L129.3,157.91 L129.55,159.26 L129.8,160.57 L130,168 L132,172 L133.5,175 L134.5,173 L135.5,176 L137,170 L138,171 L139,168 L140,165 L140.05,173.26 L140.3,171.25 L140.55,168.98 L140.8,166.44 L141.05,163.46 L141.3,160.23 L141.55,156.78 L141.8,153.11 L142.05,151.94 L142.3,150.75 L142.55,149.45 L142.8,148.13 L143.05,146.79 L143.3,145.45 L143.55,144.09 L143.8,142.71 L144.05,139.98 L144.3,137.2 L144.55,134.38 L144.8,131.54 L145.05,128.67 L145.3,125.8 L145.55,122.88 L145.8,119.96 L146.05,118.32 L146.3,116.68 L146.55,115.05 L146.8,113.42 L147.05,111.77 L147.3,110.13 L147.55,108.5 L147.8,106.88 L148.05,103.37 L148.3,99.91 L148.55,96.5 L148.8,93.16 L149.05,89.9 L149.3,86.74 L149.55,83.69 L149.8,80.77 L150.05,79.37 L150.3,78.01 L150.5,84 L152.2,75 L152.3,63 L153.5,62 L155,61.5 L156,58.5 L156.5,61 L157,63 L158,68 L158.05,65.82 L158.3,67.64 L158.55,69.79 L158.8,72.19 L159.05,74.82 L159.3,77.56 L159.55,80.34 L159.8,83.07 L160.05,84.09 L160.3,85.09 L160.55,85.95 L160.8,86.79 L161.05,87.6 L161.3,88.38 L161.55,89.13 L161.8,89.85 L162.05,89.96 L162.3,90.06 L162.55,90.16 L162.8,90.24 L163,91 L165,91.5 L166.5,90 L168,84 L169.5,76 L170,71 L171,72.5 L172.5,66 L174,60 L175.2,57 L175.8,46 L176.2,42.5 L176.7,50 L177.2,57.5 L178,60.5 L179,59 L180,63.5 L181,64 L182,70 L183,74 L183.05,74.85 L183.3,77.84 L183.55,80.93 L183.8,84.11 L184.05,85.79 L184.3,87.49 L184.55,89.02 L184.8,90.57 L185.05,92.13 L185.3,93.71 L185.55,95.29 L185.8,96.88 L186.05,98.07 L186.3,99.26 L186.55,100.45 L186.8,101.64 L187.05,102.84 L187.3,104.04 L187.55,105.47 L187.8,106.9 L188.05,109.24 L188.3,111.57 L188.55,113.9 L188.8,116.21 L189.05,118.3 L189.3,120.37 L189.55,122.42 L189.8,124.46 L190.05,126.19 L190.3,127.9 L190.55,129.68 L190.8,131.45 L191.05,133.2 L191.3,134.94 L191.55,136.67 L191.8,138.38 L192.05,140.52 L192.3,142.62 L192.55,144.7 L192.8,146.75 L193.05,148.77 L193.3,150.76 L193.55,152.86 L193.8,154.93 L194.05,155.68 L194.3,156.42 L194.55,157.16 L194.8,157.9 L195.05,158.58 L195.3,159.25 L195.55,159.92 L195.8,160.59 L196,163 L197,166 L199,174 L201,181 L203,189 L204,189 L205,191 L206,195 L207.5,200 L209,205 L210,208 L211,210 L212,207 L213,210 L214,207.5 L215,211 L216,210 L217,209 L218,213 L219,216 L220,219 L221,218 L222,220 L223,218 L224,221 L225,219 L226,221 L227,221 L228,219 L229,222 L230,223 L231,218 L232,224 L233,226 L234,221 L235,226 L236,222 L237,226 L238,225 L239,222.5 L240,226 L241,225 L243,226 L244,227 L246.3,227" fill="none" stroke="#151515" stroke-width="1.05" stroke-linejoin="round"/>
<path d="M23.8,182.29 L24.05,182.35 L24.3,182.42 L24.55,182.48 L24.8,182.54 L25.05,182.6 L25.3,182.67 L25.55,182.73 L25.8,182.79 L26.05,182.85 L26.3,182.91 L26.55,182.98 L26.8,183.04 L27.05,183.1 L27.3,183.16 L27.55,183.22 L27.8,183.28 L28.05,183.35 L28.3,183.41 L28.55,183.47 L28.8,183.53 L29.05,183.59 L29.3,183.65 L29.55,183.71 L29.8,183.78 L30.05,183.84 L30.3,183.9 L30.55,183.96 L30.8,184.02 L31.05,184.08 L31.3,184.14 L31.55,184.2 L31.8,184.26 L32.05,184.32 L32.3,184.38 L32.55,184.44 L32.8,184.5 L33.05,184.56 L33.3,184.62 L33.55,184.68 L33.8,184.74 L34.05,184.8 L34.3,184.86 L34.55,184.92 L34.8,184.98 L35.05,185.04 L35.3,185.1 L35.55,185.16 L35.8,185.22 L36.05,185.28 L36.3,185.34 L36.55,185.4 L36.8,185.46 L37.05,185.52 L37.3,185.58 L37.55,185.64 L37.8,185.7 L38.05,185.76 L38.3,185.82 L38.55,185.87 L38.8,185.93 L39.05,185.99 L39.3,186.05 L39.55,186.11 L39.8,186.17 L40.05,186.23 L40.3,186.28 L40.55,186.34 L40.8,186.41 L41.05,186.47 L41.3,186.53 L41.55,186.59 L41.8,186.66 L42.05,186.72 L42.3,186.78 L42.55,186.85 L42.8,186.91 L43.05,186.98 L43.3,187.05 L43.55,187.11 L43.8,187.18 L44.05,187.25 L44.3,187.31 L44.55,187.38 L44.8,187.45 L45.05,187.51 L45.3,187.58 L45.55,187.65 L45.8,187.71 L46.05,187.78 L46.3,187.84 L46.55,187.91 L46.8,187.97 L47.05,188.03 L47.3,188.09 L47.55,188.16 L47.8,188.22 L48.05,188.28 L48.3,188.33 L48.55,188.39 L48.8,188.45 L49.05,188.5 L49.3,188.56 L49.55,188.61 L49.8,188.66 L50.05,188.71 L50.3,188.75 L50.55,188.8 L50.8,188.84 L51.05,188.88 L51.3,188.92 L51.55,188.96 L51.8,188.99 L52.05,189.03 L52.3,189.05 L52.55,189.08 L52.8,189.1 L53.05,189.12 L53.3,189.14 L53.55,189.16 L53.8,189.17 L54.05,189.17 L54.3,189.18 L54.55,189.18 L54.8,189.17 L55.05,189.16 L55.3,189.15 L55.55,189.14 L55.8,189.12 L56.05,189.1 L56.3,189.07 L56.55,189.05 L56.8,189.02 L57.05,188.98 L57.3,188.94 L57.55,188.9 L57.8,188.86 L58.05,188.81 L58.3,188.76 L58.55,188.7 L58.8,188.64 L59.05,188.57 L59.3,188.5 L59.55,188.42 L59.8,188.34 L60.05,188.26 L60.3,188.17 L60.55,188.07 L60.8,187.97 L61.05,187.86 L61.3,187.75 L61.55,187.63 L61.8,187.51 L62.05,187.38 L62.3,187.24 L62.55,187.1 L62.8,186.95 L63.05,186.79 L63.3,186.63 L63.55,186.46 L63.8,186.29 L64.05,186.11 L64.3,185.92 L64.55,185.73 L64.8,185.53 L65.05,185.33 L65.3,185.12 L65.55,184.9 L65.8,184.68 L66.05,184.45 L66.3,184.21 L66.55,183.97 L66.8,183.73 L67.05,183.48 L67.3,183.22 L67.55,182.96 L67.8,182.7 L68.05,182.43 L68.3,182.15 L68.55,181.88 L68.8,181.6 L69.05,181.32 L69.3,181.03 L69.55,180.75 L69.8,180.46 L70.05,180.17 L70.3,179.88 L70.55,179.59 L70.8,179.3 L71.05,179.01 L71.3,178.72 L71.55,178.44 L71.8,178.15 L72.05,177.87 L72.3,177.59 L72.55,177.31 L72.8,177.04 L73.05,176.78 L73.3,176.52 L73.55,176.26 L73.8,176.01 L74.05,175.77 L74.3,175.53 L74.55,175.31 L74.8,175.09 L75.05,174.88 L75.3,174.68 L75.55,174.49 L75.8,174.31 L76.05,174.14 L76.3,173.98 L76.55,173.83 L76.8,173.69 L77.05,173.57 L77.3,173.46 L77.55,173.36 L77.8,173.27 L78.05,173.19 L78.3,173.13 L78.55,173.09 L78.8,173.05 L79.05,173.03 L79.3,173.02 L79.55,173.03 L79.8,173.05 L80.05,173.08 L80.3,173.13 L80.55,173.19 L80.8,173.26 L81.05,173.35 L81.3,173.44 L81.55,173.55 L81.8,173.68 L82.05,173.81 L82.3,173.95 L82.55,174.11 L82.8,174.28 L83.05,174.45 L83.3,174.64 L83.55,174.83 L83.8,175.04 L84.05,175.25 L84.3,175.47 L84.55,175.7 L84.8,175.94 L85.05,176.18 L85.3,176.42 L85.55,176.68 L85.8,176.94 L86.05,177.2 L86.3,177.46 L86.55,177.73 L86.8,178 L87.05,178.27 L87.3,178.55 L87.55,178.82 L87.8,179.1 L88.05,179.37 L88.3,179.64 L88.55,179.91 L88.8,180.18 L89.05,180.44 L89.3,180.71 L89.55,180.96 L89.8,181.22 L90.05,181.46 L90.3,181.7 L90.55,181.94 L90.8,182.16 L91.05,182.38 L91.3,182.59 L91.55,182.79 L91.8,182.98 L92.05,183.16 L92.3,183.33 L92.55,183.48 L92.8,183.63 L93.05,183.75 L93.3,183.87 L93.55,183.97 L93.8,184.05 L94.05,184.11 L94.3,184.16 L94.55,184.18 L94.8,184.19 L95.05,184.17 L95.3,184.14 L95.55,184.07 L95.8,183.99 L96.05,183.87 L96.3,183.73 L96.55,183.56 L96.8,183.37 L97.05,183.13 L97.3,182.87 L97.55,182.57 L97.8,182.24 L98.05,181.87 L98.3,181.47 L98.55,181.02 L98.8,180.53 L99.05,180 L99.3,179.43 L99.55,178.81 L99.8,178.15 L100.05,177.44 L100.3,176.68 L100.55,175.87 L100.8,175.02 L101.05,174.11 L101.3,173.15 L101.55,172.14 L101.8,171.08 L102.05,169.97 L102.3,168.81 L102.55,167.6 L102.8,166.34 L103.05,165.04 L103.3,163.69 L103.55,162.3 L103.8,160.87 L104.05,159.41 L104.3,157.91 L104.55,156.39 L104.8,154.85 L105.05,153.29 L105.3,151.71 L105.55,150.13 L105.8,148.54 L106.05,146.95 L106.3,145.37 L106.55,143.79 L106.8,142.23 L107.05,140.67 L107.3,139.12 L107.55,137.58 L107.8,136.05 L108.05,134.53 L108.3,133.01 L108.55,131.49 L108.8,129.98 L109.05,128.46 L109.3,126.93 L109.55,125.4 L109.8,123.86 L110.05,122.31 L110.3,120.75 L110.55,119.19 L110.8,117.61 L111.05,116.03 L111.3,114.45 L111.55,112.86 L111.8,111.28 L112.05,109.71 L112.3,108.14 L112.55,106.59 L112.8,105.06 L113.05,103.55 L113.3,102.07 L113.55,100.63 L113.8,99.23 L114.05,97.87 L114.3,96.57 L114.55,95.32 L114.8,94.13 L115.05,93.02 L115.3,91.98 L115.55,91.01 L115.8,90.13 L116.05,89.34 L116.3,88.64 L116.55,88.04 L116.8,87.53 L117.05,87.14 L117.3,86.84 L117.55,86.66 L117.8,86.58 L118.05,86.62 L118.3,86.78 L118.55,87.04 L118.8,87.42 L119.05,87.92 L119.3,88.53 L119.55,89.25 L119.8,90.08 L120.05,91.02 L120.3,92.07 L120.55,93.22 L120.8,94.47 L121.05,95.81 L121.3,97.25 L121.55,98.78 L121.8,100.39 L122.05,102.08 L122.3,103.84 L122.55,105.67 L122.8,107.56 L123.05,109.51 L123.3,111.51 L123.55,113.56 L123.8,115.64 L124.05,117.76 L124.3,119.91 L124.55,122.08 L124.8,124.27 L125.05,126.47 L125.3,128.67 L125.55,130.87 L125.8,133.07 L126.05,135.26 L126.3,137.43 L126.55,139.58 L126.8,141.71 L127.05,143.81 L127.3,145.88 L127.55,147.91 L127.8,149.89 L128.05,151.84 L128.3,153.74 L128.55,155.58 L128.8,157.38 L129.05,159.12 L129.3,160.8 L129.55,162.43 L129.8,163.99 L130.05,165.49 L130.3,166.93 L130.55,168.3 L130.8,169.6 L131.05,170.84 L131.3,172.01 L131.55,173.11 L131.8,174.14 L132.05,175.1 L132.3,176 L132.55,176.82 L132.8,177.57 L133.05,178.25 L133.3,178.86 L133.55,179.39 L133.8,179.86 L134.05,180.26 L134.3,180.58 L134.55,180.83 L134.8,181.02 L135.05,181.13 L135.3,181.16 L135.55,181.13 L135.8,181.03 L136.05,180.85 L136.3,180.6 L136.55,180.28 L136.8,179.89 L137.05,179.43 L137.3,178.89 L137.55,178.29 L137.8,177.61 L138.05,176.85 L138.3,176.03 L138.55,175.14 L138.8,174.17 L139.05,173.13 L139.3,172.02 L139.55,170.84 L139.8,169.59 L140.05,168.27 L140.3,166.88 L140.55,165.42 L140.8,163.9 L141.05,162.31 L141.3,160.66 L141.55,158.95 L141.8,157.18 L142.05,155.35 L142.3,153.47 L142.55,151.54 L142.8,149.55 L143.05,147.53 L143.3,145.46 L143.55,143.36 L143.8,141.22 L144.05,139.06 L144.3,136.87 L144.55,134.66 L144.8,132.43 L145.05,130.19 L145.3,127.94 L145.55,125.68 L145.8,123.42 L146.05,121.16 L146.3,118.89 L146.55,116.64 L146.8,114.38 L147.05,112.14 L147.3,109.9 L147.55,107.67 L147.8,105.45 L148.05,103.25 L148.3,101.07 L148.55,98.9 L148.8,96.75 L149.05,94.63 L149.3,92.54 L149.55,90.48 L149.8,88.45 L150.05,86.47 L150.3,84.53 L150.55,82.64 L150.8,80.8 L151.05,79.03 L151.3,77.32 L151.55,75.68 L151.8,74.11 L152.05,72.63 L152.3,71.23 L152.55,69.92 L152.8,68.71 L153.05,67.6 L153.3,66.59 L153.55,65.68 L153.8,64.89 L154.05,64.2 L154.3,63.63 L154.55,63.17 L154.8,62.83 L155.05,62.6 L155.3,62.49 L155.55,62.49 L155.8,62.6 L156.05,62.83 L156.3,63.16 L156.55,63.59 L156.8,64.13 L157.05,64.76 L157.3,65.48 L157.55,66.29 L157.8,67.18 L158.05,68.13 L158.3,69.16 L158.55,70.24 L158.8,71.37 L159.05,72.55 L159.3,73.77 L159.55,75.01 L159.8,76.27 L160.05,77.54 L160.3,78.82 L160.55,80.09 L160.8,81.35 L161.05,82.59 L161.3,83.81 L161.55,84.99 L161.8,86.13 L162.05,87.22 L162.3,88.26 L162.55,89.24 L162.8,90.15 L163.05,91 L163.3,91.77 L163.55,92.46 L163.8,93.07 L164.05,93.59 L164.3,94.03 L164.55,94.37 L164.8,94.63 L165.05,94.79 L165.3,94.86 L165.55,94.83 L165.8,94.72 L166.05,94.51 L166.3,94.21 L166.55,93.83 L166.8,93.36 L167.05,92.8 L167.3,92.17 L167.55,91.46 L167.8,90.67 L168.05,89.82 L168.3,88.9 L168.55,87.92 L168.8,86.89 L169.05,85.8 L169.3,84.67 L169.55,83.5 L169.8,82.3 L170.05,81.06 L170.3,79.81 L170.55,78.53 L170.8,77.25 L171.05,75.95 L171.3,74.66 L171.55,73.37 L171.8,72.09 L172.05,70.83 L172.3,69.59 L172.55,68.38 L172.8,67.2 L173.05,66.05 L173.3,64.95 L173.55,63.9 L173.8,62.89 L174.05,61.94 L174.3,61.05 L174.55,60.23 L174.8,59.47 L175.05,58.78 L175.3,58.16 L175.55,57.62 L175.8,57.17 L176.05,56.79 L176.3,56.49 L176.55,56.28 L176.8,56.15 L177.05,56.11 L177.3,56.15 L177.55,56.27 L177.8,56.48 L178.05,56.77 L178.3,57.14 L178.55,57.6 L178.8,58.13 L179.05,58.75 L179.3,59.43 L179.55,60.19 L179.8,61.03 L180.05,61.93 L180.3,62.9 L180.55,63.93 L180.8,65.02 L181.05,66.17 L181.3,67.38 L181.55,68.64 L181.8,69.95 L182.05,71.31 L182.3,72.71 L182.55,74.15 L182.8,75.64 L183.05,77.15 L183.3,78.7 L183.55,80.28 L183.8,81.89 L184.05,83.52 L184.3,85.17 L184.55,86.85 L184.8,88.54 L185.05,90.24 L185.3,91.96 L185.55,93.7 L185.8,95.44 L186.05,97.2 L186.3,98.96 L186.55,100.73 L186.8,102.51 L187.05,104.29 L187.3,106.07 L187.55,107.85 L187.8,109.62 L188.05,111.4 L188.3,113.17 L188.55,114.94 L188.8,116.7 L189.05,118.45 L189.3,120.19 L189.55,121.93 L189.8,123.66 L190.05,125.37 L190.3,127.08 L190.55,128.77 L190.8,130.45 L191.05,132.11 L191.3,133.77 L191.55,135.41 L191.8,137.03 L192.05,138.64 L192.3,140.24 L192.55,141.82 L192.8,143.38 L193.05,144.93 L193.3,146.46 L193.55,147.98 L193.8,149.49 L194.05,150.98 L194.3,152.45 L194.55,153.91 L194.8,155.35 L195.05,156.78 L195.3,158.2 L195.55,159.59 L195.8,160.98 L196.05,162.34 L196.3,163.69 L196.55,165.03 L196.8,166.35 L197.05,167.66 L197.3,168.94 L197.55,170.22 L197.8,171.48 L198.05,172.72 L198.3,173.94 L198.55,175.15 L198.8,176.35 L199.05,177.53 L199.3,178.69 L199.55,179.84 L199.8,180.97 L200.05,182.09 L200.3,183.19 L200.55,184.27 L200.8,185.34 L201.05,186.39 L201.3,187.43 L201.55,188.45 L201.8,189.45 L202.05,190.44 L202.3,191.41 L202.55,192.36 L202.8,193.3 L203.05,194.22 L203.3,195.13 L203.55,196.01 L203.8,196.89 L204.05,197.74 L204.3,198.58 L204.55,199.4 L204.8,200.2 L205.05,200.99 L205.3,201.76 L205.55,202.52 L205.8,203.26 L206.05,203.98 L206.3,204.69 L206.55,205.38 L206.8,206.05 L207.05,206.71 L207.3,207.35 L207.55,207.98 L207.8,208.59 L208.05,209.18 L208.3,209.76 L208.55,210.33 L208.8,210.88 L209.05,211.41 L209.3,211.93 L209.55,212.44 L209.8,212.93 L210.05,213.41 L210.3,213.87 L210.55,214.32 L210.8,214.75 L211.05,215.17 L211.3,215.58 L211.55,215.98 L211.8,216.36 L212.05,216.73 L212.3,217.09 L212.55,217.43 L212.8,217.76 L213.05,218.09 L213.3,218.4 L213.55,218.69 L213.8,218.98 L214.05,219.26 L214.3,219.53 L214.55,219.78 L214.8,220.03 L215.05,220.27 L215.3,220.5 L215.55,220.72 L215.8,220.93 L216.05,221.13 L216.3,221.32 L216.55,221.51 L216.8,221.69 L217.05,221.86 L217.3,222.02 L217.55,222.18 L217.8,222.33 L218.05,222.47 L218.3,222.61 L218.55,222.74 L218.8,222.87 L219.05,222.99 L219.3,223.11 L219.55,223.22 L219.8,223.32 L220.05,223.42 L220.3,223.52 L220.55,223.61 L220.8,223.7 L221.05,223.79 L221.3,223.87 L221.55,223.95 L221.8,224.02 L222.05,224.09 L222.3,224.16 L222.55,224.23 L222.8,224.29 L223.05,224.35 L223.3,224.41 L223.55,224.47 L223.8,224.52 L224.05,224.57 L224.3,224.62 L224.55,224.67 L224.8,224.71 L225.05,224.76 L225.3,224.8 L225.55,224.84 L225.8,224.88 L226.05,224.91 L226.3,224.95 L226.55,224.99 L226.8,225.02 L227.05,225.05 L227.3,225.08 L227.55,225.11 L227.8,225.14 L228.05,225.17 L228.3,225.2 L228.55,225.23 L228.8,225.25 L229.05,225.28 L229.3,225.3 L229.55,225.33 L229.8,225.35 L230.05,225.37 L230.3,225.4 L230.55,225.42 L230.8,225.44 L231.05,225.46 L231.3,225.48 L231.55,225.5 L231.8,225.52 L232.05,225.54 L232.3,225.55 L232.55,225.57 L232.8,225.59 L233.05,225.61 L233.3,225.62 L233.55,225.64 L233.8,225.66 L234.05,225.67 L234.3,225.69 L234.55,225.7 L234.8,225.72 L235.05,225.73 L235.3,225.75 L235.55,225.76 L235.8,225.78 L236.05,225.79 L236.3,225.8 L236.55,225.82 L236.8,225.83 L237.05,225.84 L237.3,225.85 L237.55,225.87 L237.8,225.88 L238.05,225.89 L238.3,225.9 L238.55,225.91 L238.8,225.92 L239.05,225.93 L239.3,225.94 L239.55,225.95 L239.8,225.96 L240.05,225.97 L240.3,225.98 L240.55,225.99 L240.8,226 L241.05,226.01 L241.3,226.02 L241.55,226.03 L241.8,226.04 L242.05,226.04 L242.3,226.05 L242.55,226.06 L242.8,226.07 L243.05,226.07 L243.3,226.08 L243.55,226.09 L243.8,226.09 L244.05,226.1 L244.3,226.1 L244.55,226.11 L244.8,226.12 L245.05,226.12 L245.3,226.13 L245.55,226.13 L245.8,226.13 L246.05,226.14 L246.3,226.14" fill="none" stroke="#f01010" stroke-width="1.4"/>
</g>
<clipPath id="cr"><rect x="303.5" y="6.2" width="231.5" height="224.4"/></clipPath>
<g clip-path="url(#cr)">
<path d="M312.5,214.75 L312.75,214.74 L313,214.72 L313.25,214.71 L313.5,214.69 L313.75,214.67 L314,214.65 L314.25,214.64 L314.5,214.62 L314.75,214.6 L315,214.58 L315.25,214.55 L315.5,214.53 L315.75,214.51 L316,214.48 L316.25,214.46 L316.5,214.43 L316.75,214.41 L317,214.38 L317.25,214.35 L317.5,214.32 L317.75,214.29 L318,214.26 L318.25,214.23 L318.5,214.2 L318.75,214.16 L319,214.13 L319.25,214.1 L319.5,214.06 L319.75,214.02 L320,213.99 L320.25,213.95 L320.5,213.91 L320.75,213.87 L321,213.83 L321.25,213.79 L321.5,213.74 L321.75,213.7 L322,213.66 L322.25,213.61 L322.5,213.57 L322.75,213.52 L323,213.48 L323.25,213.43 L323.5,213.38 L323.75,213.34 L324,213.29 L324.25,213.24 L324.5,213.19 L324.75,213.14 L325,213.09 L325.25,213.04 L325.5,212.99 L325.75,212.94 L326,212.89 L326.25,212.84 L326.5,212.79 L326.75,212.74 L327,212.69 L327.25,212.64 L327.5,212.6 L327.75,212.55 L328,212.5 L328.25,212.45 L328.5,212.4 L328.75,212.36 L329,212.31 L329.25,212.26 L329.5,212.22 L329.75,212.18 L330,212.13 L330.25,212.09 L330.5,212.05 L330.75,212.01 L331,211.97 L331.25,211.93 L331.5,211.89 L331.75,211.86 L332,211.82 L332.25,211.79 L332.5,211.76 L332.75,211.73 L333,211.7 L333.25,211.68 L333.5,211.65 L333.75,211.63 L334,211.6 L334.25,211.58 L334.5,211.57 L334.75,211.55 L335,211.53 L335.25,211.52 L335.5,211.51 L335.75,211.5 L336,211.49 L336.25,211.49 L336.5,211.48 L336.75,211.48 L337,211.48 L337.25,211.48 L337.5,211.49 L337.75,211.49 L338,211.5 L338.25,211.51 L338.5,211.52 L338.75,211.54 L339,211.55 L339.25,211.57 L339.5,211.59 L339.75,211.61 L340,211.63 L340.25,211.65 L340.5,211.68 L340.75,211.71 L341,211.74 L341.25,211.77 L341.5,211.8 L341.75,211.83 L342,211.87 L342.25,211.91 L342.5,211.94 L342.75,211.98 L343,212.02 L343.25,212.06 L343.5,212.11 L343.75,212.15 L344,212.2 L344.25,212.24 L344.5,212.29 L344.75,212.33 L345,212.38 L345.25,212.43 L345.5,212.48 L345.75,212.53 L346,212.58 L346.25,212.63 L346.5,212.68 L346.75,212.74 L347,212.79 L347.25,212.84 L347.5,212.89 L347.75,212.95 L348,213 L348.25,213.05 L348.5,213.1 L348.75,213.16 L349,213.21 L349.25,213.26 L349.5,213.31 L349.75,213.36 L350,213.42 L350.25,213.47 L350.5,213.52 L350.75,213.57 L351,213.62 L351.25,213.67 L351.5,213.71 L351.75,213.76 L352,213.81 L352.25,213.86 L352.5,213.9 L352.75,213.95 L353,213.99 L353.25,214.04 L353.5,214.08 L353.75,214.12 L354,214.16 L354.25,214.2 L354.5,214.24 L354.75,214.28 L355,214.32 L355.25,214.36 L355.5,214.39 L355.75,214.43 L356,214.46 L356.25,214.5 L356.5,214.53 L356.75,214.56 L357,214.59 L357.25,214.63 L357.5,214.65 L357.75,214.68 L358,214.71 L358.25,214.74 L358.5,214.76 L358.75,214.79 L359,214.81 L359.25,214.84 L359.5,214.86 L359.75,214.88 L360,214.9 L360.25,214.92 L360.5,214.94 L360.75,214.96 L361,214.98 L361.25,215 L361.5,215.02 L361.5,215.33 L361.25,215.33 L361,215.33 L360.75,215.33 L360.5,215.33 L360.25,215.33 L360,215.33 L359.75,215.33 L359.5,215.32 L359.25,215.32 L359,215.32 L358.75,215.32 L358.5,215.32 L358.25,215.32 L358,215.32 L357.75,215.32 L357.5,215.32 L357.25,215.32 L357,215.31 L356.75,215.31 L356.5,215.31 L356.25,215.31 L356,215.31 L355.75,215.31 L355.5,215.31 L355.25,215.31 L355,215.3 L354.75,215.3 L354.5,215.3 L354.25,215.3 L354,215.3 L353.75,215.3 L353.5,215.3 L353.25,215.3 L353,215.29 L352.75,215.29 L352.5,215.29 L352.25,215.29 L352,215.29 L351.75,215.29 L351.5,215.29 L351.25,215.29 L351,215.28 L350.75,215.28 L350.5,215.28 L350.25,215.28 L350,215.28 L349.75,215.28 L349.5,215.28 L349.25,215.28 L349,215.27 L348.75,215.27 L348.5,215.27 L348.25,215.27 L348,215.27 L347.75,215.27 L347.5,215.27 L347.25,215.27 L347,215.26 L346.75,215.26 L346.5,215.26 L346.25,215.26 L346,215.26 L345.75,215.26 L345.5,215.26 L345.25,215.25 L345,215.25 L344.75,215.25 L344.5,215.25 L344.25,215.25 L344,215.25 L343.75,215.25 L343.5,215.25 L343.25,215.24 L343,215.24 L342.75,215.24 L342.5,215.24 L342.25,215.24 L342,215.24 L341.75,215.24 L341.5,215.23 L341.25,215.23 L341,215.23 L340.75,215.23 L340.5,215.23 L340.25,215.23 L340,215.23 L339.75,215.22 L339.5,215.22 L339.25,215.22 L339,215.22 L338.75,215.22 L338.5,215.22 L338.25,215.22 L338,215.21 L337.75,215.21 L337.5,215.21 L337.25,215.21 L337,215.21 L336.75,215.21 L336.5,215.21 L336.25,215.2 L336,215.2 L335.75,215.2 L335.5,215.2 L335.25,215.2 L335,215.2 L334.75,215.2 L334.5,215.19 L334.25,215.19 L334,215.19 L333.75,215.19 L333.5,215.19 L333.25,215.19 L333,215.19 L332.75,215.18 L332.5,215.18 L332.25,215.18 L332,215.18 L331.75,215.18 L331.5,215.18 L331.25,215.18 L331,215.17 L330.75,215.17 L330.5,215.17 L330.25,215.17 L330,215.17 L329.75,215.17 L329.5,215.17 L329.25,215.16 L329,215.16 L328.75,215.16 L328.5,215.16 L328.25,215.16 L328,215.16 L327.75,215.16 L327.5,215.15 L327.25,215.15 L327,215.15 L326.75,215.15 L326.5,215.15 L326.25,215.15 L326,215.14 L325.75,215.14 L325.5,215.14 L325.25,215.14 L325,215.14 L324.75,215.14 L324.5,215.14 L324.25,215.13 L324,215.13 L323.75,215.13 L323.5,215.13 L323.25,215.13 L323,215.13 L322.75,215.12 L322.5,215.12 L322.25,215.12 L322,215.12 L321.75,215.12 L321.5,215.12 L321.25,215.12 L321,215.11 L320.75,215.11 L320.5,215.11 L320.25,215.11 L320,215.11 L319.75,215.11 L319.5,215.1 L319.25,215.1 L319,215.1 L318.75,215.1 L318.5,215.1 L318.25,215.1 L318,215.1 L317.75,215.09 L317.5,215.09 L317.25,215.09 L317,215.09 L316.75,215.09 L316.5,215.09 L316.25,215.08 L316,215.08 L315.75,215.08 L315.5,215.08 L315.25,215.08 L315,215.08 L314.75,215.07 L314.5,215.07 L314.25,215.07 L314,215.07 L313.75,215.07 L313.5,215.07 L313.25,215.06 L313,215.06 L312.75,215.06 L312.5,215.06Z" fill="#1a9a48" fill-opacity="0.75"/>
<path d="M328.5,214.84 L328.75,214.83 L329,214.81 L329.25,214.79 L329.5,214.77 L329.75,214.75 L330,214.73 L330.25,214.7 L330.5,214.68 L330.75,214.66 L331,214.63 L331.25,214.6 L331.5,214.57 L331.75,214.54 L332,214.51 L332.25,214.48 L332.5,214.45 L332.75,214.41 L333,214.37 L333.25,214.34 L333.5,214.3 L333.75,214.25 L334,214.21 L334.25,214.17 L334.5,214.12 L334.75,214.07 L335,214.03 L335.25,213.97 L335.5,213.92 L335.75,213.87 L336,213.81 L336.25,213.75 L336.5,213.69 L336.75,213.63 L337,213.57 L337.25,213.51 L337.5,213.44 L337.75,213.37 L338,213.3 L338.25,213.23 L338.5,213.15 L338.75,213.08 L339,213 L339.25,212.92 L339.5,212.84 L339.75,212.76 L340,212.68 L340.25,212.59 L340.5,212.5 L340.75,212.41 L341,212.32 L341.25,212.23 L341.5,212.14 L341.75,212.04 L342,211.95 L342.25,211.85 L342.5,211.75 L342.75,211.65 L343,211.55 L343.25,211.45 L343.5,211.35 L343.75,211.24 L344,211.14 L344.25,211.03 L344.5,210.93 L344.75,210.82 L345,210.72 L345.25,210.61 L345.5,210.5 L345.75,210.4 L346,210.29 L346.25,210.18 L346.5,210.08 L346.75,209.97 L347,209.86 L347.25,209.76 L347.5,209.65 L347.75,209.55 L348,209.45 L348.25,209.35 L348.5,209.25 L348.75,209.15 L349,209.05 L349.25,208.95 L349.5,208.86 L349.75,208.77 L350,208.68 L350.25,208.59 L350.5,208.5 L350.75,208.42 L351,208.33 L351.25,208.26 L351.5,208.18 L351.75,208.11 L352,208.03 L352.25,207.97 L352.5,207.9 L352.75,207.84 L353,207.78 L353.25,207.73 L353.5,207.67 L353.75,207.63 L354,207.58 L354.25,207.54 L354.5,207.5 L354.75,207.47 L355,207.44 L355.25,207.41 L355.5,207.39 L355.75,207.37 L356,207.36 L356.25,207.35 L356.5,207.34 L356.75,207.34 L357,207.34 L357.25,207.34 L357.5,207.35 L357.75,207.37 L358,207.38 L358.25,207.4 L358.5,207.43 L358.75,207.46 L359,207.49 L359.25,207.53 L359.5,207.57 L359.75,207.61 L360,207.66 L360.25,207.71 L360.5,207.76 L360.75,207.82 L361,207.88 L361.25,207.95 L361.5,208.02 L361.75,208.09 L362,208.16 L362.25,208.24 L362.5,208.31 L362.75,208.4 L363,208.48 L363.25,208.57 L363.5,208.66 L363.75,208.75 L364,208.84 L364.25,208.93 L364.5,209.03 L364.75,209.13 L365,209.23 L365.25,209.33 L365.5,209.43 L365.75,209.54 L366,209.64 L366.25,209.75 L366.5,209.86 L366.75,209.96 L367,210.07 L367.25,210.18 L367.5,210.29 L367.75,210.4 L368,210.51 L368.25,210.61 L368.5,210.72 L368.75,210.83 L369,210.94 L369.25,211.05 L369.5,211.16 L369.75,211.26 L370,211.37 L370.25,211.48 L370.5,211.58 L370.75,211.68 L371,211.79 L371.25,211.89 L371.5,211.99 L371.75,212.09 L372,212.19 L372.25,212.28 L372.5,212.38 L372.75,212.47 L373,212.56 L373.25,212.66 L373.5,212.74 L373.75,212.83 L374,212.92 L374.25,213 L374.5,213.08 L374.75,213.17 L375,213.25 L375.25,213.32 L375.5,213.4 L375.75,213.47 L376,213.54 L376.25,213.61 L376.5,213.68 L376.75,213.75 L377,213.81 L377.25,213.88 L377.5,213.94 L377.75,214 L378,214.06 L378.25,214.11 L378.5,214.17 L378.75,214.22 L379,214.27 L379.25,214.32 L379.5,214.37 L379.75,214.42 L380,214.46 L380.25,214.5 L380.5,214.55 L380.75,214.59 L381,214.63 L381.25,214.66 L381.5,214.7 L381.75,214.73 L382,214.77 L382.25,214.8 L382.5,214.83 L382.75,214.86 L383,214.89 L383.25,214.92 L383.5,214.94 L383.75,214.97 L384,214.99 L384.25,215.01 L384.5,215.04 L384.75,215.06 L385,215.08 L385.25,215.1 L385.25,215.41 L385,215.41 L384.75,215.41 L384.5,215.41 L384.25,215.41 L384,215.41 L383.75,215.41 L383.5,215.4 L383.25,215.4 L383,215.4 L382.75,215.4 L382.5,215.4 L382.25,215.4 L382,215.4 L381.75,215.4 L381.5,215.4 L381.25,215.4 L381,215.4 L380.75,215.39 L380.5,215.39 L380.25,215.39 L380,215.39 L379.75,215.39 L379.5,215.39 L379.25,215.39 L379,215.39 L378.75,215.39 L378.5,215.39 L378.25,215.39 L378,215.39 L377.75,215.38 L377.5,215.38 L377.25,215.38 L377,215.38 L376.75,215.38 L376.5,215.38 L376.25,215.38 L376,215.38 L375.75,215.38 L375.5,215.38 L375.25,215.38 L375,215.38 L374.75,215.37 L374.5,215.37 L374.25,215.37 L374,215.37 L373.75,215.37 L373.5,215.37 L373.25,215.37 L373,215.37 L372.75,215.37 L372.5,215.37 L372.25,215.37 L372,215.37 L371.75,215.37 L371.5,215.36 L371.25,215.36 L371,215.36 L370.75,215.36 L370.5,215.36 L370.25,215.36 L370,215.36 L369.75,215.36 L369.5,215.36 L369.25,215.36 L369,215.36 L368.75,215.36 L368.5,215.36 L368.25,215.35 L368,215.35 L367.75,215.35 L367.5,215.35 L367.25,215.35 L367,215.35 L366.75,215.35 L366.5,215.35 L366.25,215.35 L366,215.35 L365.75,215.35 L365.5,215.35 L365.25,215.35 L365,215.34 L364.75,215.34 L364.5,215.34 L364.25,215.34 L364,215.34 L363.75,215.34 L363.5,215.34 L363.25,215.34 L363,215.34 L362.75,215.34 L362.5,215.34 L362.25,215.33 L362,215.33 L361.75,215.33 L361.5,215.33 L361.25,215.33 L361,215.33 L360.75,215.33 L360.5,215.33 L360.25,215.33 L360,215.33 L359.75,215.33 L359.5,215.32 L359.25,215.32 L359,215.32 L358.75,215.32 L358.5,215.32 L358.25,215.32 L358,215.32 L357.75,215.32 L357.5,215.32 L357.25,215.32 L357,215.31 L356.75,215.31 L356.5,215.31 L356.25,215.31 L356,215.31 L355.75,215.31 L355.5,215.31 L355.25,215.31 L355,215.3 L354.75,215.3 L354.5,215.3 L354.25,215.3 L354,215.3 L353.75,215.3 L353.5,215.3 L353.25,215.3 L353,215.29 L352.75,215.29 L352.5,215.29 L352.25,215.29 L352,215.29 L351.75,215.29 L351.5,215.29 L351.25,215.29 L351,215.28 L350.75,215.28 L350.5,215.28 L350.25,215.28 L350,215.28 L349.75,215.28 L349.5,215.28 L349.25,215.28 L349,215.27 L348.75,215.27 L348.5,215.27 L348.25,215.27 L348,215.27 L347.75,215.27 L347.5,215.27 L347.25,215.27 L347,215.26 L346.75,215.26 L346.5,215.26 L346.25,215.26 L346,215.26 L345.75,215.26 L345.5,215.26 L345.25,215.25 L345,215.25 L344.75,215.25 L344.5,215.25 L344.25,215.25 L344,215.25 L343.75,215.25 L343.5,215.25 L343.25,215.24 L343,215.24 L342.75,215.24 L342.5,215.24 L342.25,215.24 L342,215.24 L341.75,215.24 L341.5,215.23 L341.25,215.23 L341,215.23 L340.75,215.23 L340.5,215.23 L340.25,215.23 L340,215.23 L339.75,215.22 L339.5,215.22 L339.25,215.22 L339,215.22 L338.75,215.22 L338.5,215.22 L338.25,215.22 L338,215.21 L337.75,215.21 L337.5,215.21 L337.25,215.21 L337,215.21 L336.75,215.21 L336.5,215.21 L336.25,215.2 L336,215.2 L335.75,215.2 L335.5,215.2 L335.25,215.2 L335,215.2 L334.75,215.2 L334.5,215.19 L334.25,215.19 L334,215.19 L333.75,215.19 L333.5,215.19 L333.25,215.19 L333,215.19 L332.75,215.18 L332.5,215.18 L332.25,215.18 L332,215.18 L331.75,215.18 L331.5,215.18 L331.25,215.18 L331,215.17 L330.75,215.17 L330.5,215.17 L330.25,215.17 L330,215.17 L329.75,215.17 L329.5,215.17 L329.25,215.16 L329,215.16 L328.75,215.16 L328.5,215.16Z" fill="#28b060" fill-opacity="0.65"/>
<path d="M403,215.23 L403.25,215.2 L403.5,215.17 L403.75,215.13 L404,215.1 L404.25,215.06 L404.5,215.01 L404.75,214.97 L405,214.91 L405.25,214.86 L405.5,214.79 L405.75,214.73 L406,214.65 L406.25,214.58 L406.5,214.49 L406.75,214.4 L407,214.3 L407.25,214.19 L407.5,214.07 L407.75,213.95 L408,213.81 L408.25,213.67 L408.5,213.51 L408.75,213.35 L409,213.17 L409.25,212.98 L409.5,212.77 L409.75,212.56 L410,212.32 L410.25,212.08 L410.5,211.81 L410.75,211.54 L411,211.24 L411.25,210.92 L411.5,210.59 L411.75,210.24 L412,209.86 L412.25,209.47 L412.5,209.05 L412.75,208.61 L413,208.15 L413.25,207.67 L413.5,207.16 L413.75,206.62 L414,206.06 L414.25,205.47 L414.5,204.85 L414.75,204.21 L415,203.54 L415.25,202.84 L415.5,202.11 L415.75,201.35 L416,200.56 L416.25,199.74 L416.5,198.89 L416.75,198 L417,197.09 L417.25,196.15 L417.5,195.18 L417.75,194.17 L418,193.14 L418.25,192.07 L418.5,190.98 L418.75,189.86 L419,188.71 L419.25,187.53 L419.5,186.33 L419.75,185.1 L420,183.84 L420.25,182.56 L420.5,181.26 L420.75,179.94 L421,178.61 L421.25,177.25 L421.5,175.88 L421.75,174.49 L422,173.09 L422.25,171.69 L422.5,170.27 L422.75,168.85 L423,167.43 L423.25,166 L423.5,164.58 L423.75,163.16 L424,161.74 L424.25,160.34 L424.5,158.95 L424.75,157.57 L425,156.21 L425.25,154.86 L425.5,153.54 L425.75,152.25 L426,150.98 L426.25,149.75 L426.5,148.55 L426.75,147.38 L427,146.25 L427.25,145.17 L427.5,144.12 L427.75,143.13 L428,142.18 L428.25,141.29 L428.5,140.44 L428.75,139.66 L429,138.93 L429.25,138.25 L429.5,137.64 L429.75,137.1 L430,136.61 L430.25,136.19 L430.5,135.84 L430.75,135.55 L431,135.33 L431.25,135.18 L431.5,135.1 L431.75,135.09 L432,135.14 L432.25,135.24 L432.5,135.39 L432.75,135.6 L433,135.86 L433.25,136.18 L433.5,136.54 L433.75,136.95 L434,137.42 L434.25,137.93 L434.5,138.49 L434.75,139.1 L435,139.76 L435.25,140.46 L435.5,141.2 L435.75,141.99 L436,142.82 L436.25,143.68 L436.5,144.59 L436.75,145.53 L437,146.5 L437.25,147.51 L437.5,148.55 L437.75,149.62 L438,150.71 L438.25,151.83 L438.5,152.98 L438.75,154.15 L439,155.34 L439.25,156.54 L439.5,157.77 L439.75,159 L440,160.25 L440.25,161.52 L440.5,162.79 L440.75,164.07 L441,165.35 L441.25,166.64 L441.5,167.93 L441.75,169.22 L442,170.51 L442.25,171.8 L442.5,173.08 L442.75,174.36 L443,175.63 L443.25,176.89 L443.5,178.15 L443.75,179.39 L444,180.62 L444.25,181.83 L444.5,183.04 L444.75,184.22 L445,185.39 L445.25,186.54 L445.5,187.68 L445.75,188.79 L446,189.89 L446.25,190.97 L446.5,192.02 L446.75,193.05 L447,194.06 L447.25,195.05 L447.5,196.02 L447.75,196.96 L448,197.88 L448.25,198.78 L448.5,199.65 L448.75,200.5 L449,201.33 L449.25,202.13 L449.5,202.91 L449.75,203.66 L450,204.39 L450.25,205.1 L450.5,205.79 L450.75,206.45 L451,207.1 L451.25,207.71 L451.5,208.31 L451.75,208.89 L452,209.44 L452.25,209.98 L452.5,210.5 L452.75,210.99 L453,211.47 L453.25,211.92 L453.5,212.36 L453.75,212.79 L454,213.19 L454.25,213.58 L454.5,213.95 L454.75,214.3 L455,214.64 L455.25,214.97 L455.5,215.28 L455.75,215.58 L456,215.86 L456.25,216.14 L456.5,216.4 L456.75,216.64 L457,216.88 L457.25,217.11 L457.5,217.32 L457.75,217.53 L458,217.72 L458.25,217.91 L458.5,218.09 L458.75,218.26 L459,218.42 L459.25,218.57 L459.5,218.72 L459.75,218.86 L460,219 L460.25,219.12 L460.5,219.25 L460.75,219.37 L461,219.48 L461.25,219.59 L461.5,219.7 L461.75,219.8 L462,219.9 L462.25,219.99 L462.5,220.08 L462.75,220.17 L463,220.26 L463.25,220.34 L463.5,220.43 L463.75,220.51 L464,220.58 L464.25,220.66 L464.5,220.73 L464.5,221.05 L464.25,221 L464,220.95 L463.75,220.91 L463.5,220.86 L463.25,220.82 L463,220.78 L462.75,220.73 L462.5,220.69 L462.25,220.65 L462,220.61 L461.75,220.57 L461.5,220.53 L461.25,220.49 L461,220.45 L460.75,220.41 L460.5,220.37 L460.25,220.34 L460,220.3 L459.75,220.26 L459.5,220.23 L459.25,220.19 L459,220.16 L458.75,220.12 L458.5,220.09 L458.25,220.05 L458,220.02 L457.75,219.98 L457.5,219.95 L457.25,219.91 L457,219.88 L456.75,219.85 L456.5,219.81 L456.25,219.78 L456,219.74 L455.75,219.71 L455.5,219.67 L455.25,219.64 L455,219.61 L454.75,219.57 L454.5,219.54 L454.25,219.51 L454,219.47 L453.75,219.44 L453.5,219.41 L453.25,219.37 L453,219.34 L452.75,219.31 L452.5,219.28 L452.25,219.24 L452,219.21 L451.75,219.18 L451.5,219.15 L451.25,219.11 L451,219.08 L450.75,219.05 L450.5,219.02 L450.25,218.99 L450,218.96 L449.75,218.92 L449.5,218.89 L449.25,218.86 L449,218.83 L448.75,218.8 L448.5,218.77 L448.25,218.74 L448,218.71 L447.75,218.68 L447.5,218.65 L447.25,218.62 L447,218.59 L446.75,218.56 L446.5,218.53 L446.25,218.5 L446,218.47 L445.75,218.44 L445.5,218.41 L445.25,218.38 L445,218.35 L444.75,218.32 L444.5,218.29 L444.25,218.27 L444,218.24 L443.75,218.21 L443.5,218.18 L443.25,218.15 L443,218.12 L442.75,218.1 L442.5,218.07 L442.25,218.04 L442,218.01 L441.75,217.99 L441.5,217.96 L441.25,217.93 L441,217.91 L440.75,217.88 L440.5,217.85 L440.25,217.83 L440,217.8 L439.75,217.77 L439.5,217.75 L439.25,217.72 L439,217.69 L438.75,217.67 L438.5,217.64 L438.25,217.61 L438,217.59 L437.75,217.56 L437.5,217.53 L437.25,217.51 L437,217.48 L436.75,217.45 L436.5,217.42 L436.25,217.4 L436,217.37 L435.75,217.34 L435.5,217.32 L435.25,217.29 L435,217.26 L434.75,217.23 L434.5,217.21 L434.25,217.18 L434,217.15 L433.75,217.13 L433.5,217.1 L433.25,217.07 L433,217.05 L432.75,217.02 L432.5,216.99 L432.25,216.97 L432,216.94 L431.75,216.91 L431.5,216.89 L431.25,216.86 L431,216.84 L430.75,216.81 L430.5,216.79 L430.25,216.76 L430,216.74 L429.75,216.71 L429.5,216.69 L429.25,216.66 L429,216.64 L428.75,216.62 L428.5,216.59 L428.25,216.57 L428,216.55 L427.75,216.52 L427.5,216.5 L427.25,216.48 L427,216.46 L426.75,216.43 L426.5,216.41 L426.25,216.39 L426,216.37 L425.75,216.35 L425.5,216.33 L425.25,216.31 L425,216.29 L424.75,216.27 L424.5,216.26 L424.25,216.24 L424,216.22 L423.75,216.2 L423.5,216.19 L423.25,216.17 L423,216.15 L422.75,216.14 L422.5,216.12 L422.25,216.11 L422,216.09 L421.75,216.08 L421.5,216.07 L421.25,216.06 L421,216.04 L420.75,216.03 L420.5,216.02 L420.25,216.01 L420,216 L419.75,215.99 L419.5,215.98 L419.25,215.97 L419,215.96 L418.75,215.95 L418.5,215.94 L418.25,215.93 L418,215.92 L417.75,215.91 L417.5,215.91 L417.25,215.9 L417,215.89 L416.75,215.88 L416.5,215.87 L416.25,215.86 L416,215.85 L415.75,215.84 L415.5,215.84 L415.25,215.83 L415,215.82 L414.75,215.81 L414.5,215.8 L414.25,215.8 L414,215.79 L413.75,215.78 L413.5,215.77 L413.25,215.76 L413,215.76 L412.75,215.75 L412.5,215.74 L412.25,215.73 L412,215.73 L411.75,215.72 L411.5,215.71 L411.25,215.71 L411,215.7 L410.75,215.69 L410.5,215.69 L410.25,215.68 L410,215.67 L409.75,215.67 L409.5,215.66 L409.25,215.65 L409,215.65 L408.75,215.64 L408.5,215.64 L408.25,215.63 L408,215.62 L407.75,215.62 L407.5,215.61 L407.25,215.61 L407,215.6 L406.75,215.6 L406.5,215.59 L406.25,215.59 L406,215.58 L405.75,215.58 L405.5,215.57 L405.25,215.57 L405,215.56 L404.75,215.56 L404.5,215.56 L404.25,215.55 L404,215.55 L403.75,215.54 L403.5,215.54 L403.25,215.54 L403,215.53Z" fill="#ffff00" fill-opacity="0.56" stroke="#eaa84a" stroke-width="0.7"/>
<path d="M403.25,215.23 L403.5,215.24 L403.75,215.24 L404,215.24 L404.25,215.24 L404.5,215.24 L404.75,215.24 L405,215.24 L405.25,215.24 L405.5,215.25 L405.75,215.25 L406,215.25 L406.25,215.25 L406.5,215.25 L406.75,215.26 L407,215.26 L407.25,215.26 L407.5,215.26 L407.75,215.26 L408,215.27 L408.25,215.27 L408.5,215.27 L408.75,215.27 L409,215.28 L409.25,215.28 L409.5,215.28 L409.75,215.28 L410,215.29 L410.25,215.29 L410.5,215.29 L410.75,215.29 L411,215.3 L411.25,215.3 L411.5,215.3 L411.75,215.31 L412,215.31 L412.25,215.31 L412.5,215.31 L412.75,215.32 L413,215.32 L413.25,215.32 L413.5,215.33 L413.75,215.33 L414,215.33 L414.25,215.33 L414.5,215.34 L414.75,215.34 L415,215.34 L415.25,215.35 L415.5,215.35 L415.75,215.35 L416,215.36 L416.25,215.36 L416.5,215.36 L416.75,215.36 L417,215.37 L417.25,215.37 L417.5,215.37 L417.75,215.37 L418,215.38 L418.25,215.38 L418.5,215.38 L418.75,215.38 L419,215.38 L419.25,215.38 L419.5,215.38 L419.75,215.39 L420,215.39 L420.25,215.39 L420.5,215.39 L420.75,215.39 L421,215.39 L421.25,215.39 L421.5,215.39 L421.75,215.39 L422,215.39 L422.25,215.39 L422.5,215.39 L422.75,215.39 L423,215.39 L423.25,215.39 L423.5,215.39 L423.75,215.38 L424,215.38 L424.25,215.38 L424.5,215.37 L424.75,215.37 L425,215.36 L425.25,215.35 L425.5,215.34 L425.75,215.33 L426,215.31 L426.25,215.3 L426.5,215.28 L426.75,215.26 L427,215.23 L427.25,215.21 L427.5,215.18 L427.75,215.14 L428,215.1 L428.25,215.06 L428.5,215.02 L428.75,214.97 L429,214.91 L429.25,214.85 L429.5,214.79 L429.75,214.71 L430,214.63 L430.25,214.55 L430.5,214.45 L430.75,214.35 L431,214.24 L431.25,214.12 L431.5,213.98 L431.75,213.84 L432,213.69 L432.25,213.53 L432.5,213.35 L432.75,213.16 L433,212.95 L433.25,212.73 L433.5,212.5 L433.75,212.24 L434,211.98 L434.25,211.69 L434.5,211.38 L434.75,211.05 L435,210.7 L435.25,210.33 L435.5,209.94 L435.75,209.52 L436,209.07 L436.25,208.6 L436.5,208.1 L436.75,207.57 L437,207.01 L437.25,206.42 L437.5,205.8 L437.75,205.15 L438,204.46 L438.25,203.73 L438.5,202.97 L438.75,202.17 L439,201.32 L439.25,200.44 L439.5,199.52 L439.75,198.56 L440,197.55 L440.25,196.49 L440.5,195.39 L440.75,194.25 L441,193.06 L441.25,191.82 L441.5,190.53 L441.75,189.19 L442,187.8 L442.25,186.37 L442.5,184.88 L442.75,183.34 L443,181.75 L443.25,180.11 L443.5,178.41 L443.75,176.67 L444,174.87 L444.25,173.02 L444.5,171.13 L444.75,169.18 L445,167.18 L445.25,165.14 L445.5,163.05 L445.75,160.91 L446,158.73 L446.25,156.5 L446.5,154.23 L446.75,151.92 L447,149.58 L447.25,147.2 L447.5,144.78 L447.75,142.34 L448,139.86 L448.25,137.36 L448.5,134.84 L448.75,132.29 L449,129.73 L449.25,127.15 L449.5,124.57 L449.75,121.97 L450,119.38 L450.25,116.78 L450.5,114.19 L450.75,111.6 L451,109.03 L451.25,106.47 L451.5,103.94 L451.75,101.43 L452,98.95 L452.25,96.5 L452.5,94.09 L452.75,91.72 L453,89.4 L453.25,87.13 L453.5,84.92 L453.75,82.77 L454,80.68 L454.25,78.66 L454.5,76.71 L454.75,74.84 L455,73.05 L455.25,71.35 L455.5,69.73 L455.75,68.21 L456,66.79 L456.25,65.46 L456.5,64.23 L456.75,63.12 L457,62.11 L457.25,61.21 L457.5,60.42 L457.75,59.75 L458,59.19 L458.25,58.76 L458.5,58.44 L458.75,58.24 L459,58.16 L459.25,58.21 L459.5,58.38 L459.75,58.68 L460,59.11 L460.25,59.66 L460.5,60.34 L460.75,61.15 L461,62.07 L461.25,63.12 L461.5,64.28 L461.75,65.56 L462,66.95 L462.25,68.44 L462.5,70.04 L462.75,71.74 L463,73.54 L463.25,75.43 L463.5,77.4 L463.75,79.46 L464,81.6 L464.25,83.82 L464.5,86.1 L464.75,88.45 L465,90.86 L465.25,93.32 L465.5,95.83 L465.75,98.39 L466,100.99 L466.25,103.63 L466.5,106.3 L466.75,108.99 L467,111.71 L467.25,114.44 L467.5,117.18 L467.75,119.93 L468,122.69 L468.25,125.45 L468.5,128.2 L468.75,130.94 L469,133.67 L469.25,136.38 L469.5,139.07 L469.75,141.75 L470,144.39 L470.25,147 L470.5,149.59 L470.75,152.13 L471,154.64 L471.25,157.12 L471.5,159.54 L471.75,161.93 L472,164.27 L472.25,166.56 L472.5,168.8 L472.75,170.99 L473,173.13 L473.25,175.22 L473.5,177.25 L473.75,179.23 L474,181.16 L474.25,183.03 L474.5,184.85 L474.75,186.61 L475,188.31 L475.25,189.96 L475.5,191.56 L475.75,193.1 L476,194.58 L476.25,196.01 L476.5,197.39 L476.75,198.72 L477,199.99 L477.25,201.22 L477.5,202.39 L477.75,203.52 L478,204.6 L478.25,205.63 L478.5,206.61 L478.75,207.55 L479,208.45 L479.25,209.31 L479.5,210.12 L479.75,210.9 L480,211.64 L480.25,212.34 L480.5,213 L480.75,213.63 L481,214.23 L481.25,214.8 L481.5,215.34 L481.75,215.85 L482,216.33 L482.25,216.78 L482.5,217.21 L482.75,217.62 L483,218 L483.25,218.36 L483.5,218.7 L483.75,219.02 L484,219.32 L484.25,219.6 L484.5,219.87 L484.75,220.12 L485,220.36 L485.25,220.58 L485.5,220.78 L485.75,220.98 L486,221.16 L486.25,221.33 L486.5,221.49 L486.75,221.64 L487,221.78 L487.25,221.91 L487.5,222.04 L487.75,222.15 L488,222.26 L488.25,222.37 L488.5,222.46 L488.75,222.55 L489,222.63 L489.25,222.71 L489.5,222.79 L489.75,222.86 L490,222.92 L490.25,222.99 L490.5,223.05 L490.75,223.1 L491,223.15 L491.25,223.2 L491.5,223.25 L491.75,223.29 L492,223.34 L492.25,223.38 L492.5,223.41 L492.75,223.45 L493,223.49 L493.25,223.52 L493.5,223.55 L493.75,223.58 L494,223.61 L494.25,223.64 L494.5,223.67 L494.75,223.7 L495,223.72 L495.25,223.75 L495.5,223.78 L495.75,223.8 L496,223.82 L496.25,223.85 L496.5,223.87 L496.75,223.89 L497,223.92 L497.25,223.94 L497.5,223.96 L497.75,223.98 L498,224.01 L498.25,224.03 L498.5,224.05 L498.75,224.07 L499,224.09 L499.25,224.11 L499.5,224.14 L499.75,224.16 L500,224.18 L500.25,224.2 L500.5,224.22 L500.75,224.24 L501,224.26 L501.25,224.29 L501.5,224.31 L501.75,224.33 L502,224.35 L502.25,224.37 L502.5,224.39 L502.75,224.41 L503,224.44 L503.25,224.46 L503.5,224.48 L503.75,224.5 L504,224.52 L504.25,224.54 L504.5,224.56 L504.75,224.58 L505,224.6 L505.25,224.63 L505.5,224.65 L505.75,224.67 L506,224.69 L506.25,224.71 L506.5,224.73 L506.75,224.75 L507,224.77 L507.25,224.79 L507.5,224.81 L507.75,224.83 L508,224.86 L508.25,224.88 L508.5,224.9 L508.75,224.92 L509,224.94 L509.25,224.96 L509.5,224.98 L509.75,225 L510,225.02 L510.25,225.04 L510.5,225.06 L510.75,225.08 L511,225.1 L511.25,225.12 L511.5,225.14 L511.75,225.16 L512,225.18 L512.25,225.2 L512.5,225.22 L512.75,225.24 L513,225.26 L513.25,225.28 L513.5,225.3 L513.5,225.6 L513.25,225.58 L513,225.57 L512.75,225.55 L512.5,225.53 L512.25,225.52 L512,225.5 L511.75,225.48 L511.5,225.46 L511.25,225.45 L511,225.43 L510.75,225.41 L510.5,225.4 L510.25,225.38 L510,225.36 L509.75,225.34 L509.5,225.33 L509.25,225.31 L509,225.29 L508.75,225.28 L508.5,225.26 L508.25,225.24 L508,225.22 L507.75,225.21 L507.5,225.19 L507.25,225.17 L507,225.16 L506.75,225.14 L506.5,225.12 L506.25,225.1 L506,225.09 L505.75,225.07 L505.5,225.05 L505.25,225.04 L505,225.02 L504.75,225 L504.5,224.99 L504.25,224.97 L504,224.95 L503.75,224.94 L503.5,224.92 L503.25,224.9 L503,224.89 L502.75,224.87 L502.5,224.86 L502.25,224.84 L502,224.82 L501.75,224.81 L501.5,224.79 L501.25,224.78 L501,224.76 L500.75,224.75 L500.5,224.73 L500.25,224.72 L500,224.7 L499.75,224.68 L499.5,224.67 L499.25,224.66 L499,224.64 L498.75,224.63 L498.5,224.61 L498.25,224.6 L498,224.59 L497.75,224.57 L497.5,224.56 L497.25,224.55 L497,224.53 L496.75,224.52 L496.5,224.51 L496.25,224.5 L496,224.48 L495.75,224.47 L495.5,224.46 L495.25,224.45 L495,224.44 L494.75,224.42 L494.5,224.41 L494.25,224.4 L494,224.39 L493.75,224.38 L493.5,224.37 L493.25,224.35 L493,224.34 L492.75,224.33 L492.5,224.32 L492.25,224.31 L492,224.3 L491.75,224.29 L491.5,224.27 L491.25,224.26 L491,224.25 L490.75,224.24 L490.5,224.23 L490.25,224.22 L490,224.2 L489.75,224.19 L489.5,224.18 L489.25,224.17 L489,224.16 L488.75,224.15 L488.5,224.13 L488.25,224.12 L488,224.11 L487.75,224.1 L487.5,224.08 L487.25,224.07 L487,224.06 L486.75,224.04 L486.5,224.03 L486.25,224.02 L486,224 L485.75,223.99 L485.5,223.98 L485.25,223.96 L485,223.95 L484.75,223.93 L484.5,223.92 L484.25,223.9 L484,223.89 L483.75,223.87 L483.5,223.86 L483.25,223.84 L483,223.82 L482.75,223.81 L482.5,223.79 L482.25,223.77 L482,223.75 L481.75,223.74 L481.5,223.72 L481.25,223.7 L481,223.68 L480.75,223.66 L480.5,223.64 L480.25,223.62 L480,223.6 L479.75,223.58 L479.5,223.56 L479.25,223.53 L479,223.51 L478.75,223.48 L478.5,223.46 L478.25,223.43 L478,223.4 L477.75,223.37 L477.5,223.34 L477.25,223.31 L477,223.28 L476.75,223.24 L476.5,223.21 L476.25,223.17 L476,223.14 L475.75,223.1 L475.5,223.06 L475.25,223.02 L475,222.99 L474.75,222.95 L474.5,222.91 L474.25,222.87 L474,222.82 L473.75,222.78 L473.5,222.74 L473.25,222.7 L473,222.65 L472.75,222.61 L472.5,222.56 L472.25,222.52 L472,222.47 L471.75,222.43 L471.5,222.38 L471.25,222.34 L471,222.29 L470.75,222.24 L470.5,222.19 L470.25,222.15 L470,222.1 L469.75,222.05 L469.5,222 L469.25,221.96 L469,221.91 L468.75,221.86 L468.5,221.81 L468.25,221.76 L468,221.71 L467.75,221.66 L467.5,221.62 L467.25,221.57 L467,221.52 L466.75,221.47 L466.5,221.42 L466.25,221.37 L466,221.33 L465.75,221.28 L465.5,221.23 L465.25,221.19 L465,221.14 L464.75,221.09 L464.5,221.05 L464.25,221 L464,220.95 L463.75,220.91 L463.5,220.86 L463.25,220.82 L463,220.78 L462.75,220.73 L462.5,220.69 L462.25,220.65 L462,220.61 L461.75,220.57 L461.5,220.53 L461.25,220.49 L461,220.45 L460.75,220.41 L460.5,220.37 L460.25,220.34 L460,220.3 L459.75,220.26 L459.5,220.23 L459.25,220.19 L459,220.16 L458.75,220.12 L458.5,220.09 L458.25,220.05 L458,220.02 L457.75,219.98 L457.5,219.95 L457.25,219.91 L457,219.88 L456.75,219.85 L456.5,219.81 L456.25,219.78 L456,219.74 L455.75,219.71 L455.5,219.67 L455.25,219.64 L455,219.61 L454.75,219.57 L454.5,219.54 L454.25,219.51 L454,219.47 L453.75,219.44 L453.5,219.41 L453.25,219.37 L453,219.34 L452.75,219.31 L452.5,219.28 L452.25,219.24 L452,219.21 L451.75,219.18 L451.5,219.15 L451.25,219.11 L451,219.08 L450.75,219.05 L450.5,219.02 L450.25,218.99 L450,218.96 L449.75,218.92 L449.5,218.89 L449.25,218.86 L449,218.83 L448.75,218.8 L448.5,218.77 L448.25,218.74 L448,218.71 L447.75,218.68 L447.5,218.65 L447.25,218.62 L447,218.59 L446.75,218.56 L446.5,218.53 L446.25,218.5 L446,218.47 L445.75,218.44 L445.5,218.41 L445.25,218.38 L445,218.35 L444.75,218.32 L444.5,218.29 L444.25,218.27 L444,218.24 L443.75,218.21 L443.5,218.18 L443.25,218.15 L443,218.12 L442.75,218.1 L442.5,218.07 L442.25,218.04 L442,218.01 L441.75,217.99 L441.5,217.96 L441.25,217.93 L441,217.91 L440.75,217.88 L440.5,217.85 L440.25,217.83 L440,217.8 L439.75,217.77 L439.5,217.75 L439.25,217.72 L439,217.69 L438.75,217.67 L438.5,217.64 L438.25,217.61 L438,217.59 L437.75,217.56 L437.5,217.53 L437.25,217.51 L437,217.48 L436.75,217.45 L436.5,217.42 L436.25,217.4 L436,217.37 L435.75,217.34 L435.5,217.32 L435.25,217.29 L435,217.26 L434.75,217.23 L434.5,217.21 L434.25,217.18 L434,217.15 L433.75,217.13 L433.5,217.1 L433.25,217.07 L433,217.05 L432.75,217.02 L432.5,216.99 L432.25,216.97 L432,216.94 L431.75,216.91 L431.5,216.89 L431.25,216.86 L431,216.84 L430.75,216.81 L430.5,216.79 L430.25,216.76 L430,216.74 L429.75,216.71 L429.5,216.69 L429.25,216.66 L429,216.64 L428.75,216.62 L428.5,216.59 L428.25,216.57 L428,216.55 L427.75,216.52 L427.5,216.5 L427.25,216.48 L427,216.46 L426.75,216.43 L426.5,216.41 L426.25,216.39 L426,216.37 L425.75,216.35 L425.5,216.33 L425.25,216.31 L425,216.29 L424.75,216.27 L424.5,216.26 L424.25,216.24 L424,216.22 L423.75,216.2 L423.5,216.19 L423.25,216.17 L423,216.15 L422.75,216.14 L422.5,216.12 L422.25,216.11 L422,216.09 L421.75,216.08 L421.5,216.07 L421.25,216.06 L421,216.04 L420.75,216.03 L420.5,216.02 L420.25,216.01 L420,216 L419.75,215.99 L419.5,215.98 L419.25,215.97 L419,215.96 L418.75,215.95 L418.5,215.94 L418.25,215.93 L418,215.92 L417.75,215.91 L417.5,215.91 L417.25,215.9 L417,215.89 L416.75,215.88 L416.5,215.87 L416.25,215.86 L416,215.85 L415.75,215.84 L415.5,215.84 L415.25,215.83 L415,215.82 L414.75,215.81 L414.5,215.8 L414.25,215.8 L414,215.79 L413.75,215.78 L413.5,215.77 L413.25,215.76 L413,215.76 L412.75,215.75 L412.5,215.74 L412.25,215.73 L412,215.73 L411.75,215.72 L411.5,215.71 L411.25,215.71 L411,215.7 L410.75,215.69 L410.5,215.69 L410.25,215.68 L410,215.67 L409.75,215.67 L409.5,215.66 L409.25,215.65 L409,215.65 L408.75,215.64 L408.5,215.64 L408.25,215.63 L408,215.62 L407.75,215.62 L407.5,215.61 L407.25,215.61 L407,215.6 L406.75,215.6 L406.5,215.59 L406.25,215.59 L406,215.58 L405.75,215.58 L405.5,215.57 L405.25,215.57 L405,215.56 L404.75,215.56 L404.5,215.56 L404.25,215.55 L404,215.55 L403.75,215.54 L403.5,215.54 L403.25,215.54Z" fill="#ffff00" fill-opacity="0.56" stroke="#eaa84a" stroke-width="0.7"/>
<path d="M421.25,215.74 L421.5,215.74 L421.75,215.73 L422,215.73 L422.25,215.73 L422.5,215.72 L422.75,215.72 L423,215.71 L423.25,215.71 L423.5,215.7 L423.75,215.7 L424,215.69 L424.25,215.68 L424.5,215.68 L424.75,215.67 L425,215.66 L425.25,215.65 L425.5,215.64 L425.75,215.63 L426,215.62 L426.25,215.61 L426.5,215.59 L426.75,215.58 L427,215.57 L427.25,215.55 L427.5,215.53 L427.75,215.52 L428,215.5 L428.25,215.48 L428.5,215.46 L428.75,215.44 L429,215.42 L429.25,215.39 L429.5,215.37 L429.75,215.34 L430,215.32 L430.25,215.29 L430.5,215.26 L430.75,215.23 L431,215.2 L431.25,215.16 L431.5,215.13 L431.75,215.09 L432,215.06 L432.25,215.02 L432.5,214.98 L432.75,214.94 L433,214.9 L433.25,214.85 L433.5,214.81 L433.75,214.76 L434,214.72 L434.25,214.67 L434.5,214.62 L434.75,214.57 L435,214.51 L435.25,214.46 L435.5,214.4 L435.75,214.35 L436,214.29 L436.25,214.23 L436.5,214.17 L436.75,214.11 L437,214.04 L437.25,213.98 L437.5,213.91 L437.75,213.85 L438,213.78 L438.25,213.71 L438.5,213.64 L438.75,213.57 L439,213.5 L439.25,213.43 L439.5,213.36 L439.75,213.28 L440,213.21 L440.25,213.13 L440.5,213.06 L440.75,212.98 L441,212.91 L441.25,212.83 L441.5,212.75 L441.75,212.68 L442,212.6 L442.25,212.53 L442.5,212.45 L442.75,212.38 L443,212.3 L443.25,212.23 L443.5,212.15 L443.75,212.08 L444,212.01 L444.25,211.93 L444.5,211.86 L444.75,211.79 L445,211.73 L445.25,211.66 L445.5,211.59 L445.75,211.53 L446,211.46 L446.25,211.4 L446.5,211.34 L446.75,211.28 L447,211.22 L447.25,211.17 L447.5,211.11 L447.75,211.06 L448,211.01 L448.25,210.97 L448.5,210.92 L448.75,210.88 L449,210.84 L449.25,210.8 L449.5,210.76 L449.75,210.73 L450,210.7 L450.25,210.67 L450.5,210.65 L450.75,210.62 L451,210.6 L451.25,210.59 L451.5,210.58 L451.75,210.56 L452,210.56 L452.25,210.55 L452.5,210.55 L452.75,210.55 L453,210.56 L453.25,210.57 L453.5,210.58 L453.75,210.6 L454,210.61 L454.25,210.64 L454.5,210.66 L454.75,210.69 L455,210.72 L455.25,210.76 L455.5,210.8 L455.75,210.84 L456,210.88 L456.25,210.93 L456.5,210.98 L456.75,211.04 L457,211.1 L457.25,211.16 L457.5,211.23 L457.75,211.29 L458,211.36 L458.25,211.44 L458.5,211.52 L458.75,211.6 L459,211.68 L459.25,211.77 L459.5,211.86 L459.75,211.95 L460,212.04 L460.25,212.14 L460.5,212.24 L460.75,212.35 L461,212.45 L461.25,212.56 L461.5,212.68 L461.75,212.79 L462,212.91 L462.25,213.03 L462.5,213.16 L462.75,213.28 L463,213.41 L463.25,213.54 L463.5,213.68 L463.75,213.81 L464,213.95 L464.25,214.09 L464.5,214.23 L464.75,214.37 L465,214.51 L465.25,214.66 L465.5,214.8 L465.75,214.95 L466,215.1 L466.25,215.25 L466.5,215.39 L466.75,215.54 L467,215.7 L467.25,215.85 L467.5,216 L467.75,216.15 L468,216.3 L468.25,216.45 L468.5,216.6 L468.75,216.76 L469,216.91 L469.25,217.06 L469.5,217.21 L469.75,217.36 L470,217.51 L470.25,217.66 L470.5,217.8 L470.75,217.95 L471,218.1 L471.25,218.24 L471.5,218.38 L471.75,218.53 L472,218.67 L472.25,218.81 L472.5,218.95 L472.75,219.08 L473,219.22 L473.25,219.35 L473.5,219.48 L473.75,219.61 L474,219.74 L474.25,219.87 L474.5,219.99 L474.75,220.12 L475,220.24 L475.25,220.36 L475.5,220.47 L475.75,220.59 L476,220.7 L476.25,220.81 L476.5,220.92 L476.75,221.02 L477,221.13 L477.25,221.23 L477.5,221.33 L477.75,221.42 L478,221.52 L478.25,221.61 L478.5,221.7 L478.75,221.78 L479,221.87 L479.25,221.95 L479.5,222.03 L479.75,222.11 L480,222.18 L480.25,222.25 L480.5,222.32 L480.75,222.39 L481,222.46 L481.25,222.52 L481.5,222.58 L481.75,222.65 L482,222.71 L482.25,222.77 L482.5,222.82 L482.75,222.88 L483,222.93 L483.25,222.98 L483.5,223.04 L483.75,223.08 L484,223.13 L484.25,223.18 L484.5,223.23 L484.75,223.27 L485,223.31 L485.25,223.35 L485.5,223.4 L485.75,223.44 L486,223.47 L486.25,223.51 L486.5,223.55 L486.75,223.58 L487,223.62 L487.25,223.65 L487.5,223.68 L487.75,223.71 L488,223.74 L488.25,223.77 L488.5,223.8 L488.75,223.83 L488.75,224.15 L488.5,224.13 L488.25,224.12 L488,224.11 L487.75,224.1 L487.5,224.08 L487.25,224.07 L487,224.06 L486.75,224.04 L486.5,224.03 L486.25,224.02 L486,224 L485.75,223.99 L485.5,223.98 L485.25,223.96 L485,223.95 L484.75,223.93 L484.5,223.92 L484.25,223.9 L484,223.89 L483.75,223.87 L483.5,223.86 L483.25,223.84 L483,223.82 L482.75,223.81 L482.5,223.79 L482.25,223.77 L482,223.75 L481.75,223.74 L481.5,223.72 L481.25,223.7 L481,223.68 L480.75,223.66 L480.5,223.64 L480.25,223.62 L480,223.6 L479.75,223.58 L479.5,223.56 L479.25,223.53 L479,223.51 L478.75,223.48 L478.5,223.46 L478.25,223.43 L478,223.4 L477.75,223.37 L477.5,223.34 L477.25,223.31 L477,223.28 L476.75,223.24 L476.5,223.21 L476.25,223.17 L476,223.14 L475.75,223.1 L475.5,223.06 L475.25,223.02 L475,222.99 L474.75,222.95 L474.5,222.91 L474.25,222.87 L474,222.82 L473.75,222.78 L473.5,222.74 L473.25,222.7 L473,222.65 L472.75,222.61 L472.5,222.56 L472.25,222.52 L472,222.47 L471.75,222.43 L471.5,222.38 L471.25,222.34 L471,222.29 L470.75,222.24 L470.5,222.19 L470.25,222.15 L470,222.1 L469.75,222.05 L469.5,222 L469.25,221.96 L469,221.91 L468.75,221.86 L468.5,221.81 L468.25,221.76 L468,221.71 L467.75,221.66 L467.5,221.62 L467.25,221.57 L467,221.52 L466.75,221.47 L466.5,221.42 L466.25,221.37 L466,221.33 L465.75,221.28 L465.5,221.23 L465.25,221.19 L465,221.14 L464.75,221.09 L464.5,221.05 L464.25,221 L464,220.95 L463.75,220.91 L463.5,220.86 L463.25,220.82 L463,220.78 L462.75,220.73 L462.5,220.69 L462.25,220.65 L462,220.61 L461.75,220.57 L461.5,220.53 L461.25,220.49 L461,220.45 L460.75,220.41 L460.5,220.37 L460.25,220.34 L460,220.3 L459.75,220.26 L459.5,220.23 L459.25,220.19 L459,220.16 L458.75,220.12 L458.5,220.09 L458.25,220.05 L458,220.02 L457.75,219.98 L457.5,219.95 L457.25,219.91 L457,219.88 L456.75,219.85 L456.5,219.81 L456.25,219.78 L456,219.74 L455.75,219.71 L455.5,219.67 L455.25,219.64 L455,219.61 L454.75,219.57 L454.5,219.54 L454.25,219.51 L454,219.47 L453.75,219.44 L453.5,219.41 L453.25,219.37 L453,219.34 L452.75,219.31 L452.5,219.28 L452.25,219.24 L452,219.21 L451.75,219.18 L451.5,219.15 L451.25,219.11 L451,219.08 L450.75,219.05 L450.5,219.02 L450.25,218.99 L450,218.96 L449.75,218.92 L449.5,218.89 L449.25,218.86 L449,218.83 L448.75,218.8 L448.5,218.77 L448.25,218.74 L448,218.71 L447.75,218.68 L447.5,218.65 L447.25,218.62 L447,218.59 L446.75,218.56 L446.5,218.53 L446.25,218.5 L446,218.47 L445.75,218.44 L445.5,218.41 L445.25,218.38 L445,218.35 L444.75,218.32 L444.5,218.29 L444.25,218.27 L444,218.24 L443.75,218.21 L443.5,218.18 L443.25,218.15 L443,218.12 L442.75,218.1 L442.5,218.07 L442.25,218.04 L442,218.01 L441.75,217.99 L441.5,217.96 L441.25,217.93 L441,217.91 L440.75,217.88 L440.5,217.85 L440.25,217.83 L440,217.8 L439.75,217.77 L439.5,217.75 L439.25,217.72 L439,217.69 L438.75,217.67 L438.5,217.64 L438.25,217.61 L438,217.59 L437.75,217.56 L437.5,217.53 L437.25,217.51 L437,217.48 L436.75,217.45 L436.5,217.42 L436.25,217.4 L436,217.37 L435.75,217.34 L435.5,217.32 L435.25,217.29 L435,217.26 L434.75,217.23 L434.5,217.21 L434.25,217.18 L434,217.15 L433.75,217.13 L433.5,217.1 L433.25,217.07 L433,217.05 L432.75,217.02 L432.5,216.99 L432.25,216.97 L432,216.94 L431.75,216.91 L431.5,216.89 L431.25,216.86 L431,216.84 L430.75,216.81 L430.5,216.79 L430.25,216.76 L430,216.74 L429.75,216.71 L429.5,216.69 L429.25,216.66 L429,216.64 L428.75,216.62 L428.5,216.59 L428.25,216.57 L428,216.55 L427.75,216.52 L427.5,216.5 L427.25,216.48 L427,216.46 L426.75,216.43 L426.5,216.41 L426.25,216.39 L426,216.37 L425.75,216.35 L425.5,216.33 L425.25,216.31 L425,216.29 L424.75,216.27 L424.5,216.26 L424.25,216.24 L424,216.22 L423.75,216.2 L423.5,216.19 L423.25,216.17 L423,216.15 L422.75,216.14 L422.5,216.12 L422.25,216.11 L422,216.09 L421.75,216.08 L421.5,216.07 L421.25,216.06Z" fill="#b41e1e" fill-opacity="0.75"/>
<path d="M376.25,215.08 L376.5,215.08 L376.75,215.08 L377,215.08 L377.25,215.08 L377.5,215.08 L377.75,215.08 L378,215.08 L378.25,215.07 L378.5,215.07 L378.75,215.07 L379,215.07 L379.25,215.07 L379.5,215.07 L379.75,215.07 L380,215.07 L380.25,215.07 L380.5,215.07 L380.75,215.07 L381,215.07 L381.25,215.07 L381.5,215.07 L381.75,215.07 L382,215.07 L382.25,215.06 L382.5,215.06 L382.75,215.06 L383,215.06 L383.25,215.06 L383.5,215.06 L383.75,215.06 L384,215.06 L384.25,215.06 L384.5,215.06 L384.75,215.06 L385,215.06 L385.25,215.06 L385.5,215.06 L385.75,215.06 L386,215.06 L386.25,215.05 L386.5,215.05 L386.75,215.05 L387,215.05 L387.25,215.05 L387.5,215.05 L387.75,215.05 L388,215.05 L388.25,215.05 L388.5,215.05 L388.75,215.05 L389,215.05 L389.25,215.05 L389.5,215.05 L389.75,215.05 L390,215.04 L390.25,215.04 L390.5,215.04 L390.75,215.04 L391,215.04 L391.25,215.04 L391.5,215.04 L391.75,215.04 L392,215.04 L392.25,215.04 L392.5,215.04 L392.75,215.04 L393,215.04 L393.25,215.04 L393.5,215.04 L393.75,215.03 L394,215.03 L394.25,215.03 L394.5,215.03 L394.75,215.03 L395,215.03 L395.25,215.03 L395.5,215.03 L395.75,215.03 L396,215.03 L396.25,215.03 L396.5,215.03 L396.75,215.03 L397,215.03 L397.25,215.03 L397.5,215.02 L397.75,215.02 L398,215.02 L398.25,215.02 L398.5,215.02 L398.75,215.02 L399,215.02 L399.25,215.02 L399.5,215.02 L399.75,215.02 L400,215.02 L400.25,215.02 L400.5,215.02 L400.75,215.02 L401,215.02 L401.25,215.02 L401.5,215.02 L401.75,215.02 L402,215.02 L402.25,215.02 L402.5,215.02 L402.75,215.02 L403,215.02 L403.25,215.02 L403.5,215.02 L403.75,215.02 L404,215.02 L404.25,215.02 L404.5,215.02 L404.75,215.02 L405,215.02 L405.25,215.02 L405.5,215.03 L405.75,215.03 L406,215.03 L406.25,215.03 L406.5,215.03 L406.75,215.03 L407,215.04 L407.25,215.04 L407.5,215.04 L407.75,215.04 L408,215.04 L408.25,215.05 L408.5,215.05 L408.75,215.05 L409,215.05 L409.25,215.05 L409.5,215.06 L409.75,215.06 L410,215.06 L410.25,215.06 L410.5,215.07 L410.75,215.07 L411,215.07 L411.25,215.08 L411.5,215.08 L411.75,215.08 L412,215.08 L412.25,215.09 L412.5,215.09 L412.75,215.09 L413,215.1 L413.25,215.1 L413.5,215.1 L413.75,215.11 L414,215.11 L414.25,215.11 L414.5,215.12 L414.75,215.12 L415,215.12 L415.25,215.13 L415.5,215.13 L415.75,215.14 L416,215.14 L416.25,215.14 L416.5,215.15 L416.75,215.15 L417,215.15 L417.25,215.16 L417.5,215.16 L417.75,215.17 L418,215.17 L418.25,215.17 L418.5,215.18 L418.75,215.18 L419,215.19 L419.25,215.19 L419.5,215.19 L419.75,215.2 L420,215.2 L420.25,215.21 L420.5,215.21 L420.75,215.22 L421,215.22 L421.25,215.23 L421.5,215.23 L421.75,215.24 L422,215.25 L422.25,215.26 L422.5,215.27 L422.75,215.27 L423,215.28 L423.25,215.29 L423.5,215.3 L423.75,215.31 L424,215.32 L424.25,215.33 L424.5,215.34 L424.75,215.36 L425,215.37 L425.25,215.38 L425.5,215.39 L425.75,215.4 L426,215.42 L426.25,215.43 L426.5,215.44 L426.75,215.46 L427,215.47 L427.25,215.49 L427.5,215.5 L427.75,215.51 L428,215.53 L428.25,215.54 L428.5,215.56 L428.75,215.57 L429,215.59 L429.25,215.6 L429.5,215.62 L429.75,215.64 L430,215.65 L430.25,215.67 L430.5,215.68 L430.75,215.7 L431,215.72 L431.25,215.73 L431.5,215.75 L431.75,215.76 L432,215.78 L432.25,215.8 L432.5,215.81 L432.75,215.83 L433,215.85 L433.25,215.86 L433.5,215.88 L433.75,215.89 L434,215.91 L434.25,215.93 L434.5,215.94 L434.75,215.96 L435,215.97 L435.25,215.99 L435.5,216 L435.75,216.02 L436,216.03 L436.25,216.05 L436.5,216.06 L436.75,216.08 L437,216.09 L437.25,216.11 L437.5,216.12 L437.75,216.14 L438,216.15 L438.25,216.16 L438.5,216.17 L438.75,216.19 L439,216.2 L439.25,216.21 L439.5,216.22 L439.75,216.23 L440,216.25 L440.25,216.26 L440.5,216.27 L440.75,216.28 L441,216.29 L441.25,216.3 L441.5,216.31 L441.75,216.32 L442,216.33 L442.25,216.34 L442.5,216.35 L442.75,216.36 L443,216.37 L443.25,216.38 L443.5,216.39 L443.75,216.39 L444,216.4 L444.25,216.41 L444.5,216.42 L444.75,216.43 L445,216.44 L445.25,216.44 L445.5,216.45 L445.75,216.46 L446,216.46 L446.25,216.47 L446.5,216.48 L446.75,216.48 L447,216.49 L447.25,216.49 L447.5,216.5 L447.75,216.5 L448,216.51 L448.25,216.51 L448.5,216.51 L448.75,216.52 L449,216.52 L449.25,216.52 L449.5,216.52 L449.75,216.52 L450,216.52 L450.25,216.52 L450.5,216.52 L450.75,216.52 L451,216.52 L451.25,216.52 L451.5,216.51 L451.75,216.51 L452,216.51 L452.25,216.5 L452.5,216.5 L452.75,216.49 L453,216.48 L453.25,216.47 L453.5,216.47 L453.75,216.46 L454,216.45 L454.25,216.44 L454.5,216.42 L454.75,216.41 L455,216.4 L455.25,216.38 L455.5,216.37 L455.75,216.35 L456,216.33 L456.25,216.31 L456.5,216.29 L456.75,216.27 L457,216.25 L457.25,216.23 L457.5,216.2 L457.75,216.17 L458,216.15 L458.25,216.12 L458.5,216.09 L458.75,216.06 L459,216.02 L459.25,215.99 L459.5,215.95 L459.75,215.92 L460,215.88 L460.25,215.84 L460.5,215.8 L460.75,215.75 L461,215.71 L461.25,215.67 L461.5,215.62 L461.75,215.57 L462,215.53 L462.25,215.48 L462.5,215.43 L462.75,215.37 L463,215.32 L463.25,215.27 L463.5,215.21 L463.75,215.15 L464,215.09 L464.25,215.03 L464.5,214.96 L464.75,214.9 L465,214.83 L465.25,214.76 L465.5,214.69 L465.75,214.61 L466,214.53 L466.25,214.46 L466.5,214.37 L466.75,214.29 L467,214.2 L467.25,214.12 L467.5,214.02 L467.75,213.93 L468,213.83 L468.25,213.73 L468.5,213.63 L468.75,213.53 L469,213.42 L469.25,213.31 L469.5,213.2 L469.75,213.08 L470,212.96 L470.25,212.84 L470.5,212.72 L470.75,212.59 L471,212.46 L471.25,212.32 L471.5,212.19 L471.75,212.05 L472,211.91 L472.25,211.76 L472.5,211.61 L472.75,211.46 L473,211.3 L473.25,211.15 L473.5,210.99 L473.75,210.82 L474,210.66 L474.25,210.49 L474.5,210.32 L474.75,210.14 L475,209.97 L475.25,209.79 L475.5,209.6 L475.75,209.42 L476,209.24 L476.25,209.05 L476.5,208.86 L476.75,208.67 L477,208.47 L477.25,208.28 L477.5,208.08 L477.75,207.89 L478,207.69 L478.25,207.49 L478.5,207.3 L478.75,207.1 L479,206.9 L479.25,206.71 L479.5,206.51 L479.75,206.32 L480,206.12 L480.25,205.93 L480.5,205.74 L480.75,205.56 L481,205.38 L481.25,205.2 L481.5,205.03 L481.75,204.87 L482,204.7 L482.25,204.55 L482.5,204.4 L482.75,204.26 L483,204.12 L483.25,203.99 L483.5,203.87 L483.75,203.76 L484,203.65 L484.25,203.56 L484.5,203.47 L484.75,203.4 L485,203.33 L485.25,203.27 L485.5,203.22 L485.75,203.19 L486,203.16 L486.25,203.15 L486.5,203.14 L486.75,203.15 L487,203.16 L487.25,203.19 L487.5,203.23 L487.75,203.28 L488,203.34 L488.25,203.41 L488.5,203.49 L488.75,203.58 L489,203.68 L489.25,203.78 L489.5,203.9 L489.75,204.03 L490,204.17 L490.25,204.31 L490.5,204.47 L490.75,204.63 L491,204.8 L491.25,204.97 L491.5,205.15 L491.75,205.34 L492,205.54 L492.25,205.74 L492.5,205.94 L492.75,206.15 L493,206.36 L493.25,206.58 L493.5,206.8 L493.75,207.03 L494,207.26 L494.25,207.48 L494.5,207.72 L494.75,207.95 L495,208.19 L495.25,208.42 L495.5,208.66 L495.75,208.9 L496,209.14 L496.25,209.38 L496.5,209.62 L496.75,209.86 L497,210.09 L497.25,210.33 L497.5,210.57 L497.75,210.8 L498,211.04 L498.25,211.27 L498.5,211.51 L498.75,211.74 L499,211.97 L499.25,212.19 L499.5,212.42 L499.75,212.64 L500,212.86 L500.25,213.08 L500.5,213.3 L500.75,213.52 L501,213.73 L501.25,213.94 L501.5,214.15 L501.75,214.35 L502,214.56 L502.25,214.76 L502.5,214.95 L502.75,215.15 L503,215.34 L503.25,215.53 L503.5,215.72 L503.75,215.9 L504,216.08 L504.25,216.26 L504.5,216.44 L504.75,216.61 L505,216.78 L505.25,216.95 L505.5,217.12 L505.75,217.28 L506,217.44 L506.25,217.6 L506.5,217.75 L506.75,217.9 L507,218.05 L507.25,218.2 L507.5,218.35 L507.75,218.49 L508,218.63 L508.25,218.77 L508.5,218.9 L508.75,219.03 L509,219.17 L509.25,219.29 L509.5,219.42 L509.75,219.54 L510,219.66 L510.25,219.78 L510.5,219.9 L510.75,220.02 L511,220.13 L511.25,220.24 L511.5,220.35 L511.75,220.45 L512,220.56 L512.25,220.66 L512.5,220.76 L512.75,220.86 L513,220.96 L513.25,221.05 L513.5,221.15 L513.75,221.24 L514,221.33 L514.25,221.42 L514.5,221.5 L514.75,221.59 L515,221.67 L515.25,221.76 L515.5,221.84 L515.75,221.92 L516,221.99 L516.25,222.07 L516.5,222.14 L516.75,222.22 L517,222.29 L517.25,222.36 L517.5,222.43 L517.75,222.5 L518,222.57 L518.25,222.63 L518.5,222.7 L518.75,222.76 L519,222.83 L519.25,222.89 L519.5,222.95 L519.75,223.01 L520,223.07 L520.25,223.13 L520.5,223.19 L520.75,223.24 L521,223.3 L521.25,223.35 L521.5,223.41 L521.75,223.46 L522,223.51 L522.25,223.56 L522.5,223.61 L522.75,223.66 L523,223.71 L523.25,223.76 L523.5,223.81 L523.75,223.86 L524,223.91 L524.25,223.95 L524.5,224 L524.75,224.04 L525,224.09 L525.25,224.13 L525.5,224.17 L525.75,224.22 L526,224.26 L526.25,224.3 L526.5,224.34 L526.75,224.38 L527,224.42 L527.25,224.46 L527.5,224.5 L527.75,224.54 L528,224.58 L528.25,224.62 L528.5,224.66 L528.75,224.69 L529,224.73 L529.25,224.77 L529.5,224.8 L529.75,224.84 L530,224.88 L530.25,224.91 L530.5,224.95 L530.75,224.98 L531,225.02 L531.25,225.05 L531.5,225.08 L531.75,225.12 L532,225.15 L532.25,225.18 L532.5,225.22 L532.75,225.25 L533,225.28 L533.25,225.31 L533.5,225.34 L533.75,225.37 L534,225.41 L534.25,225.44 L534.5,225.47 L534.75,225.5 L535,225.53 L535,227 L534.75,226.98 L534.5,226.97 L534.25,226.95 L534,226.94 L533.75,226.92 L533.5,226.9 L533.25,226.89 L533,226.87 L532.75,226.86 L532.5,226.84 L532.25,226.82 L532,226.81 L531.75,226.79 L531.5,226.78 L531.25,226.76 L531,226.74 L530.75,226.73 L530.5,226.71 L530.25,226.69 L530,226.68 L529.75,226.66 L529.5,226.65 L529.25,226.63 L529,226.61 L528.75,226.6 L528.5,226.58 L528.25,226.57 L528,226.55 L527.75,226.53 L527.5,226.52 L527.25,226.5 L527,226.48 L526.75,226.47 L526.5,226.45 L526.25,226.44 L526,226.42 L525.75,226.4 L525.5,226.39 L525.25,226.37 L525,226.35 L524.75,226.34 L524.5,226.32 L524.25,226.31 L524,226.29 L523.75,226.27 L523.5,226.26 L523.25,226.24 L523,226.22 L522.75,226.21 L522.5,226.19 L522.25,226.18 L522,226.16 L521.75,226.14 L521.5,226.13 L521.25,226.11 L521,226.09 L520.75,226.08 L520.5,226.06 L520.25,226.04 L520,226.03 L519.75,226.01 L519.5,226 L519.25,225.98 L519,225.96 L518.75,225.95 L518.5,225.93 L518.25,225.91 L518,225.9 L517.75,225.88 L517.5,225.86 L517.25,225.85 L517,225.83 L516.75,225.82 L516.5,225.8 L516.25,225.78 L516,225.77 L515.75,225.75 L515.5,225.73 L515.25,225.72 L515,225.7 L514.75,225.68 L514.5,225.67 L514.25,225.65 L514,225.63 L513.75,225.62 L513.5,225.6 L513.25,225.58 L513,225.57 L512.75,225.55 L512.5,225.53 L512.25,225.52 L512,225.5 L511.75,225.48 L511.5,225.46 L511.25,225.45 L511,225.43 L510.75,225.41 L510.5,225.4 L510.25,225.38 L510,225.36 L509.75,225.34 L509.5,225.33 L509.25,225.31 L509,225.29 L508.75,225.28 L508.5,225.26 L508.25,225.24 L508,225.22 L507.75,225.21 L507.5,225.19 L507.25,225.17 L507,225.16 L506.75,225.14 L506.5,225.12 L506.25,225.1 L506,225.09 L505.75,225.07 L505.5,225.05 L505.25,225.04 L505,225.02 L504.75,225 L504.5,224.99 L504.25,224.97 L504,224.95 L503.75,224.94 L503.5,224.92 L503.25,224.9 L503,224.89 L502.75,224.87 L502.5,224.86 L502.25,224.84 L502,224.82 L501.75,224.81 L501.5,224.79 L501.25,224.78 L501,224.76 L500.75,224.75 L500.5,224.73 L500.25,224.72 L500,224.7 L499.75,224.68 L499.5,224.67 L499.25,224.66 L499,224.64 L498.75,224.63 L498.5,224.61 L498.25,224.6 L498,224.59 L497.75,224.57 L497.5,224.56 L497.25,224.55 L497,224.53 L496.75,224.52 L496.5,224.51 L496.25,224.5 L496,224.48 L495.75,224.47 L495.5,224.46 L495.25,224.45 L495,224.44 L494.75,224.42 L494.5,224.41 L494.25,224.4 L494,224.39 L493.75,224.38 L493.5,224.37 L493.25,224.35 L493,224.34 L492.75,224.33 L492.5,224.32 L492.25,224.31 L492,224.3 L491.75,224.29 L491.5,224.27 L491.25,224.26 L491,224.25 L490.75,224.24 L490.5,224.23 L490.25,224.22 L490,224.2 L489.75,224.19 L489.5,224.18 L489.25,224.17 L489,224.16 L488.75,224.15 L488.5,224.13 L488.25,224.12 L488,224.11 L487.75,224.1 L487.5,224.08 L487.25,224.07 L487,224.06 L486.75,224.04 L486.5,224.03 L486.25,224.02 L486,224 L485.75,223.99 L485.5,223.98 L485.25,223.96 L485,223.95 L484.75,223.93 L484.5,223.92 L484.25,223.9 L484,223.89 L483.75,223.87 L483.5,223.86 L483.25,223.84 L483,223.82 L482.75,223.81 L482.5,223.79 L482.25,223.77 L482,223.75 L481.75,223.74 L481.5,223.72 L481.25,223.7 L481,223.68 L480.75,223.66 L480.5,223.64 L480.25,223.62 L480,223.6 L479.75,223.58 L479.5,223.56 L479.25,223.53 L479,223.51 L478.75,223.48 L478.5,223.46 L478.25,223.43 L478,223.4 L477.75,223.37 L477.5,223.34 L477.25,223.31 L477,223.28 L476.75,223.24 L476.5,223.21 L476.25,223.17 L476,223.14 L475.75,223.1 L475.5,223.06 L475.25,223.02 L475,222.99 L474.75,222.95 L474.5,222.91 L474.25,222.87 L474,222.82 L473.75,222.78 L473.5,222.74 L473.25,222.7 L473,222.65 L472.75,222.61 L472.5,222.56 L472.25,222.52 L472,222.47 L471.75,222.43 L471.5,222.38 L471.25,222.34 L471,222.29 L470.75,222.24 L470.5,222.19 L470.25,222.15 L470,222.1 L469.75,222.05 L469.5,222 L469.25,221.96 L469,221.91 L468.75,221.86 L468.5,221.81 L468.25,221.76 L468,221.71 L467.75,221.66 L467.5,221.62 L467.25,221.57 L467,221.52 L466.75,221.47 L466.5,221.42 L466.25,221.37 L466,221.33 L465.75,221.28 L465.5,221.23 L465.25,221.19 L465,221.14 L464.75,221.09 L464.5,221.05 L464.25,221 L464,220.95 L463.75,220.91 L463.5,220.86 L463.25,220.82 L463,220.78 L462.75,220.73 L462.5,220.69 L462.25,220.65 L462,220.61 L461.75,220.57 L461.5,220.53 L461.25,220.49 L461,220.45 L460.75,220.41 L460.5,220.37 L460.25,220.34 L460,220.3 L459.75,220.26 L459.5,220.23 L459.25,220.19 L459,220.16 L458.75,220.12 L458.5,220.09 L458.25,220.05 L458,220.02 L457.75,219.98 L457.5,219.95 L457.25,219.91 L457,219.88 L456.75,219.85 L456.5,219.81 L456.25,219.78 L456,219.74 L455.75,219.71 L455.5,219.67 L455.25,219.64 L455,219.61 L454.75,219.57 L454.5,219.54 L454.25,219.51 L454,219.47 L453.75,219.44 L453.5,219.41 L453.25,219.37 L453,219.34 L452.75,219.31 L452.5,219.28 L452.25,219.24 L452,219.21 L451.75,219.18 L451.5,219.15 L451.25,219.11 L451,219.08 L450.75,219.05 L450.5,219.02 L450.25,218.99 L450,218.96 L449.75,218.92 L449.5,218.89 L449.25,218.86 L449,218.83 L448.75,218.8 L448.5,218.77 L448.25,218.74 L448,218.71 L447.75,218.68 L447.5,218.65 L447.25,218.62 L447,218.59 L446.75,218.56 L446.5,218.53 L446.25,218.5 L446,218.47 L445.75,218.44 L445.5,218.41 L445.25,218.38 L445,218.35 L444.75,218.32 L444.5,218.29 L444.25,218.27 L444,218.24 L443.75,218.21 L443.5,218.18 L443.25,218.15 L443,218.12 L442.75,218.1 L442.5,218.07 L442.25,218.04 L442,218.01 L441.75,217.99 L441.5,217.96 L441.25,217.93 L441,217.91 L440.75,217.88 L440.5,217.85 L440.25,217.83 L440,217.8 L439.75,217.77 L439.5,217.75 L439.25,217.72 L439,217.69 L438.75,217.67 L438.5,217.64 L438.25,217.61 L438,217.59 L437.75,217.56 L437.5,217.53 L437.25,217.51 L437,217.48 L436.75,217.45 L436.5,217.42 L436.25,217.4 L436,217.37 L435.75,217.34 L435.5,217.32 L435.25,217.29 L435,217.26 L434.75,217.23 L434.5,217.21 L434.25,217.18 L434,217.15 L433.75,217.13 L433.5,217.1 L433.25,217.07 L433,217.05 L432.75,217.02 L432.5,216.99 L432.25,216.97 L432,216.94 L431.75,216.91 L431.5,216.89 L431.25,216.86 L431,216.84 L430.75,216.81 L430.5,216.79 L430.25,216.76 L430,216.74 L429.75,216.71 L429.5,216.69 L429.25,216.66 L429,216.64 L428.75,216.62 L428.5,216.59 L428.25,216.57 L428,216.55 L427.75,216.52 L427.5,216.5 L427.25,216.48 L427,216.46 L426.75,216.43 L426.5,216.41 L426.25,216.39 L426,216.37 L425.75,216.35 L425.5,216.33 L425.25,216.31 L425,216.29 L424.75,216.27 L424.5,216.26 L424.25,216.24 L424,216.22 L423.75,216.2 L423.5,216.19 L423.25,216.17 L423,216.15 L422.75,216.14 L422.5,216.12 L422.25,216.11 L422,216.09 L421.75,216.08 L421.5,216.07 L421.25,216.06 L421,216.04 L420.75,216.03 L420.5,216.02 L420.25,216.01 L420,216 L419.75,215.99 L419.5,215.98 L419.25,215.97 L419,215.96 L418.75,215.95 L418.5,215.94 L418.25,215.93 L418,215.92 L417.75,215.91 L417.5,215.91 L417.25,215.9 L417,215.89 L416.75,215.88 L416.5,215.87 L416.25,215.86 L416,215.85 L415.75,215.84 L415.5,215.84 L415.25,215.83 L415,215.82 L414.75,215.81 L414.5,215.8 L414.25,215.8 L414,215.79 L413.75,215.78 L413.5,215.77 L413.25,215.76 L413,215.76 L412.75,215.75 L412.5,215.74 L412.25,215.73 L412,215.73 L411.75,215.72 L411.5,215.71 L411.25,215.71 L411,215.7 L410.75,215.69 L410.5,215.69 L410.25,215.68 L410,215.67 L409.75,215.67 L409.5,215.66 L409.25,215.65 L409,215.65 L408.75,215.64 L408.5,215.64 L408.25,215.63 L408,215.62 L407.75,215.62 L407.5,215.61 L407.25,215.61 L407,215.6 L406.75,215.6 L406.5,215.59 L406.25,215.59 L406,215.58 L405.75,215.58 L405.5,215.57 L405.25,215.57 L405,215.56 L404.75,215.56 L404.5,215.56 L404.25,215.55 L404,215.55 L403.75,215.54 L403.5,215.54 L403.25,215.54 L403,215.53 L402.75,215.53 L402.5,215.53 L402.25,215.52 L402,215.52 L401.75,215.52 L401.5,215.51 L401.25,215.51 L401,215.51 L400.75,215.51 L400.5,215.5 L400.25,215.5 L400,215.5 L399.75,215.5 L399.5,215.5 L399.25,215.49 L399,215.49 L398.75,215.49 L398.5,215.49 L398.25,215.49 L398,215.48 L397.75,215.48 L397.5,215.48 L397.25,215.48 L397,215.48 L396.75,215.48 L396.5,215.47 L396.25,215.47 L396,215.47 L395.75,215.47 L395.5,215.47 L395.25,215.47 L395,215.46 L394.75,215.46 L394.5,215.46 L394.25,215.46 L394,215.46 L393.75,215.46 L393.5,215.45 L393.25,215.45 L393,215.45 L392.75,215.45 L392.5,215.45 L392.25,215.45 L392,215.45 L391.75,215.44 L391.5,215.44 L391.25,215.44 L391,215.44 L390.75,215.44 L390.5,215.44 L390.25,215.44 L390,215.43 L389.75,215.43 L389.5,215.43 L389.25,215.43 L389,215.43 L388.75,215.43 L388.5,215.43 L388.25,215.43 L388,215.42 L387.75,215.42 L387.5,215.42 L387.25,215.42 L387,215.42 L386.75,215.42 L386.5,215.42 L386.25,215.42 L386,215.42 L385.75,215.41 L385.5,215.41 L385.25,215.41 L385,215.41 L384.75,215.41 L384.5,215.41 L384.25,215.41 L384,215.41 L383.75,215.41 L383.5,215.4 L383.25,215.4 L383,215.4 L382.75,215.4 L382.5,215.4 L382.25,215.4 L382,215.4 L381.75,215.4 L381.5,215.4 L381.25,215.4 L381,215.4 L380.75,215.39 L380.5,215.39 L380.25,215.39 L380,215.39 L379.75,215.39 L379.5,215.39 L379.25,215.39 L379,215.39 L378.75,215.39 L378.5,215.39 L378.25,215.39 L378,215.39 L377.75,215.38 L377.5,215.38 L377.25,215.38 L377,215.38 L376.75,215.38 L376.5,215.38 L376.25,215.38Z" fill="#b41e1e" fill-opacity="0.72"/>
<path d="M303.5,213.99 L303.75,213.97 L304,213.93 L304.25,213.89 L304.5,213.85 L304.75,213.8 L305,213.75 L305.25,213.68 L305.5,213.59 L305.75,213.55 L306,213.52 L306.25,213.47 L306.5,213.42 L306.75,213.37 L307,213.32 L307.25,213.26 L307.5,213.19 L307.75,212.96 L308,212.69 L308.25,212.44 L308.5,212.23 L308.75,212.1 L309,212.07 L309.25,212.14 L309.5,212.27 L309.75,212.31 L310,212.35 L310.25,212.39 L310.5,212.43 L310.75,212.47 L311,212.51 L311.25,212.55 L311.5,212.58 L311.75,212.7 L312,212.74 L312.25,212.73 L312.5,212.67 L312.75,212.6 L313,212.52 L313.25,212.44 L313.5,212.35 L313.75,212.32 L314,212.29 L314.25,212.26 L314.5,212.23 L314.75,212.2 L315,212.17 L315.25,212.14 L315.5,212.11 L315.75,212.07 L316,212.02 L316.25,211.97 L316.5,211.92 L316.75,211.88 L317,211.83 L317.25,211.78 L317.5,211.73 L317.75,211.66 L318,211.58 L318.25,211.5 L318.5,211.43 L318.75,211.35 L319,211.28 L319.25,211.2 L319.5,211.12 L319.75,211.12 L320,211.13 L320.25,211.13 L320.5,211.14 L320.75,211.14 L321,211.14 L321.25,211.15 L321.5,211.15 L321.75,211.09 L322,211.03 L322.25,210.97 L322.5,210.91 L322.75,210.84 L323,210.76 L323.25,210.67 L323.5,210.56 L323.75,210.34 L324,210.07 L324.25,209.74 L324.5,209.41 L324.75,209.14 L325,208.98 L325.25,208.96 L325.5,209.06 L325.75,209.11 L326,209.17 L326.25,209.23 L326.5,209.28 L326.75,209.34 L327,209.39 L327.25,209.43 L327.5,209.47 L327.75,209.52 L328,209.55 L328.25,209.55 L328.5,209.53 L328.75,209.5 L329,209.46 L329.25,209.41 L329.5,209.37 L329.75,209.28 L330,209.19 L330.25,209.11 L330.5,209.02 L330.75,208.94 L331,208.86 L331.25,208.78 L331.5,208.71 L331.75,208.71 L332,208.71 L332.25,208.71 L332.5,208.71 L332.75,208.71 L333,208.71 L333.25,208.71 L333.5,208.71 L333.75,208.67 L334,208.62 L334.25,208.58 L334.5,208.54 L334.75,208.5 L335,208.46 L335.25,208.42 L335.5,208.37 L335.75,208.33 L336,208.27 L336.25,208.2 L336.5,208.11 L336.75,207.99 L337,207.83 L337.25,207.63 L337.5,207.39 L337.75,206.98 L338,206.56 L338.25,206.18 L338.5,205.97 L338.75,205.93 L339,206.08 L339.25,206.36 L339.5,206.69 L339.75,206.85 L340,207 L340.25,207.13 L340.5,207.23 L340.75,207.31 L341,207.36 L341.25,207.4 L341.5,207.42 L341.75,207.43 L342,207.42 L342.25,207.4 L342.5,207.37 L342.75,207.34 L343,207.3 L343.25,207.26 L343.5,207.23 L343.75,207.21 L344,207.18 L344.25,207.16 L344.5,207.14 L344.75,207.12 L345,207.1 L345.25,207.08 L345.5,207.06 L345.75,207.01 L346,206.95 L346.25,206.9 L346.5,206.85 L346.75,206.8 L347,206.74 L347.25,206.69 L347.5,206.63 L347.75,206.57 L348,206.5 L348.25,206.4 L348.5,206.26 L348.75,206.06 L349,205.8 L349.25,205.47 L349.5,205.1 L349.75,204.95 L350,204.8 L350.25,204.67 L350.5,204.53 L350.75,204.43 L351,204.34 L351.25,204.27 L351.5,204.23 L351.75,204.31 L352,204.67 L352.25,205.15 L352.5,205.56 L352.75,205.81 L353,205.94 L353.25,205.99 L353.5,206.01 L353.75,206.02 L354,206.02 L354.25,206.03 L354.5,206.04 L354.75,206.05 L355,206.06 L355.25,206.08 L355.5,206.1 L355.75,206.13 L356,206.18 L356.25,206.22 L356.5,206.28 L356.75,206.34 L357,206.41 L357.25,206.48 L357.5,206.56 L357.75,206.55 L358,206.54 L358.25,206.53 L358.5,206.52 L358.75,206.51 L359,206.5 L359.25,206.49 L359.5,206.48 L359.75,206.55 L360,206.62 L360.25,206.69 L360.5,206.77 L360.75,206.85 L361,206.94 L361.25,207.03 L361.5,207.12 L361.75,207.2 L362,207.29 L362.25,207.37 L362.5,207.46 L362.75,207.55 L363,207.65 L363.25,207.74 L363.5,207.84 L363.75,207.94 L364,208.05 L364.25,208.16 L364.5,208.27 L364.75,208.39 L365,208.5 L365.25,208.61 L365.5,208.73 L365.75,208.85 L366,208.96 L366.25,209.05 L366.5,209.11 L366.75,209.11 L367,209.03 L367.25,208.88 L367.5,208.68 L367.75,208.5 L368,208.35 L368.25,208.26 L368.5,208.26 L368.75,208.37 L369,208.59 L369.25,208.9 L369.5,209.27 L369.75,209.74 L370,210.19 L370.25,210.58 L370.5,210.89 L370.75,211.14 L371,211.33 L371.25,211.49 L371.5,211.62 L371.75,211.73 L372,211.82 L372.25,211.92 L372.5,212.01 L372.75,212.1 L373,212.19 L373.25,212.28 L373.5,212.37 L373.75,212.45 L374,212.52 L374.25,212.6 L374.5,212.67 L374.75,212.74 L375,212.81 L375.25,212.88 L375.5,212.95 L375.75,212.99 L376,213.02 L376.25,213.06 L376.5,213.09 L376.75,213.13 L377,213.16 L377.25,213.19 L377.5,213.23 L377.75,213.31 L378,213.39 L378.25,213.46 L378.5,213.52 L378.75,213.53 L379,213.5 L379.25,213.4 L379.5,213.22 L379.75,213 L380,212.77 L380.25,212.57 L380.5,212.48 L380.75,212.52 L381,212.69 L381.25,212.96 L381.5,213.29 L381.75,213.6 L382,213.86 L382.25,214.06 L382.5,214.19 L382.75,214.24 L383,214.21 L383.25,214.09 L383.5,213.9 L383.75,213.67 L384,213.42 L384.25,213.2 L384.5,213.04 L384.75,212.98 L385,213.05 L385.25,213.23 L385.5,213.49 L385.75,213.54 L386,213.6 L386.25,213.66 L386.5,213.72 L386.75,213.79 L387,213.84 L387.25,213.9 L387.5,213.96 L387.75,214.27 L388,214.48 L388.25,214.61 L388.5,214.67 L388.75,214.7 L389,214.72 L389.25,214.73 L389.5,214.74 L389.75,214.75 L390,214.75 L390.25,214.76 L390.5,214.76 L390.75,214.77 L391,214.77 L391.25,214.77 L391.5,214.78 L391.75,214.78 L392,214.78 L392.25,214.78 L392.5,214.78 L392.75,214.78 L393,214.79 L393.25,214.79 L393.5,214.79 L393.75,214.78 L394,214.78 L394.25,214.78 L394.5,214.78 L394.75,214.78 L395,214.77 L395.25,214.77 L395.5,214.77 L395.75,214.77 L396,214.76 L396.25,214.76 L396.5,214.76 L396.75,214.76 L397,214.75 L397.25,214.75 L397.5,214.75 L397.75,214.74 L398,214.74 L398.25,214.73 L398.5,214.73 L398.75,214.73 L399,214.72 L399.25,214.72 L399.5,214.71 L399.75,214.7 L400,214.68 L400.25,214.67 L400.5,214.65 L400.75,214.63 L401,214.6 L401.25,214.58 L401.5,214.55 L401.75,214.53 L402,214.51 L402.25,214.48 L402.5,214.46 L402.75,214.43 L403,214.4 L403.25,214.36 L403.5,214.33 L403.75,214.28 L404,214.24 L404.25,214.19 L404.5,214.14 L404.75,214.08 L405,214.02 L405.25,213.96 L405.5,213.88 L405.75,213.82 L406,213.74 L406.25,213.66 L406.5,213.58 L406.75,213.49 L407,213.4 L407.25,213.3 L407.5,213.19 L407.75,212.98 L408,212.74 L408.25,212.48 L408.5,212.18 L408.75,211.86 L409,211.5 L409.25,211.1 L409.5,210.66 L409.75,210.5 L410,210.34 L410.25,210.18 L410.5,210.01 L410.75,209.84 L411,209.66 L411.25,209.48 L411.5,209.28 L411.75,208.82 L412,208.33 L412.25,207.8 L412.5,207.24 L412.75,206.65 L413,206.02 L413.25,205.34 L413.5,204.63 L413.75,204.4 L414,204.16 L414.25,203.91 L414.5,203.66 L414.75,203.41 L415,203.15 L415.25,202.89 L415.5,202.62 L415.75,201.5 L416,200.3 L416.25,199.03 L416.5,197.68 L416.75,196.25 L417,194.74 L417.25,193.16 L417.5,191.5 L417.75,190.92 L418,190.34 L418.25,189.75 L418.5,189.15 L418.75,188.55 L419,187.93 L419.25,187.31 L419.5,186.68 L419.75,185.87 L420,185.05 L420.25,184.22 L420.5,183.37 L420.75,182.52 L421,181.65 L421.25,180.77 L421.5,179.88 L421.75,177.66 L422,175.39 L422.25,173.06 L422.5,170.7 L422.75,168.32 L423,165.91 L423.25,163.49 L423.5,161.07 L423.75,159.45 L424,157.85 L424.25,156.25 L424.5,154.67 L424.75,153.11 L425,151.57 L425.25,150.06 L425.5,148.57 L425.75,147.62 L426,146.67 L426.25,145.74 L426.5,144.84 L426.75,143.94 L427,140 L428.5,133 L430,127 L431.3,125 L432.5,128 L434,131 L435.5,135 L436,133 L437,132.5 L437.5,135 L438.5,137 L440,139.5 L441,140 L442,139 L443,137 L444,135.5 L445,134 L446,128 L446.25,124.04 L446.5,122.44 L446.75,120.77 L447,119.05 L447.25,117.26 L447.5,115.43 L447.75,115.1 L448,114.78 L448.25,114.45 L448.5,114.13 L448.75,113.8 L449,113.47 L449.25,113.14 L449.5,112.8 L449.75,109.15 L450,105.36 L450.25,101.46 L450.5,97.47 L450.75,93.41 L451,89.33 L451.25,85.24 L451.5,81.17 L451.75,80.48 L452,79.78 L452.25,79.09 L452.5,78.4 L452.75,77.71 L453,77.02 L453.25,76.34 L453.5,75.66 L453.75,73.79 L454,71.94 L454.25,70.12 L454.5,68.34 L454.75,66.59 L455,64.87 L455.25,63.21 L455.5,61.59 L455.75,58.93 L456,56.44 L456.25,54.11 L456.5,51.98 L456.75,50.03 L457,48.32 L457.25,46.81 L457.5,45.54 L457.75,44.87 L458,44.29 L458.25,43.81 L458.5,43.43 L458.75,43.16 L459,42.98 L459.25,42.9 L459.5,42.92 L459.75,42.97 L460,43.07 L460.25,43.18 L460.5,43.35 L460.75,43.52 L461,43.76 L461.25,44 L461.5,44.3 L461.75,45.53 L462,47.13 L462.25,49.11 L462.5,51.43 L462.75,54.07 L463,57.03 L463.25,60.29 L463.5,63.81 L463.75,66.24 L464,68.75 L464.25,71.36 L464.5,74.05 L464.75,76.82 L465,79.66 L465.25,82.55 L465.5,85.5 L465.75,88.83 L466,92.21 L466.25,95.62 L466.5,99.07 L466.75,102.53 L467,106 L467.25,109.47 L467.5,112.93 L467.75,114.32 L468,115.71 L468.25,117.1 L468.5,118.48 L468.75,119.86 L469,121.23 L469.25,122.6 L469.5,123.96 L469.75,125.27 L470,126.58 L470.25,127.88 L470.5,129.17 L470.75,130.45 L471,131.73 L471.25,133 L471.5,134.26 L471.75,137.21 L472,140.11 L472.25,142.94 L472.5,145.71 L472.75,148.41 L473,151.05 L473.25,153.6 L473.5,156.08 L473.75,159.45 L474,162.64 L474.25,165.69 L474.5,168.57 L474.75,171.28 L475,173.84 L475.25,176.24 L475.5,178.46 L475.75,179.69 L476,180.87 L476.25,181.99 L476.5,183.07 L476.75,184.09 L477,185.07 L477.25,186 L477.5,186.88 L477.75,187.65 L478,188.37 L478.25,189.07 L478.5,189.72 L478.75,190.35 L479,190.94 L479.25,191.5 L479.5,192.04 L479.75,192.46 L480,192.86 L480.25,193.24 L480.5,193.6 L480.75,193.95 L481,194.28 L481.25,194.6 L481.5,194.91 L481.75,195.37 L482,195.8 L482.25,196.2 L482.5,196.58 L482.75,196.92 L483,197.24 L483.25,197.54 L483.5,197.82 L483.75,198.02 L484,198.21 L484.25,198.39 L484.5,198.56 L484.75,198.72 L485,198.89 L485.25,199.04 L485.5,199.2 L485.75,199.37 L486,199.54 L486.25,199.71 L486.5,199.87 L486.75,200.04 L487,200.2 L487.25,200.37 L487.5,200.54 L487.75,200.75 L488,200.96 L488.25,201.18 L488.5,201.4 L488.75,201.63 L489,201.86 L489.25,202.1 L489.5,202.34 L489.75,202.53 L490,202.72 L490.25,202.92 L490.5,203.11 L490.75,203.31 L491,203.52 L491.25,203.72 L491.5,203.93 L491.75,204.15 L492,204.36 L492.25,204.58 L492.5,204.8 L492.75,205.02 L493,205.25 L493.25,205.47 L493.5,205.7 L493.75,205.98 L494,206.26 L494.25,206.54 L494.5,206.82 L494.75,207.1 L495,207.38 L495.25,207.66 L495.5,207.95 L495.75,208.15 L496,208.35 L496.25,208.56 L496.5,208.76 L496.75,208.96 L497,209.16 L497.25,209.36 L497.5,209.56 L497.75,209.69 L498,209.82 L498.25,209.95 L498.5,210.08 L498.75,210.21 L499,210.34 L499.25,210.47 L499.5,210.6 L499.75,210.95 L500,211.3 L500.25,211.64 L500.5,211.97 L500.75,212.3 L501,212.59 L501.25,212.85 L501.5,213.04 L501.75,213.13 L502,213.17 L502.25,213.16 L502.5,213.14 L502.75,213.17 L503,213.29 L503.25,213.53 L503.5,213.89 L503.75,214.5 L504,215.16 L504.25,215.73 L504.5,216.18 L504.75,216.48 L505,216.66 L505.25,216.73 L505.5,216.75 L505.75,216.76 L506,216.76 L506.25,216.77 L506.5,216.78 L506.75,216.79 L507,216.81 L507.25,216.83 L507.5,216.84 L507.75,217.1 L508,217.52 L508.25,218.04 L508.5,218.53 L508.75,218.93 L509,219.25 L509.25,219.5 L509.5,219.73 L509.75,219.83 L510,219.92 L510.25,220.01 L510.5,220.1 L510.75,220.19 L511,220.27 L511.25,220.36 L511.5,220.44 L511.75,220.47 L512,220.49 L512.25,220.51 L512.5,220.53 L512.75,220.55 L513,220.57 L513.25,220.59 L513.5,220.61 L513.75,220.72 L514,220.82 L514.25,220.92 L514.5,221.02 L514.75,221.11 L515,221.21 L515.25,221.3 L515.5,221.39 L515.75,221.5 L516,221.61 L516.25,221.71 L516.5,221.81 L516.75,221.91 L517,222.01 L517.25,222.11 L517.5,222.2 L517.75,222.3 L518,222.4 L518.25,222.48 L518.5,222.52 L518.75,222.49 L519,222.37 L519.25,222.16 L519.5,221.91 L519.75,221.83 L520,221.76 L520.25,221.71 L520.5,221.67 L520.75,221.67 L521,221.68 L521.25,221.73 L521.5,221.78 L521.75,222 L522,222.28 L522.25,222.58 L522.5,222.87 L522.75,223.13 L523,223.34 L523.25,223.5 L523.5,223.62 L523.75,223.66 L524,223.7 L524.25,223.74 L524.5,223.77 L524.75,223.8 L525,223.83 L525.25,223.86 L525.5,223.89 L525.75,223.91 L526,223.93 L526.25,223.95 L526.5,223.97 L526.75,223.99 L527,224.01 L527.25,224.02 L527.5,224.04 L527.75,224.12 L528,224.18 L528.25,224.24 L528.5,224.26 L528.75,224.21 L529,224.08 L529.25,223.86 L529.5,223.63 L529.75,223.51 L530,223.5 L530.25,223.63 L530.5,223.86 L530.75,224.14 L531,224.42 L531.25,224.66 L531.5,224.84 L531.75,224.94 L532,225.02 L532.25,225.08 L532.5,225.13 L532.75,225.17 L533,225.21 L533.25,225.25 L533.5,225.29 L533.75,225.3 L534,225.32 L534.25,225.34 L534.5,225.36 L534.75,225.37 L535,225.37" fill="none" stroke="#4a4a4a" stroke-width="1.05" stroke-linejoin="round"/>
<path d="M303.5,213.99 L303.75,213.96 L304,213.94 L304.25,213.91 L304.5,213.88 L304.75,213.85 L305,213.82 L305.25,213.79 L305.5,213.76 L305.75,213.73 L306,213.7 L306.25,213.67 L306.5,213.64 L306.75,213.61 L307,213.57 L307.25,213.54 L307.5,213.5 L307.75,213.47 L308,213.43 L308.25,213.4 L308.5,213.36 L308.75,213.32 L309,213.28 L309.25,213.24 L309.5,213.21 L309.75,213.17 L310,213.13 L310.25,213.09 L310.5,213.04 L310.75,213 L311,212.96 L311.25,212.92 L311.5,212.88 L311.75,212.83 L312,212.79 L312.25,212.74 L312.5,212.7 L312.75,212.65 L313,212.61 L313.25,212.56 L313.5,212.52 L313.75,212.47 L314,212.42 L314.25,212.38 L314.5,212.33 L314.75,212.28 L315,212.23 L315.25,212.18 L315.5,212.13 L315.75,212.08 L316,212.03 L316.25,211.98 L316.5,211.93 L316.75,211.88 L317,211.83 L317.25,211.78 L317.5,211.73 L317.75,211.68 L318,211.63 L318.25,211.58 L318.5,211.53 L318.75,211.47 L319,211.42 L319.25,211.37 L319.5,211.32 L319.75,211.26 L320,211.21 L320.25,211.16 L320.5,211.11 L320.75,211.05 L321,211 L321.25,210.95 L321.5,210.9 L321.75,210.84 L322,210.79 L322.25,210.74 L322.5,210.69 L322.75,210.63 L323,210.58 L323.25,210.53 L323.5,210.48 L323.75,210.43 L324,210.38 L324.25,210.32 L324.5,210.27 L324.75,210.22 L325,210.17 L325.25,210.12 L325.5,210.07 L325.75,210.02 L326,209.97 L326.25,209.92 L326.5,209.88 L326.75,209.83 L327,209.78 L327.25,209.73 L327.5,209.68 L327.75,209.64 L328,209.59 L328.25,209.54 L328.5,209.5 L328.75,209.45 L329,209.41 L329.25,209.37 L329.5,209.32 L329.75,209.28 L330,209.23 L330.25,209.19 L330.5,209.15 L330.75,209.11 L331,209.07 L331.25,209.03 L331.5,208.99 L331.75,208.95 L332,208.91 L332.25,208.87 L332.5,208.83 L332.75,208.79 L333,208.75 L333.25,208.72 L333.5,208.68 L333.75,208.64 L334,208.61 L334.25,208.57 L334.5,208.54 L334.75,208.5 L335,208.46 L335.25,208.43 L335.5,208.39 L335.75,208.36 L336,208.33 L336.25,208.29 L336.5,208.26 L336.75,208.22 L337,208.19 L337.25,208.15 L337.5,208.12 L337.75,208.09 L338,208.05 L338.25,208.02 L338.5,207.98 L338.75,207.95 L339,207.91 L339.25,207.88 L339.5,207.84 L339.75,207.81 L340,207.77 L340.25,207.74 L340.5,207.7 L340.75,207.67 L341,207.63 L341.25,207.59 L341.5,207.55 L341.75,207.52 L342,207.48 L342.25,207.44 L342.5,207.4 L342.75,207.36 L343,207.32 L343.25,207.29 L343.5,207.25 L343.75,207.21 L344,207.17 L344.25,207.13 L344.5,207.09 L344.75,207.05 L345,207.01 L345.25,206.96 L345.5,206.92 L345.75,206.88 L346,206.84 L346.25,206.8 L346.5,206.76 L346.75,206.72 L347,206.68 L347.25,206.65 L347.5,206.61 L347.75,206.57 L348,206.53 L348.25,206.49 L348.5,206.46 L348.75,206.42 L349,206.39 L349.25,206.36 L349.5,206.32 L349.75,206.29 L350,206.26 L350.25,206.23 L350.5,206.21 L350.75,206.18 L351,206.16 L351.25,206.13 L351.5,206.11 L351.75,206.09 L352,206.08 L352.25,206.06 L352.5,206.05 L352.75,206.04 L353,206.03 L353.25,206.02 L353.5,206.02 L353.75,206.02 L354,206.02 L354.25,206.02 L354.5,206.03 L354.75,206.04 L355,206.05 L355.25,206.06 L355.5,206.08 L355.75,206.1 L356,206.12 L356.25,206.14 L356.5,206.17 L356.75,206.2 L357,206.24 L357.25,206.28 L357.5,206.32 L357.75,206.36 L358,206.4 L358.25,206.45 L358.5,206.5 L358.75,206.56 L359,206.62 L359.25,206.68 L359.5,206.74 L359.75,206.81 L360,206.88 L360.25,206.95 L360.5,207.02 L360.75,207.1 L361,207.18 L361.25,207.26 L361.5,207.34 L361.75,207.43 L362,207.52 L362.25,207.61 L362.5,207.7 L362.75,207.8 L363,207.89 L363.25,207.99 L363.5,208.09 L363.75,208.19 L364,208.29 L364.25,208.4 L364.5,208.5 L364.75,208.61 L365,208.72 L365.25,208.83 L365.5,208.94 L365.75,209.05 L366,209.16 L366.25,209.27 L366.5,209.38 L366.75,209.5 L367,209.61 L367.25,209.72 L367.5,209.83 L367.75,209.95 L368,210.06 L368.25,210.17 L368.5,210.28 L368.75,210.39 L369,210.51 L369.25,210.62 L369.5,210.72 L369.75,210.83 L370,210.94 L370.25,211.05 L370.5,211.15 L370.75,211.26 L371,211.36 L371.25,211.46 L371.5,211.56 L371.75,211.66 L372,211.76 L372.25,211.86 L372.5,211.95 L372.75,212.05 L373,212.14 L373.25,212.23 L373.5,212.32 L373.75,212.4 L374,212.49 L374.25,212.57 L374.5,212.65 L374.75,212.73 L375,212.81 L375.25,212.89 L375.5,212.96 L375.75,213.04 L376,213.11 L376.25,213.17 L376.5,213.24 L376.75,213.31 L377,213.37 L377.25,213.43 L377.5,213.49 L377.75,213.55 L378,213.61 L378.25,213.66 L378.5,213.71 L378.75,213.76 L379,213.81 L379.25,213.86 L379.5,213.91 L379.75,213.95 L380,213.99 L380.25,214.03 L380.5,214.07 L380.75,214.11 L381,214.15 L381.25,214.18 L381.5,214.22 L381.75,214.25 L382,214.28 L382.25,214.31 L382.5,214.34 L382.75,214.37 L383,214.39 L383.25,214.42 L383.5,214.44 L383.75,214.46 L384,214.48 L384.25,214.5 L384.5,214.52 L384.75,214.54 L385,214.56 L385.25,214.58 L385.5,214.59 L385.75,214.61 L386,214.62 L386.25,214.63 L386.5,214.65 L386.75,214.66 L387,214.67 L387.25,214.68 L387.5,214.69 L387.75,214.7 L388,214.71 L388.25,214.72 L388.5,214.72 L388.75,214.73 L389,214.74 L389.25,214.74 L389.5,214.75 L389.75,214.75 L390,214.76 L390.25,214.76 L390.5,214.77 L390.75,214.77 L391,214.77 L391.25,214.77 L391.5,214.78 L391.75,214.78 L392,214.78 L392.25,214.78 L392.5,214.78 L392.75,214.78 L393,214.78 L393.25,214.79 L393.5,214.79 L393.75,214.79 L394,214.78 L394.25,214.78 L394.5,214.78 L394.75,214.78 L395,214.78 L395.25,214.78 L395.5,214.78 L395.75,214.77 L396,214.77 L396.25,214.77 L396.5,214.76 L396.75,214.76 L397,214.76 L397.25,214.75 L397.5,214.75 L397.75,214.74 L398,214.74 L398.25,214.73 L398.5,214.72 L398.75,214.72 L399,214.71 L399.25,214.7 L399.5,214.69 L399.75,214.68 L400,214.67 L400.25,214.65 L400.5,214.64 L400.75,214.62 L401,214.61 L401.25,214.59 L401.5,214.57 L401.75,214.55 L402,214.53 L402.25,214.51 L402.5,214.48 L402.75,214.45 L403,214.42 L403.25,214.39 L403.5,214.35 L403.75,214.31 L404,214.27 L404.25,214.22 L404.5,214.17 L404.75,214.12 L405,214.06 L405.25,214 L405.5,213.93 L405.75,213.86 L406,213.78 L406.25,213.69 L406.5,213.6 L406.75,213.5 L407,213.39 L407.25,213.28 L407.5,213.15 L407.75,213.02 L408,212.88 L408.25,212.72 L408.5,212.56 L408.75,212.39 L409,212.2 L409.25,212 L409.5,211.79 L409.75,211.56 L410,211.32 L410.25,211.06 L410.5,210.79 L410.75,210.5 L411,210.19 L411.25,209.87 L411.5,209.52 L411.75,209.16 L412,208.78 L412.25,208.37 L412.5,207.94 L412.75,207.49 L413,207.02 L413.25,206.52 L413.5,206 L413.75,205.45 L414,204.87 L414.25,204.27 L414.5,203.64 L414.75,202.98 L415,202.29 L415.25,201.57 L415.5,200.83 L415.75,200.05 L416,199.24 L416.25,198.41 L416.5,197.54 L416.75,196.64 L417,195.71 L417.25,194.74 L417.5,193.75 L417.75,192.72 L418,191.67 L418.25,190.58 L418.5,189.46 L418.75,188.32 L419,187.14 L419.25,185.94 L419.5,184.71 L419.75,183.45 L420,182.16 L420.25,180.86 L420.5,179.53 L420.75,178.17 L421,176.8 L421.25,175.41 L421.5,174 L421.75,172.58 L422,171.14 L422.25,169.7 L422.5,168.24 L422.75,166.78 L423,165.31 L423.25,163.83 L423.5,162.36 L423.75,160.89 L424,159.42 L424.25,157.96 L424.5,156.51 L424.75,155.07 L425,153.65 L425.25,152.24 L425.5,150.86 L425.75,149.49 L426,148.15 L426.25,146.84 L426.5,145.55 L426.75,144.3 L427,143.09 L427.25,141.91 L427.5,140.77 L427.75,139.67 L428,138.62 L428.25,137.61 L428.5,136.65 L428.75,135.74 L429,134.88 L429.25,134.08 L429.5,133.32 L429.75,132.62 L430,131.98 L430.25,131.4 L430.5,130.87 L430.75,130.4 L431,129.99 L431.25,129.63 L431.5,129.34 L431.75,129.1 L432,128.92 L432.25,128.8 L432.5,128.73 L432.75,128.72 L433,128.75 L433.25,128.85 L433.5,128.99 L433.75,129.18 L434,129.41 L434.25,129.69 L434.5,130.01 L434.75,130.37 L435,130.76 L435.25,131.19 L435.5,131.64 L435.75,132.12 L436,132.63 L436.25,133.15 L436.5,133.69 L436.75,134.25 L437,134.81 L437.25,135.37 L437.5,135.94 L437.75,136.5 L438,137.06 L438.25,137.6 L438.5,138.13 L438.75,138.64 L439,139.13 L439.25,139.59 L439.5,140.02 L439.75,140.42 L440,140.78 L440.25,141.09 L440.5,141.36 L440.75,141.58 L441,141.75 L441.25,141.86 L441.5,141.92 L441.75,141.91 L442,141.84 L442.25,141.71 L442.5,141.5 L442.75,141.22 L443,140.87 L443.25,140.45 L443.5,139.95 L443.75,139.37 L444,138.71 L444.25,137.98 L444.5,137.16 L444.75,136.26 L445,135.28 L445.25,134.22 L445.5,133.08 L445.75,131.87 L446,130.57 L446.25,129.19 L446.5,127.74 L446.75,126.22 L447,124.62 L447.25,122.95 L447.5,121.22 L447.75,119.41 L448,117.55 L448.25,115.63 L448.5,113.65 L448.75,111.62 L449,109.54 L449.25,107.41 L449.5,105.25 L449.75,103.04 L450,100.81 L450.25,98.55 L450.5,96.27 L450.75,93.97 L451,91.66 L451.25,89.34 L451.5,87.02 L451.75,84.71 L452,82.4 L452.25,80.11 L452.5,77.84 L452.75,75.59 L453,73.38 L453.25,71.21 L453.5,69.07 L453.75,66.99 L454,64.96 L454.25,62.99 L454.5,61.08 L454.75,59.24 L455,57.48 L455.25,55.8 L455.5,54.2 L455.75,52.69 L456,51.28 L456.25,49.96 L456.5,48.75 L456.75,47.64 L457,46.64 L457.25,45.75 L457.5,44.98 L457.75,44.32 L458,43.79 L458.25,43.38 L458.5,43.09 L458.75,42.92 L459,42.88 L459.25,42.97 L459.5,43.18 L459.75,43.52 L460,43.99 L460.25,44.58 L460.5,45.29 L460.75,46.13 L461,47.09 L461.25,48.16 L461.5,49.36 L461.75,50.66 L462,52.07 L462.25,53.6 L462.5,55.22 L462.75,56.94 L463,58.76 L463.25,60.67 L463.5,62.67 L463.75,64.75 L464,66.91 L464.25,69.14 L464.5,71.43 L464.75,73.8 L465,76.22 L465.25,78.69 L465.5,81.21 L465.75,83.78 L466,86.38 L466.25,89.02 L466.5,91.69 L466.75,94.38 L467,97.09 L467.25,99.82 L467.5,102.55 L467.75,105.29 L468,108.03 L468.25,110.77 L468.5,113.5 L468.75,116.22 L469,118.93 L469.25,121.61 L469.5,124.27 L469.75,126.9 L470,129.51 L470.25,132.08 L470.5,134.62 L470.75,137.11 L471,139.57 L471.25,141.98 L471.5,144.35 L471.75,146.67 L472,148.94 L472.25,151.16 L472.5,153.32 L472.75,155.43 L473,157.49 L473.25,159.49 L473.5,161.43 L473.75,163.31 L474,165.14 L474.25,166.91 L474.5,168.62 L474.75,170.26 L475,171.86 L475.25,173.39 L475.5,174.86 L475.75,176.27 L476,177.63 L476.25,178.93 L476.5,180.18 L476.75,181.37 L477,182.51 L477.25,183.59 L477.5,184.62 L477.75,185.6 L478,186.53 L478.25,187.42 L478.5,188.26 L478.75,189.05 L479,189.8 L479.25,190.5 L479.5,191.17 L479.75,191.79 L480,192.38 L480.25,192.94 L480.5,193.46 L480.75,193.94 L481,194.4 L481.25,194.83 L481.5,195.24 L481.75,195.61 L482,195.97 L482.25,196.3 L482.5,196.61 L482.75,196.91 L483,197.18 L483.25,197.44 L483.5,197.69 L483.75,197.92 L484,198.15 L484.25,198.36 L484.5,198.56 L484.75,198.76 L485,198.94 L485.25,199.13 L485.5,199.31 L485.75,199.48 L486,199.65 L486.25,199.83 L486.5,200 L486.75,200.17 L487,200.34 L487.25,200.51 L487.5,200.68 L487.75,200.86 L488,201.03 L488.25,201.22 L488.5,201.4 L488.75,201.59 L489,201.78 L489.25,201.97 L489.5,202.17 L489.75,202.38 L490,202.58 L490.25,202.79 L490.5,203.01 L490.75,203.23 L491,203.45 L491.25,203.68 L491.5,203.91 L491.75,204.14 L492,204.38 L492.25,204.62 L492.5,204.86 L492.75,205.1 L493,205.35 L493.25,205.6 L493.5,205.85 L493.75,206.1 L494,206.35 L494.25,206.61 L494.5,206.86 L494.75,207.12 L495,207.37 L495.25,207.63 L495.5,207.89 L495.75,208.14 L496,208.4 L496.25,208.65 L496.5,208.91 L496.75,209.16 L497,209.41 L497.25,209.67 L497.5,209.91 L497.75,210.16 L498,210.41 L498.25,210.66 L498.5,210.9 L498.75,211.14 L499,211.38 L499.25,211.62 L499.5,211.85 L499.75,212.08 L500,212.31 L500.25,212.54 L500.5,212.77 L500.75,212.99 L501,213.21 L501.25,213.43 L501.5,213.64 L501.75,213.86 L502,214.07 L502.25,214.27 L502.5,214.48 L502.75,214.68 L503,214.87 L503.25,215.07 L503.5,215.26 L503.75,215.45 L504,215.64 L504.25,215.82 L504.5,216.01 L504.75,216.18 L505,216.36 L505.25,216.53 L505.5,216.7 L505.75,216.87 L506,217.03 L506.25,217.2 L506.5,217.36 L506.75,217.51 L507,217.67 L507.25,217.82 L507.5,217.97 L507.75,218.11 L508,218.26 L508.25,218.4 L508.5,218.54 L508.75,218.67 L509,218.81 L509.25,218.94 L509.5,219.07 L509.75,219.2 L510,219.32 L510.25,219.44 L510.5,219.56 L510.75,219.68 L511,219.8 L511.25,219.91 L511.5,220.02 L511.75,220.13 L512,220.24 L512.25,220.35 L512.5,220.45 L512.75,220.55 L513,220.65 L513.25,220.75 L513.5,220.85 L513.75,220.94 L514,221.03 L514.25,221.12 L514.5,221.21 L514.75,221.3 L515,221.39 L515.25,221.47 L515.5,221.56 L515.75,221.64 L516,221.72 L516.25,221.8 L516.5,221.87 L516.75,221.95 L517,222.02 L517.25,222.1 L517.5,222.17 L517.75,222.24 L518,222.31 L518.25,222.38 L518.5,222.45 L518.75,222.51 L519,222.58 L519.25,222.64 L519.5,222.71 L519.75,222.77 L520,222.83 L520.25,222.89 L520.5,222.95 L520.75,223.01 L521,223.06 L521.25,223.12 L521.5,223.18 L521.75,223.23 L522,223.29 L522.25,223.34 L522.5,223.39 L522.75,223.44 L523,223.49 L523.25,223.54 L523.5,223.59 L523.75,223.64 L524,223.69 L524.25,223.74 L524.5,223.79 L524.75,223.83 L525,223.88 L525.25,223.92 L525.5,223.97 L525.75,224.01 L526,224.06 L526.25,224.1 L526.5,224.14 L526.75,224.19 L527,224.23 L527.25,224.27 L527.5,224.31 L527.75,224.35 L528,224.39 L528.25,224.43 L528.5,224.47 L528.75,224.51 L529,224.55 L529.25,224.58 L529.5,224.62 L529.75,224.66 L530,224.7 L530.25,224.73 L530.5,224.77 L530.75,224.81 L531,224.84 L531.25,224.88 L531.5,224.91 L531.75,224.95 L532,224.98 L532.25,225.01 L532.5,225.05 L532.75,225.08 L533,225.11 L533.25,225.15 L533.5,225.18 L533.75,225.21 L534,225.24 L534.25,225.28 L534.5,225.31 L534.75,225.34 L535,225.37" fill="none" stroke="#f01010" stroke-width="1.4"/>
</g>
<path d="M24,10.5H246.3V228.45H24" fill="none" stroke="#2a2a2a" stroke-width="1.15"/>
<path d="M24,10.3V232.6" fill="none" stroke="#303030" stroke-width="1.05"/>
<path d="M303.4,6.3H535.1V230.6H303.4Z" fill="none" stroke="#303030" stroke-width="1.2"/>
<path d="M23.8,46.6h3.6 M23.8,82.9h3.6 M23.8,119.3h3.6 M23.8,155.6h3.6 M23.8,191.5h3.6 M23.8,228.5v4 M48.52,228.5v2 M73.24,228.5v4 M97.96,228.5v2 M122.68,228.5v4 M147.4,228.5v2 M172.12,228.5v4 M196.84,228.5v2 M221.56,228.5v4 M246.28,228.5v2 M303.5,52h3.6 M303.5,97.7h3.6 M303.5,143.3h3.6 M303.5,189h3.6 M303.5,230.6v4 M326.62,230.6v2 M349.74,230.6v4 M372.86,230.6v2 M395.98,230.6v4 M419.1,230.6v2 M442.22,230.6v4 M465.34,230.6v2 M488.46,230.6v4 M511.58,230.6v2 M534.7,230.6v4" stroke="#2e2e2e" stroke-width="1.1" fill="none"/>
<text x="23.8" y="247.2" font-family="Liberation Serif" font-size="13.6" text-anchor="middle">240</text>
<text x="73.24" y="247.2" font-family="Liberation Serif" font-size="13.6" text-anchor="middle">236</text>
<text x="122.68" y="247.2" font-family="Liberation Serif" font-size="13.6" text-anchor="middle">232</text>
<text x="172.12" y="247.2" font-family="Liberation Serif" font-size="13.6" text-anchor="middle">228</text>
<text x="221.56" y="247.2" font-family="Liberation Serif" font-size="13.6" text-anchor="middle">224</text>
<text x="304.8" y="249.4" font-family="Liberation Serif" font-size="14.2" text-anchor="middle">170</text>
<text x="349.74" y="249.4" font-family="Liberation Serif" font-size="14.2" text-anchor="middle">168</text>
<text x="395.98" y="249.4" font-family="Liberation Serif" font-size="14.2" text-anchor="middle">166</text>
<text x="442.22" y="249.4" font-family="Liberation Serif" font-size="14.2" text-anchor="middle">164</text>
<text x="488.46" y="249.4" font-family="Liberation Serif" font-size="14.2" text-anchor="middle">162</text>
<text x="534.7" y="249.4" font-family="Liberation Serif" font-size="14.2" text-anchor="middle">160</text>
<text x="70.2" y="266.6" font-family="Liberation Serif" font-size="15.8" textLength="133" lengthAdjust="spacingAndGlyphs">Binding Energy (eV)</text>
<text x="369.4" y="268.6" font-family="Liberation Serif" font-size="16" textLength="136.5" lengthAdjust="spacingAndGlyphs">Binding Energy (eV)</text>
<text transform="translate(15.6,171.3) rotate(-90)" font-family="Liberation Serif" font-size="15.9" textLength="117.2" lengthAdjust="spacingAndGlyphs">Intensity (arb. un.)</text>
<text transform="translate(291.6,171) rotate(-90)" font-family="Liberation Serif" font-size="15.8" textLength="119" lengthAdjust="spacingAndGlyphs">Intensity (arb. un.)</text>
<text x="115.6" y="291.5" font-family="Liberation Serif" font-size="16">(<tspan font-weight="bold">a</tspan>)</text>
<text x="399" y="291.7" font-family="Liberation Serif" font-size="16">(<tspan font-weight="bold">b</tspan>)</text>
<text x="124" y="26.1" font-family="Liberation Serif" font-size="18.2" font-weight="bold">Mo 3d</text>
<text x="427.6" y="26.1" font-family="Liberation Serif" font-size="19.2" font-weight="bold">S 2p</text>
<rect x="32.5" y="18.2" width="31.6" height="14.4" fill="#8080ff" stroke="#6a6ae6" stroke-width="0.8"/>
<rect x="32.5" y="38.4" width="31.6" height="15" fill="#00f07a" stroke="#10c868" stroke-width="0.8"/>
<rect x="32.5" y="60.4" width="31.6" height="15.7" fill="#ff80ff" stroke="#d060d0" stroke-width="0.8"/>
<path d="M33.4,87.8H64" stroke="#a01c1c" stroke-width="1.6" stroke-dasharray="6.6,6.8"/>
<path d="M33.4,102.3H64" stroke="#ff8c1a" stroke-width="1.6" stroke-dasharray="6.6,6.8"/>
<text x="68.6" y="30.4" font-family="Liberation Serif" font-weight="bold" font-size="12.6">Mo<tspan font-size="8.8" dy="-3.8">4+</tspan></text>
<text x="68.6" y="51.2" font-family="Liberation Serif" font-weight="bold" font-size="12.6">Mo<tspan font-size="8.8" dy="-3.8">5+</tspan></text>
<text x="68.6" y="72.3" font-family="Liberation Serif" font-weight="bold" font-size="12.6">Mo<tspan font-size="8.8" dy="-3.8">6+</tspan></text>
<text x="71.2" y="90" font-family="Liberation Serif" font-weight="bold" font-size="12.6">S<tspan font-size="8.8" dy="2.8">2</tspan><tspan font-size="8.8" dy="-7.8">2-</tspan></text>
<text x="71.2" y="106.3" font-family="Liberation Serif" font-weight="bold" font-size="12.6">S<tspan font-size="8.8" dy="-3.8">2-</tspan></text>
<rect x="315" y="12.7" width="33.8" height="15.9" fill="#c8504e" stroke="#a03c3c" stroke-width="0.9"/>
<rect x="315" y="35.8" width="33.8" height="15.9" fill="#ffff70" stroke="#d8d060" stroke-width="0.9"/>
<rect x="315" y="59.1" width="33.8" height="15.9" fill="#50c07e" stroke="#40a068" stroke-width="0.9"/>
<text x="357" y="25" font-family="Liberation Serif" font-weight="bold" font-size="12.9">LBE (S<tspan font-size="8.8" dy="-3.8">2-</tspan><tspan dy="3.8">)</tspan></text>
<text x="357" y="48.2" font-family="Liberation Serif" font-weight="bold" font-size="12.9">HBE (S<tspan font-size="8.8" dy="2.8">2</tspan><tspan font-size="8.8" dy="-7.8">2-</tspan><tspan dy="5">)</tspan></text>
<text x="357" y="71.5" font-family="Liberation Serif" font-weight="bold" font-size="12.9">S-O</text>
</svg>
</body></html>
